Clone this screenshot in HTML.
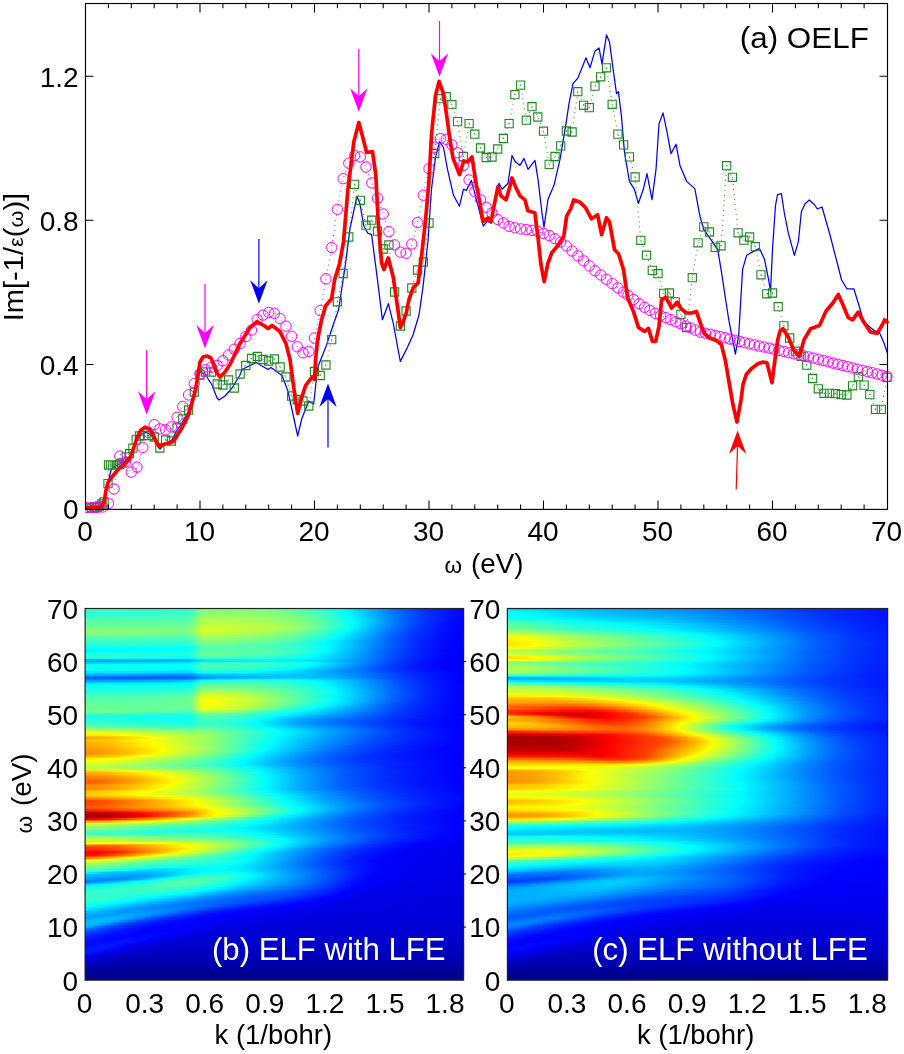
<!DOCTYPE html>
<html lang="en"><head><meta charset="utf-8"><title>OELF and ELF maps</title>
<style>html,body{margin:0;padding:0;background:#fff}svg{display:block}</style></head>
<body>
<svg width="904" height="1054" viewBox="0 0 904 1054">
<rect width="904" height="1054" fill="#fff"/>
<g id="panel-a">
<clipPath id="ca"><rect x="85.5" y="3.5" width="808.0" height="509.9"/></clipPath>
<g clip-path="url(#ca)">
<polyline fill="none" stroke="#0000ff" stroke-width="1.25" stroke-linejoin="round" points="85.5,507.5 100,507 104,503 106,492 108,483 111,470 115,466 120,464 125,461 130,456 134,446 138,438 142,434 146,432.5 150,434 154,439 158,447 160,449 163,446 168,442 172,440 176,432 182,423 188,412 193,396 197,380 200,372 205,374 212,385 217,398 219,400 225,396 232,388 240,375 242,369.5 256,362.5 268,369.5 271,367.5 282,375.5 288,391.4 294,419 297.7,436 301.7,419 308.7,401 313.7,404 317.6,367.5 325.6,347.6 333.6,323.7 338.6,309.7 345.5,264 349.9,229.2 356.9,196.3 359.8,203.3 363.8,226 367.8,233.2 371.6,234.7 376.6,272.9 382.4,319.7 388.4,303.7 393.3,323.7 400.3,361.5 407.3,347.6 413,335 419,315 423.1,286.2 428.1,239.7 431.4,189.8 435.5,157.5 439.5,141.6 443.5,147.5 447.5,169.4 453.5,195.3 459.4,206.3 463.4,189.4 466.4,190.4 471.4,180.4 477.4,203.3 483.3,226.2 487.3,221.2 491.3,223.2 496.2,194.8 499,183.3 502,189.3 508,183.3 512,155.5 515,161.4 520,165.4 524,158.4 528,169.4 535,160.4 538,179.4 542,213.2 544,227.2 548,199.3 554,185.3 560,159.4 566,123.6 569,103.7 573,83.7 578,77.8 586,57.8 590,67.8 595,50.9 599,47.9 602,63.8 606.5,34.9 609.5,41.9 613.5,71.8 616.5,93.7 618.4,91.7 621.4,115.6 624.4,151.5 629.4,181.4 634.4,189.3 638.4,203.3 643.3,189.3 647,173.7 652,199.6 656,169.7 659,123.9 663,112.9 667,131.8 671,153.7 676,144.2 680,165.7 686.8,181.6 694.8,188.6 699.8,215.5 703.7,229.4 717.7,249.4 721.7,273.3 725.7,300 728.8,319.8 735.4,354.1 738.7,335.3 742.6,269.3 746.6,255.3 753.5,251.4 759.5,248.4 764.5,259.3 768.5,279.2 770.5,291.2 772.5,249.4 775.5,205.5 777.5,194.6 781.4,193.6 784.4,213.5 788.4,233.4 794.4,255.3 798.4,241.4 801.4,211.5 805.3,203.5 809.3,200 814.3,204.5 817.3,209 822,207 830,235 841.6,280 847,288.8 853.8,288.8 859.3,306.5 863.7,322 874.8,330.9 879.2,332 883.6,341.9 887.4,353"/>
<polyline fill="none" stroke="#1e8a1e" stroke-width="1" stroke-dasharray="1 4" points="87,508 89.5,508 92,508 94.5,507.5 97,507 99.5,506 102,504 104,502 108,483.6 108.5,465 110.7,465 112.9,465 115.1,464.8 117.3,464.8 119.5,464.5 121.8,463 126.2,457 129.6,453.7 132.9,448.2 136.2,439.9 139.5,436 143.9,435.5 148.4,435.5 154.2,437 159.9,448 165.6,440 171.4,441 177.1,428 182.8,419 188.6,410 194.3,392 200,375 205.7,372 211.4,372 217.2,384 222.9,385 228.6,380 234.3,388 240.1,374 245.8,365.5 251.5,358.5 257.2,356.5 263,359.5 268.7,361 274.4,359 280.1,367 285.9,377 291.6,396 297.3,399.5 303,401 308.8,406 314.5,371.5 320.2,375.5 325.9,365 331.7,339.6 337.4,301.8 343.1,273.5 348.8,237 354.6,184.4 360.3,200.3 366,225.2 371.8,220.2 377.5,231.2 383.2,249 388.9,245 394.6,292 400.4,326 406.1,311 411.8,288 417.5,270 423.3,262 429,223 434.7,153.5 440.4,98.7 446.2,96.7 451.9,104.7 457.6,121.6 463.3,156.5 469.1,123.6 474.8,134.2 480.5,148 486.2,157.5 492,157 497.7,149 503.4,138.5 509.1,123.6 514.9,94.7 520.6,85.1 526.3,120.2 532,106.7 537.8,117 543.5,131.2 549.2,164.4 555,156.5 560.7,145.9 566.4,131 572.1,132 577.8,91.7 583.6,105.3 589.3,107.6 595,86.1 600.8,76.8 606.5,67.8 612.2,104.3 617.9,134.1 623.6,144.9 629.4,156.9 635.1,177 640.8,240.3 646.5,255.2 652.3,270.4 658,273.7 663.7,293.4 669.4,293 675.2,301.8 680.9,314.4 686.6,327.5 692.3,277.7 698.1,242.8 703.8,226.9 709.5,232 715.2,247.4 721,245.8 726.7,165.7 732.4,177.3 738.1,232.8 743.9,240.2 749.6,237 755.3,246.7 761,274.8 766.8,293.8 772.5,293 778.2,306.7 783.9,325.8 789.7,338 795.4,351.2 801.1,356.3 806.8,365.2 812.6,378.5 818.3,388.8 824,393.3 829.8,393.3 835.5,393.7 841.2,394.6 846.9,395 852.6,385.8 858.4,376.7 864.1,385.1 869.8,394.6 875.5,409.4 881.3,409.4 887,377.3"/>
<path fill="none" stroke="#1e8a1e" stroke-width="1.1" d="M82.9 503.9h8.2v8.2h-8.2zM85.4 503.9h8.2v8.2h-8.2zM87.9 503.9h8.2v8.2h-8.2zM90.4 503.4h8.2v8.2h-8.2zM92.9 502.9h8.2v8.2h-8.2zM95.4 501.9h8.2v8.2h-8.2zM97.9 499.9h8.2v8.2h-8.2zM99.9 497.9h8.2v8.2h-8.2zM103.9 479.5h8.2v8.2h-8.2zM104.4 460.9h8.2v8.2h-8.2zM106.6 460.9h8.2v8.2h-8.2zM108.8 460.9h8.2v8.2h-8.2zM111 460.7h8.2v8.2h-8.2zM113.2 460.7h8.2v8.2h-8.2zM115.4 460.4h8.2v8.2h-8.2zM117.7 458.9h8.2v8.2h-8.2zM122.1 452.9h8.2v8.2h-8.2zM125.5 449.6h8.2v8.2h-8.2zM128.8 444.1h8.2v8.2h-8.2zM132.1 435.8h8.2v8.2h-8.2zM135.4 431.9h8.2v8.2h-8.2zM139.8 431.4h8.2v8.2h-8.2zM144.3 431.4h8.2v8.2h-8.2zM150.1 432.9h8.2v8.2h-8.2zM155.8 443.9h8.2v8.2h-8.2zM161.5 435.9h8.2v8.2h-8.2zM167.3 436.9h8.2v8.2h-8.2zM173 423.9h8.2v8.2h-8.2zM178.7 414.9h8.2v8.2h-8.2zM184.5 405.9h8.2v8.2h-8.2zM190.2 387.9h8.2v8.2h-8.2zM195.9 370.9h8.2v8.2h-8.2zM201.6 367.9h8.2v8.2h-8.2zM207.3 367.9h8.2v8.2h-8.2zM213.1 379.9h8.2v8.2h-8.2zM218.8 380.9h8.2v8.2h-8.2zM224.5 375.9h8.2v8.2h-8.2zM230.2 383.9h8.2v8.2h-8.2zM236 369.9h8.2v8.2h-8.2zM241.7 361.4h8.2v8.2h-8.2zM247.4 354.4h8.2v8.2h-8.2zM253.2 352.4h8.2v8.2h-8.2zM258.9 355.4h8.2v8.2h-8.2zM264.6 356.9h8.2v8.2h-8.2zM270.3 354.9h8.2v8.2h-8.2zM276 362.9h8.2v8.2h-8.2zM281.8 372.9h8.2v8.2h-8.2zM287.5 391.9h8.2v8.2h-8.2zM293.2 395.4h8.2v8.2h-8.2zM298.9 396.9h8.2v8.2h-8.2zM304.7 401.9h8.2v8.2h-8.2zM310.4 367.4h8.2v8.2h-8.2zM316.1 371.4h8.2v8.2h-8.2zM321.8 360.9h8.2v8.2h-8.2zM327.6 335.5h8.2v8.2h-8.2zM333.3 297.7h8.2v8.2h-8.2zM339 269.4h8.2v8.2h-8.2zM344.7 232.9h8.2v8.2h-8.2zM350.5 180.3h8.2v8.2h-8.2zM356.2 196.2h8.2v8.2h-8.2zM361.9 221.1h8.2v8.2h-8.2zM367.6 216.1h8.2v8.2h-8.2zM373.4 227.1h8.2v8.2h-8.2zM379.1 244.9h8.2v8.2h-8.2zM384.8 240.9h8.2v8.2h-8.2zM390.5 287.9h8.2v8.2h-8.2zM396.3 321.9h8.2v8.2h-8.2zM402 306.9h8.2v8.2h-8.2zM407.7 283.9h8.2v8.2h-8.2zM413.4 265.9h8.2v8.2h-8.2zM419.2 257.9h8.2v8.2h-8.2zM424.9 218.9h8.2v8.2h-8.2zM430.6 149.4h8.2v8.2h-8.2zM436.3 94.6h8.2v8.2h-8.2zM442.1 92.6h8.2v8.2h-8.2zM447.8 100.6h8.2v8.2h-8.2zM453.5 117.5h8.2v8.2h-8.2zM459.2 152.4h8.2v8.2h-8.2zM465 119.5h8.2v8.2h-8.2zM470.7 130.1h8.2v8.2h-8.2zM476.4 143.9h8.2v8.2h-8.2zM482.1 153.4h8.2v8.2h-8.2zM487.9 152.9h8.2v8.2h-8.2zM493.6 144.9h8.2v8.2h-8.2zM499.3 134.4h8.2v8.2h-8.2zM505 119.5h8.2v8.2h-8.2zM510.8 90.6h8.2v8.2h-8.2zM516.5 81h8.2v8.2h-8.2zM522.2 116.1h8.2v8.2h-8.2zM527.9 102.6h8.2v8.2h-8.2zM533.7 112.9h8.2v8.2h-8.2zM539.4 127.1h8.2v8.2h-8.2zM545.1 160.3h8.2v8.2h-8.2zM550.9 152.4h8.2v8.2h-8.2zM556.6 141.8h8.2v8.2h-8.2zM562.3 126.9h8.2v8.2h-8.2zM568 127.9h8.2v8.2h-8.2zM573.7 87.6h8.2v8.2h-8.2zM579.5 101.2h8.2v8.2h-8.2zM585.2 103.5h8.2v8.2h-8.2zM590.9 82h8.2v8.2h-8.2zM596.6 72.7h8.2v8.2h-8.2zM602.4 63.7h8.2v8.2h-8.2zM608.1 100.2h8.2v8.2h-8.2zM613.8 130h8.2v8.2h-8.2zM619.5 140.8h8.2v8.2h-8.2zM625.3 152.8h8.2v8.2h-8.2zM631 172.9h8.2v8.2h-8.2zM636.7 236.2h8.2v8.2h-8.2zM642.4 251.1h8.2v8.2h-8.2zM648.2 266.3h8.2v8.2h-8.2zM653.9 269.6h8.2v8.2h-8.2zM659.6 289.3h8.2v8.2h-8.2zM665.3 288.9h8.2v8.2h-8.2zM671.1 297.7h8.2v8.2h-8.2zM676.8 310.3h8.2v8.2h-8.2zM682.5 323.4h8.2v8.2h-8.2zM688.2 273.6h8.2v8.2h-8.2zM694 238.7h8.2v8.2h-8.2zM699.7 222.8h8.2v8.2h-8.2zM705.4 227.9h8.2v8.2h-8.2zM711.1 243.3h8.2v8.2h-8.2zM716.9 241.7h8.2v8.2h-8.2zM722.6 161.6h8.2v8.2h-8.2zM728.3 173.2h8.2v8.2h-8.2zM734 228.7h8.2v8.2h-8.2zM739.8 236.1h8.2v8.2h-8.2zM745.5 232.9h8.2v8.2h-8.2zM751.2 242.6h8.2v8.2h-8.2zM756.9 270.7h8.2v8.2h-8.2zM762.7 289.7h8.2v8.2h-8.2zM768.4 288.9h8.2v8.2h-8.2zM774.1 302.6h8.2v8.2h-8.2zM779.8 321.7h8.2v8.2h-8.2zM785.6 333.9h8.2v8.2h-8.2zM791.3 347.1h8.2v8.2h-8.2zM797 352.2h8.2v8.2h-8.2zM802.7 361.1h8.2v8.2h-8.2zM808.5 374.4h8.2v8.2h-8.2zM814.2 384.7h8.2v8.2h-8.2zM819.9 389.2h8.2v8.2h-8.2zM825.6 389.2h8.2v8.2h-8.2zM831.4 389.6h8.2v8.2h-8.2zM837.1 390.5h8.2v8.2h-8.2zM842.8 390.9h8.2v8.2h-8.2zM848.5 381.7h8.2v8.2h-8.2zM854.3 372.6h8.2v8.2h-8.2zM860 381h8.2v8.2h-8.2zM865.7 390.5h8.2v8.2h-8.2zM871.4 405.3h8.2v8.2h-8.2zM877.2 405.3h8.2v8.2h-8.2zM882.9 373.2h8.2v8.2h-8.2z"/>
<path fill="none" stroke="#1e8a1e" stroke-width="1" d="M86.5 508h1M89 508h1M91.5 508h1M94 507.5h1M96.5 507h1M99 506h1M101.5 504h1M103.5 502h1M107.5 483.6h1M108 465h1M110.2 465h1M112.4 465h1M114.6 464.8h1M116.8 464.8h1M119 464.5h1M121.3 463h1M125.7 457h1M129.1 453.7h1M132.4 448.2h1M135.7 439.9h1M139 436h1M143.4 435.5h1M147.9 435.5h1M153.7 437h1M159.4 448h1M165.1 440h1M170.9 441h1M176.6 428h1M182.3 419h1M188.1 410h1M193.8 392h1M199.5 375h1M205.2 372h1M210.9 372h1M216.7 384h1M222.4 385h1M228.1 380h1M233.8 388h1M239.6 374h1M245.3 365.5h1M251 358.5h1M256.8 356.5h1M262.5 359.5h1M268.2 361h1M273.9 359h1M279.6 367h1M285.4 377h1M291.1 396h1M296.8 399.5h1M302.5 401h1M308.3 406h1M314 371.5h1M319.7 375.5h1M325.4 365h1M331.2 339.6h1M336.9 301.8h1M342.6 273.5h1M348.3 237h1M354.1 184.4h1M359.8 200.3h1M365.5 225.2h1M371.2 220.2h1M377 231.2h1M382.7 249h1M388.4 245h1M394.1 292h1M399.9 326h1M405.6 311h1M411.3 288h1M417 270h1M422.8 262h1M428.5 223h1M434.2 153.5h1M439.9 98.7h1M445.7 96.7h1M451.4 104.7h1M457.1 121.6h1M462.8 156.5h1M468.6 123.6h1M474.3 134.2h1M480 148h1M485.8 157.5h1M491.5 157h1M497.2 149h1M502.9 138.5h1M508.6 123.6h1M514.4 94.7h1M520.1 85.1h1M525.8 120.2h1M531.5 106.7h1M537.3 117h1M543 131.2h1M548.7 164.4h1M554.5 156.5h1M560.2 145.9h1M565.9 131h1M571.6 132h1M577.3 91.7h1M583.1 105.3h1M588.8 107.6h1M594.5 86.1h1M600.2 76.8h1M606 67.8h1M611.7 104.3h1M617.4 134.1h1M623.1 144.9h1M628.9 156.9h1M634.6 177h1M640.3 240.3h1M646 255.2h1M651.8 270.4h1M657.5 273.7h1M663.2 293.4h1M668.9 293h1M674.7 301.8h1M680.4 314.4h1M686.1 327.5h1M691.8 277.7h1M697.6 242.8h1M703.3 226.9h1M709 232h1M714.8 247.4h1M720.5 245.8h1M726.2 165.7h1M731.9 177.3h1M737.6 232.8h1M743.4 240.2h1M749.1 237h1M754.8 246.7h1M760.5 274.8h1M766.3 293.8h1M772 293h1M777.7 306.7h1M783.4 325.8h1M789.2 338h1M794.9 351.2h1M800.6 356.3h1M806.3 365.2h1M812.1 378.5h1M817.8 388.8h1M823.5 393.3h1M829.2 393.3h1M835 393.7h1M840.7 394.6h1M846.4 395h1M852.1 385.8h1M857.9 376.7h1M863.6 385.1h1M869.3 394.6h1M875 409.4h1M880.8 409.4h1M886.5 377.3h1"/>
<polyline fill="none" stroke="#ff00ff" stroke-width="1" stroke-dasharray="1 4" points="85.5,507.5 97,507.5 103,507 108,504 111.9,501.3 113.5,493 116.3,475.3 118.5,460 120.7,453.7 124,458 128,468 132,473 135,471.4 137.9,465.3 140,458 142.3,448.7 146,438 150,429 153.9,424.4 159.4,428.8 165,430 170.5,428.3 176,419.4 182,408 188,396 194,384 200,374 206,369.5 212,367 219,364.8 226,357.7 233,350.6 240,343.5 245,337.5 252,329.6 257,319.7 262,315.7 267,312.7 272,312 277,314.7 285,324.7 290.8,334.6 295.7,344.6 301.7,352.6 307.7,353.5 313.7,341.6 318.6,319.7 324.6,286.2 331.6,248 336.9,212.3 341.9,182.4 347.9,164.5 354.3,155.5 359.8,156 365.8,166.5 370.8,180.4 376.8,196.3 383.3,214.3 388.7,231.2 394,244 400,252 405.5,254 411,247 417,225.2 422.6,198.3 428.6,170.4 433.5,149.5 439.5,138.6 445.5,138.6 451.5,144.5 457.5,152.5 463.4,165.5 468.4,178.4 473.4,189.4 479.4,198.3 485.3,206.3 490.3,211 498,219.8 510,226.8 520,228.8 535.8,230.8 549.8,235.7 563.7,243.7 577.6,255.7 593.6,269.6 609.5,281.6 625.5,293.5 641.4,305.5 655.3,313.4 670,319.4 700,332 722,337 744,342.6 766.4,347.5 788.5,352.6 810.6,357.4 832.7,363 854.9,368.5 877,374 887.4,376.7"/>
<g fill="none" stroke="#ff00ff" stroke-width="1">
<circle cx="85.5" cy="507.5" r="5.2"/><circle cx="91.2" cy="507.5" r="5.2"/><circle cx="97" cy="507.5" r="5.2"/><circle cx="102.7" cy="507" r="5.2"/><circle cx="108.4" cy="503.7" r="5.2"/><circle cx="114.1" cy="489" r="5.2"/><circle cx="119.8" cy="456.1" r="5.2"/><circle cx="125.6" cy="461.9" r="5.2"/><circle cx="131.3" cy="472.1" r="5.2"/><circle cx="137" cy="467.1" r="5.2"/><circle cx="142.8" cy="447.4" r="5.2"/><circle cx="148.5" cy="432.4" r="5.2"/><circle cx="154.2" cy="424.6" r="5.2"/><circle cx="159.9" cy="428.9" r="5.2"/><circle cx="165.6" cy="429.8" r="5.2"/><circle cx="171.4" cy="426.9" r="5.2"/><circle cx="177.1" cy="417.3" r="5.2"/><circle cx="182.8" cy="406.4" r="5.2"/><circle cx="188.6" cy="394.9" r="5.2"/><circle cx="194.3" cy="383.5" r="5.2"/><circle cx="200" cy="374" r="5.2"/><circle cx="205.7" cy="369.7" r="5.2"/><circle cx="211.4" cy="367.2" r="5.2"/><circle cx="217.2" cy="365.4" r="5.2"/><circle cx="222.9" cy="360.8" r="5.2"/><circle cx="228.6" cy="355" r="5.2"/><circle cx="234.3" cy="349.2" r="5.2"/><circle cx="240.1" cy="343.4" r="5.2"/><circle cx="245.8" cy="336.6" r="5.2"/><circle cx="251.5" cy="330.1" r="5.2"/><circle cx="257.2" cy="319.5" r="5.2"/><circle cx="263" cy="315.1" r="5.2"/><circle cx="268.7" cy="312.5" r="5.2"/><circle cx="274.4" cy="313.3" r="5.2"/><circle cx="280.1" cy="318.6" r="5.2"/><circle cx="285.9" cy="326.2" r="5.2"/><circle cx="291.6" cy="336.2" r="5.2"/><circle cx="297.3" cy="346.8" r="5.2"/><circle cx="303" cy="352.8" r="5.2"/><circle cx="308.8" cy="351.4" r="5.2"/><circle cx="314.5" cy="338" r="5.2"/><circle cx="320.2" cy="310.6" r="5.2"/><circle cx="325.9" cy="278.8" r="5.2"/><circle cx="331.7" cy="247.5" r="5.2"/><circle cx="337.4" cy="209.3" r="5.2"/><circle cx="343.1" cy="178.7" r="5.2"/><circle cx="348.8" cy="163.2" r="5.2"/><circle cx="354.6" cy="155.5" r="5.2"/><circle cx="360.3" cy="156.9" r="5.2"/><circle cx="366" cy="167.1" r="5.2"/><circle cx="371.8" cy="182.9" r="5.2"/><circle cx="377.5" cy="198.2" r="5.2"/><circle cx="383.2" cy="214" r="5.2"/><circle cx="388.9" cy="231.7" r="5.2"/><circle cx="394.6" cy="244.9" r="5.2"/><circle cx="400.4" cy="252.1" r="5.2"/><circle cx="406.1" cy="253.2" r="5.2"/><circle cx="411.8" cy="244" r="5.2"/><circle cx="417.5" cy="222.6" r="5.2"/><circle cx="423.3" cy="195.2" r="5.2"/><circle cx="429" cy="168.7" r="5.2"/><circle cx="434.7" cy="147.3" r="5.2"/><circle cx="440.4" cy="138.6" r="5.2"/><circle cx="446.2" cy="139.3" r="5.2"/><circle cx="451.9" cy="145" r="5.2"/><circle cx="457.6" cy="152.8" r="5.2"/><circle cx="463.3" cy="165.4" r="5.2"/><circle cx="469.1" cy="179.9" r="5.2"/><circle cx="474.8" cy="191.5" r="5.2"/><circle cx="480.5" cy="199.8" r="5.2"/><circle cx="486.2" cy="207.2" r="5.2"/><circle cx="492" cy="212.9" r="5.2"/><circle cx="497.7" cy="219.5" r="5.2"/><circle cx="503.4" cy="223" r="5.2"/><circle cx="509.1" cy="226.3" r="5.2"/><circle cx="514.9" cy="227.8" r="5.2"/><circle cx="520.6" cy="228.9" r="5.2"/><circle cx="526.3" cy="229.6" r="5.2"/><circle cx="532" cy="230.3" r="5.2"/><circle cx="537.8" cy="231.5" r="5.2"/><circle cx="543.5" cy="233.5" r="5.2"/><circle cx="549.2" cy="235.5" r="5.2"/><circle cx="555" cy="238.7" r="5.2"/><circle cx="560.7" cy="242" r="5.2"/><circle cx="566.4" cy="246" r="5.2"/><circle cx="572.1" cy="251" r="5.2"/><circle cx="577.8" cy="255.9" r="5.2"/><circle cx="583.6" cy="260.9" r="5.2"/><circle cx="589.3" cy="265.9" r="5.2"/><circle cx="595" cy="270.7" r="5.2"/><circle cx="600.8" cy="275" r="5.2"/><circle cx="606.5" cy="279.3" r="5.2"/><circle cx="612.2" cy="283.6" r="5.2"/><circle cx="617.9" cy="287.9" r="5.2"/><circle cx="623.6" cy="292.1" r="5.2"/><circle cx="627.9" cy="295.3" r="5.2"/><circle cx="633.5" cy="299.6" r="5.2"/><circle cx="639.1" cy="303.7" r="5.2"/><circle cx="644.6" cy="307.3" r="5.2"/><circle cx="649.9" cy="310.4" r="5.2"/><circle cx="655.3" cy="313.4" r="5.2"/><circle cx="660.5" cy="315.5" r="5.2"/><circle cx="665.7" cy="317.6" r="5.2"/><circle cx="670.8" cy="319.7" r="5.2"/><circle cx="675.8" cy="321.8" r="5.2"/><circle cx="680.8" cy="323.9" r="5.2"/><circle cx="685.7" cy="326" r="5.2"/><circle cx="690.6" cy="328" r="5.2"/><circle cx="695.5" cy="330.1" r="5.2"/><circle cx="700.4" cy="332.1" r="5.2"/><circle cx="705.3" cy="333.2" r="5.2"/><circle cx="710.2" cy="334.3" r="5.2"/><circle cx="715.1" cy="335.4" r="5.2"/><circle cx="720.1" cy="336.6" r="5.2"/><circle cx="725" cy="337.8" r="5.2"/><circle cx="729.9" cy="339" r="5.2"/><circle cx="734.8" cy="340.3" r="5.2"/><circle cx="739.7" cy="341.5" r="5.2"/><circle cx="744.6" cy="342.7" r="5.2"/><circle cx="749.5" cy="343.8" r="5.2"/><circle cx="754.4" cy="344.9" r="5.2"/><circle cx="759.3" cy="346" r="5.2"/><circle cx="764.2" cy="347" r="5.2"/><circle cx="769.2" cy="348.1" r="5.2"/><circle cx="774.1" cy="349.3" r="5.2"/><circle cx="779" cy="350.4" r="5.2"/><circle cx="783.9" cy="351.5" r="5.2"/><circle cx="788.8" cy="352.7" r="5.2"/><circle cx="793.7" cy="353.7" r="5.2"/><circle cx="798.6" cy="354.8" r="5.2"/><circle cx="803.5" cy="355.9" r="5.2"/><circle cx="808.4" cy="356.9" r="5.2"/><circle cx="813.3" cy="358.1" r="5.2"/><circle cx="818.3" cy="359.3" r="5.2"/><circle cx="823.2" cy="360.6" r="5.2"/><circle cx="828.1" cy="361.8" r="5.2"/><circle cx="833" cy="363.1" r="5.2"/><circle cx="837.9" cy="364.3" r="5.2"/><circle cx="842.8" cy="365.5" r="5.2"/><circle cx="847.7" cy="366.7" r="5.2"/><circle cx="852.6" cy="367.9" r="5.2"/><circle cx="857.5" cy="369.2" r="5.2"/><circle cx="862.4" cy="370.4" r="5.2"/><circle cx="867.4" cy="371.6" r="5.2"/><circle cx="872.3" cy="372.8" r="5.2"/><circle cx="877.2" cy="374" r="5.2"/><circle cx="882.1" cy="375.3" r="5.2"/><circle cx="887" cy="376.6" r="5.2"/>
</g>
<polyline fill="none" stroke="#ff0000" stroke-width="3.7" stroke-linejoin="round" stroke-linecap="round" points="85.5,507.5 100,507 102,506 104.1,502.4 105.8,491.3 108,482.5 111.9,477 118.5,469.2 126.2,462.6 130.7,457 134,447 137.3,437 140.6,430.5 145,427.2 149.5,429.4 152.8,433.8 156.1,441.5 159.4,446.5 163.9,444.3 170.5,442.7 173.8,441 178.2,433.8 182,428 188,416 192,403 195.5,390 198,375 200,362 203,357 207,356 211,358 214,365 217,373 220,377 225,372 230,364.5 240,343.6 250,327.6 257,321.7 264,325.6 268,328.6 272,325.6 280,331.6 286,343.6 290,359.5 294,389.4 297.7,413.3 301.7,397.4 305.7,385.4 311.7,377.5 314.6,379.4 315.6,359.5 317.6,339.6 321.6,319.7 325.6,305.7 331.6,298.8 334.6,279.8 339.5,263.9 343.5,242 347.9,189.4 353.9,141.6 358.8,122.6 362.8,137.6 366.6,152.5 372.5,151.6 375.8,175 378.3,223 381.6,263 384,269.6 388.2,258 393.2,277 397.4,306 400.3,327.6 403.5,321 406.5,312 409,299.5 413.2,287.8 418.1,282.9 421.5,256.3 425.6,219.7 428.9,181.5 431.6,133.6 435.5,95.7 439.1,81.4 443.5,93.7 447.5,121.6 450,140 453,158 459.5,174.6 463.8,161 468,162 472,157 476.3,185 480,203 482.9,221.4 487.9,218 491.2,221.4 494,206 498,186.5 501,195.9 506,199.9 509,189.9 512,178 516,187.9 520,195.9 525,199.9 527.8,210.8 534.8,212.8 537.8,235.7 540.8,263.6 544.2,281.6 547.8,263.6 551.8,252.7 557.7,245.7 563.7,236.7 566.7,215.8 570.7,208.8 573.7,199.9 579.6,201.9 585.6,207.8 591.6,218.8 597.6,214.8 601.6,234.7 606.5,217.8 609.5,221.8 614.5,249.7 618.5,253.7 623.5,269.6 627.5,297.5 633.4,311.4 638.4,327.4 644.4,331.4 648.4,328.4 652.4,341.3 655.7,341.3 659,326.3 661.6,299.8 665.7,297.3 669,303 671.5,308 677.3,302.3 681.5,309 686.5,313 691.5,313 696.4,311.4 699.8,321.4 703.9,333 709.7,338 716.4,340.5 721.4,344.6 725.5,361.2 729.7,386.1 733,405 737,422 741,400 743,384.5 746.3,374.5 751.3,368.7 757.9,363.7 762.9,362 767,362.9 769.5,372.9 772,382.8 774.5,362.9 777.8,339.6 780,331.3 783,328.7 788.5,337.5 794,350.8 799.6,356.3 804,339.7 810.6,328.7 819.5,325.4 826.1,311 832.7,303.2 838.3,294.4 842.7,304.3 848.2,317.6 852.7,319.8 858.2,312.1 863.7,322 870.4,332 877,333.5 881.4,326.5 884.7,319.8 887,322"/>
</g>
<line x1="146.7" y1="350" x2="146.7" y2="400.2" stroke="#ff00ff" stroke-width="1.2"/><path fill="#ff00ff" d="M146.7 414.7L138 391.2L146.7 399.2L155.4 391.2Z"/>
<line x1="205" y1="284" x2="205" y2="334" stroke="#ff00ff" stroke-width="1.2"/><path fill="#ff00ff" d="M205 348.5L196.3 325L205 333L213.7 325Z"/>
<line x1="258.9" y1="239" x2="258.9" y2="289.2" stroke="#0000ff" stroke-width="1.2"/><path fill="#0000ff" d="M258.9 303.7L250.2 280.2L258.9 288.2L267.6 280.2Z"/>
<line x1="328" y1="447.5" x2="328" y2="397.9" stroke="#0000ff" stroke-width="1.2"/><path fill="#0000ff" d="M328 383.4L319.3 406.9L328 398.9L336.7 406.9Z"/>
<line x1="358.8" y1="48.9" x2="358.8" y2="97.2" stroke="#ff00ff" stroke-width="1.2"/><path fill="#ff00ff" d="M358.8 111.7L350.1 88.2L358.8 96.2L367.5 88.2Z"/>
<line x1="439.5" y1="21" x2="439.5" y2="62.3" stroke="#ff00ff" stroke-width="1.2"/><path fill="#ff00ff" d="M439.5 76.8L430.8 53.3L439.5 61.3L448.2 53.3Z"/>
<line x1="736.2" y1="489.4" x2="737.6" y2="444.9" stroke="#ff0000" stroke-width="1.2"/><path fill="#ff0000" d="M737.6 430.4L728.9 453.9L737.6 445.9L746.3 453.9Z"/>
<rect x="85.5" y="3.5" width="802.0" height="505.9" fill="none" stroke="#000" stroke-width="1.15"/>
<path fill="none" stroke="#000" stroke-width="1.05" d="M108.4 509.4v-4.8M108.4 3.5v4.8M131.3 509.4v-4.8M131.3 3.5v4.8M154.2 509.4v-4.8M154.2 3.5v4.8M177.1 509.4v-4.8M177.1 3.5v4.8M200 509.4v-9M200 3.5v9M222.9 509.4v-4.8M222.9 3.5v4.8M245.8 509.4v-4.8M245.8 3.5v4.8M268.7 509.4v-4.8M268.7 3.5v4.8M291.6 509.4v-4.8M291.6 3.5v4.8M314.5 509.4v-9M314.5 3.5v9M337.4 509.4v-4.8M337.4 3.5v4.8M360.3 509.4v-4.8M360.3 3.5v4.8M383.2 509.4v-4.8M383.2 3.5v4.8M406.1 509.4v-4.8M406.1 3.5v4.8M429 509.4v-9M429 3.5v9M451.9 509.4v-4.8M451.9 3.5v4.8M474.8 509.4v-4.8M474.8 3.5v4.8M497.7 509.4v-4.8M497.7 3.5v4.8M520.6 509.4v-4.8M520.6 3.5v4.8M543.5 509.4v-9M543.5 3.5v9M566.4 509.4v-4.8M566.4 3.5v4.8M589.3 509.4v-4.8M589.3 3.5v4.8M612.2 509.4v-4.8M612.2 3.5v4.8M635.1 509.4v-4.8M635.1 3.5v4.8M658 509.4v-9M658 3.5v9M680.9 509.4v-4.8M680.9 3.5v4.8M703.8 509.4v-4.8M703.8 3.5v4.8M726.7 509.4v-4.8M726.7 3.5v4.8M749.6 509.4v-4.8M749.6 3.5v4.8M772.5 509.4v-9M772.5 3.5v9M795.4 509.4v-4.8M795.4 3.5v4.8M818.3 509.4v-4.8M818.3 3.5v4.8M841.2 509.4v-4.8M841.2 3.5v4.8M864.1 509.4v-4.8M864.1 3.5v4.8M85.5 364.4h8M887.5 364.4h-8M85.5 220.3h8M887.5 220.3h-8M85.5 76.3h8M887.5 76.3h-8"/>
<g font-family='"Liberation Sans", Arial, Helvetica, sans-serif' font-size="28" fill="#000">
<text x="85" y="541.1" text-anchor="middle">0</text>
<text x="199.5" y="541.1" text-anchor="middle">10</text>
<text x="314" y="541.1" text-anchor="middle">20</text>
<text x="428.5" y="541.1" text-anchor="middle">30</text>
<text x="543" y="541.1" text-anchor="middle">40</text>
<text x="657.5" y="541.1" text-anchor="middle">50</text>
<text x="772" y="541.1" text-anchor="middle">60</text>
<text x="886.5" y="541.1" text-anchor="middle">70</text>
<text x="78.6" y="518.8" text-anchor="end">0</text>
<text x="78.6" y="374.7" text-anchor="end">0.4</text>
<text x="78.6" y="230.6" text-anchor="end">0.8</text>
<text x="78.6" y="86.6" text-anchor="end">1.2</text>
<text x="444.6" y="572.5" font-size="22.5">ω</text><text x="471" y="572.5" textLength="52.5" lengthAdjust="spacingAndGlyphs">(eV)</text>
<text transform="translate(22.5,321.3) rotate(-90)" textLength="128.5" lengthAdjust="spacingAndGlyphs">Im[-1/<tspan font-size="21">ε</tspan>(<tspan font-size="21">ω</tspan>)]</text>
<text x="739.8" y="47.8" font-size="30.4" textLength="129" lengthAdjust="spacingAndGlyphs">(a) OELF</text>
</g>
</g>
<g id="panel-b">
<defs><linearGradient id="b0"><stop offset="0" stop-color="#42ffbd"/><stop offset="0.27" stop-color="#3dffc2"/><stop offset="0.28" stop-color="#45ffba"/><stop offset="0.291" stop-color="#5dffa2"/><stop offset="0.302" stop-color="#7eff81"/><stop offset="0.312" stop-color="#8dff72"/><stop offset="0.386" stop-color="#8eff71"/><stop offset="0.503" stop-color="#78ff87"/><stop offset="0.577" stop-color="#56ffa9"/><stop offset="0.646" stop-color="#21ffde"/><stop offset="0.683" stop-color="#00fcff"/><stop offset="0.825" stop-color="#0067ff"/><stop offset="0.905" stop-color="#002bff"/><stop offset="0.984" stop-color="#0007ff"/><stop offset="1" stop-color="#0003ff"/></linearGradient><linearGradient id="b1"><stop offset="0" stop-color="#3affc5"/><stop offset="0.27" stop-color="#38ffc7"/><stop offset="0.28" stop-color="#3fffc0"/><stop offset="0.291" stop-color="#58ffa7"/><stop offset="0.302" stop-color="#79ff86"/><stop offset="0.312" stop-color="#88ff77"/><stop offset="0.36" stop-color="#8bff74"/><stop offset="0.476" stop-color="#7fff80"/><stop offset="0.556" stop-color="#64ff9b"/><stop offset="0.619" stop-color="#3bffc4"/><stop offset="0.683" stop-color="#01fffe"/><stop offset="0.831" stop-color="#0064ff"/><stop offset="0.91" stop-color="#0029ff"/><stop offset="0.989" stop-color="#0006ff"/><stop offset="1" stop-color="#0003ff"/></linearGradient><linearGradient id="b2"><stop offset="0" stop-color="#2effd1"/><stop offset="0.265" stop-color="#33ffcc"/><stop offset="0.28" stop-color="#3cffc3"/><stop offset="0.291" stop-color="#55ffaa"/><stop offset="0.302" stop-color="#76ff89"/><stop offset="0.312" stop-color="#85ff7a"/><stop offset="0.36" stop-color="#8aff75"/><stop offset="0.476" stop-color="#81ff7e"/><stop offset="0.556" stop-color="#68ff97"/><stop offset="0.619" stop-color="#40ffbf"/><stop offset="0.688" stop-color="#00ffff"/><stop offset="0.825" stop-color="#006bff"/><stop offset="0.894" stop-color="#0034ff"/><stop offset="0.968" stop-color="#000eff"/><stop offset="1" stop-color="#0004ff"/></linearGradient><linearGradient id="b3"><stop offset="0" stop-color="#29ffd6"/><stop offset="0.249" stop-color="#31ffce"/><stop offset="0.275" stop-color="#37ffc8"/><stop offset="0.286" stop-color="#47ffb8"/><stop offset="0.302" stop-color="#77ff88"/><stop offset="0.312" stop-color="#87ff78"/><stop offset="0.37" stop-color="#8dff72"/><stop offset="0.481" stop-color="#86ff79"/><stop offset="0.556" stop-color="#6eff91"/><stop offset="0.614" stop-color="#49ffb6"/><stop offset="0.693" stop-color="#00fdff"/><stop offset="0.82" stop-color="#0072ff"/><stop offset="0.889" stop-color="#0039ff"/><stop offset="0.958" stop-color="#0013ff"/><stop offset="1" stop-color="#0004ff"/></linearGradient><linearGradient id="b4"><stop offset="0" stop-color="#2bffd4"/><stop offset="0.217" stop-color="#33ffcc"/><stop offset="0.275" stop-color="#3cffc3"/><stop offset="0.286" stop-color="#4cffb3"/><stop offset="0.302" stop-color="#7dff82"/><stop offset="0.312" stop-color="#8dff72"/><stop offset="0.36" stop-color="#94ff6b"/><stop offset="0.476" stop-color="#8eff71"/><stop offset="0.545" stop-color="#79ff86"/><stop offset="0.608" stop-color="#53ffac"/><stop offset="0.677" stop-color="#13ffec"/><stop offset="0.693" stop-color="#01fffe"/><stop offset="0.82" stop-color="#0074ff"/><stop offset="0.894" stop-color="#0036ff"/><stop offset="0.968" stop-color="#000fff"/><stop offset="1" stop-color="#0004ff"/></linearGradient><linearGradient id="b5"><stop offset="0" stop-color="#32ffcd"/><stop offset="0.228" stop-color="#3cffc3"/><stop offset="0.275" stop-color="#45ffba"/><stop offset="0.286" stop-color="#55ffaa"/><stop offset="0.302" stop-color="#87ff78"/><stop offset="0.312" stop-color="#97ff68"/><stop offset="0.365" stop-color="#9eff61"/><stop offset="0.476" stop-color="#96ff69"/><stop offset="0.55" stop-color="#7dff82"/><stop offset="0.614" stop-color="#53ffac"/><stop offset="0.688" stop-color="#0afff5"/><stop offset="0.698" stop-color="#00feff"/><stop offset="0.82" stop-color="#0076ff"/><stop offset="0.894" stop-color="#0037ff"/><stop offset="0.963" stop-color="#0011ff"/><stop offset="1" stop-color="#0004ff"/></linearGradient><linearGradient id="b6"><stop offset="0" stop-color="#3fffc0"/><stop offset="0.228" stop-color="#47ffb8"/><stop offset="0.275" stop-color="#4fffb0"/><stop offset="0.286" stop-color="#5fffa0"/><stop offset="0.302" stop-color="#92ff6d"/><stop offset="0.312" stop-color="#a2ff5d"/><stop offset="0.349" stop-color="#a7ff58"/><stop offset="0.46" stop-color="#9fff60"/><stop offset="0.54" stop-color="#86ff79"/><stop offset="0.603" stop-color="#5fffa0"/><stop offset="0.677" stop-color="#19ffe6"/><stop offset="0.698" stop-color="#02fffd"/><stop offset="0.831" stop-color="#006dff"/><stop offset="0.899" stop-color="#0034ff"/><stop offset="0.963" stop-color="#0011ff"/><stop offset="1" stop-color="#0004ff"/></linearGradient><linearGradient id="b7"><stop offset="0" stop-color="#4dffb2"/><stop offset="0.27" stop-color="#56ffa9"/><stop offset="0.28" stop-color="#5effa1"/><stop offset="0.291" stop-color="#78ff87"/><stop offset="0.302" stop-color="#9bff64"/><stop offset="0.312" stop-color="#abff54"/><stop offset="0.354" stop-color="#afff50"/><stop offset="0.481" stop-color="#9eff61"/><stop offset="0.556" stop-color="#82ff7d"/><stop offset="0.619" stop-color="#56ffa9"/><stop offset="0.688" stop-color="#11ffee"/><stop offset="0.704" stop-color="#00feff"/><stop offset="0.831" stop-color="#006eff"/><stop offset="0.894" stop-color="#0037ff"/><stop offset="0.968" stop-color="#000eff"/><stop offset="1" stop-color="#0003ff"/></linearGradient><linearGradient id="b8"><stop offset="0" stop-color="#5cffa3"/><stop offset="0.27" stop-color="#5bffa4"/><stop offset="0.28" stop-color="#63ff9c"/><stop offset="0.291" stop-color="#7dff82"/><stop offset="0.302" stop-color="#a1ff5e"/><stop offset="0.312" stop-color="#b0ff4f"/><stop offset="0.354" stop-color="#b3ff4c"/><stop offset="0.487" stop-color="#a0ff5f"/><stop offset="0.556" stop-color="#86ff79"/><stop offset="0.614" stop-color="#5fffa0"/><stop offset="0.683" stop-color="#1bffe4"/><stop offset="0.704" stop-color="#03fffc"/><stop offset="0.841" stop-color="#0063ff"/><stop offset="0.91" stop-color="#002cff"/><stop offset="0.979" stop-color="#0009ff"/><stop offset="1" stop-color="#0002ff"/></linearGradient><linearGradient id="b9"><stop offset="0" stop-color="#5fffa0"/><stop offset="0.27" stop-color="#5dffa2"/><stop offset="0.28" stop-color="#65ff9a"/><stop offset="0.286" stop-color="#6fff90"/><stop offset="0.302" stop-color="#a3ff5c"/><stop offset="0.312" stop-color="#b3ff4c"/><stop offset="0.381" stop-color="#b4ff4b"/><stop offset="0.497" stop-color="#a3ff5c"/><stop offset="0.566" stop-color="#86ff79"/><stop offset="0.63" stop-color="#56ffa9"/><stop offset="0.709" stop-color="#00feff"/><stop offset="0.815" stop-color="#007eff"/><stop offset="0.878" stop-color="#0041ff"/><stop offset="0.942" stop-color="#0018ff"/><stop offset="1" stop-color="#0002ff"/></linearGradient><linearGradient id="b10"><stop offset="0" stop-color="#5affa5"/><stop offset="0.27" stop-color="#60ff9f"/><stop offset="0.28" stop-color="#68ff97"/><stop offset="0.291" stop-color="#83ff7c"/><stop offset="0.302" stop-color="#a7ff58"/><stop offset="0.312" stop-color="#b7ff48"/><stop offset="0.354" stop-color="#bbff44"/><stop offset="0.487" stop-color="#adff52"/><stop offset="0.556" stop-color="#92ff6d"/><stop offset="0.608" stop-color="#6dff92"/><stop offset="0.672" stop-color="#2cffd3"/><stop offset="0.709" stop-color="#00feff"/><stop offset="0.815" stop-color="#007cff"/><stop offset="0.884" stop-color="#003bff"/><stop offset="0.947" stop-color="#0014ff"/><stop offset="1" stop-color="#0001ff"/></linearGradient><linearGradient id="b11"><stop offset="0" stop-color="#5dffa2"/><stop offset="0.27" stop-color="#68ff97"/><stop offset="0.28" stop-color="#70ff8f"/><stop offset="0.291" stop-color="#8cff73"/><stop offset="0.302" stop-color="#b0ff4f"/><stop offset="0.312" stop-color="#c1ff3e"/><stop offset="0.36" stop-color="#c4ff3b"/><stop offset="0.476" stop-color="#b7ff48"/><stop offset="0.545" stop-color="#9cff63"/><stop offset="0.603" stop-color="#73ff8c"/><stop offset="0.667" stop-color="#31ffce"/><stop offset="0.704" stop-color="#03fffc"/><stop offset="0.825" stop-color="#006dff"/><stop offset="0.894" stop-color="#0031ff"/><stop offset="0.968" stop-color="#000aff"/><stop offset="1" stop-color="#0000ff"/></linearGradient><linearGradient id="b12"><stop offset="0" stop-color="#6aff95"/><stop offset="0.27" stop-color="#73ff8c"/><stop offset="0.28" stop-color="#7bff84"/><stop offset="0.291" stop-color="#97ff68"/><stop offset="0.302" stop-color="#bcff43"/><stop offset="0.312" stop-color="#ccff33"/><stop offset="0.344" stop-color="#d0ff2f"/><stop offset="0.471" stop-color="#bdff42"/><stop offset="0.54" stop-color="#a0ff5f"/><stop offset="0.598" stop-color="#76ff89"/><stop offset="0.672" stop-color="#27ffd8"/><stop offset="0.704" stop-color="#00feff"/><stop offset="0.799" stop-color="#0087ff"/><stop offset="0.862" stop-color="#0047ff"/><stop offset="0.937" stop-color="#0016ff"/><stop offset="1" stop-color="#0000fe"/></linearGradient><linearGradient id="b13"><stop offset="0" stop-color="#7dff82"/><stop offset="0.27" stop-color="#7dff82"/><stop offset="0.28" stop-color="#85ff7a"/><stop offset="0.291" stop-color="#a1ff5e"/><stop offset="0.302" stop-color="#c6ff39"/><stop offset="0.312" stop-color="#d6ff29"/><stop offset="0.354" stop-color="#d6ff29"/><stop offset="0.481" stop-color="#b9ff46"/><stop offset="0.556" stop-color="#93ff6c"/><stop offset="0.614" stop-color="#61ff9e"/><stop offset="0.683" stop-color="#14ffeb"/><stop offset="0.698" stop-color="#00ffff"/><stop offset="0.804" stop-color="#007dff"/><stop offset="0.868" stop-color="#0040ff"/><stop offset="0.931" stop-color="#0018ff"/><stop offset="0.995" stop-color="#0000ff"/><stop offset="1" stop-color="#0000fd"/></linearGradient><linearGradient id="b14"><stop offset="0" stop-color="#8eff71"/><stop offset="0.212" stop-color="#86ff79"/><stop offset="0.27" stop-color="#81ff7e"/><stop offset="0.28" stop-color="#89ff76"/><stop offset="0.286" stop-color="#93ff6c"/><stop offset="0.302" stop-color="#c9ff36"/><stop offset="0.312" stop-color="#d8ff27"/><stop offset="0.349" stop-color="#d6ff29"/><stop offset="0.471" stop-color="#b7ff48"/><stop offset="0.545" stop-color="#93ff6c"/><stop offset="0.608" stop-color="#5fffa0"/><stop offset="0.693" stop-color="#00feff"/><stop offset="0.804" stop-color="#0079ff"/><stop offset="0.868" stop-color="#003eff"/><stop offset="0.931" stop-color="#0016ff"/><stop offset="0.995" stop-color="#0000fe"/><stop offset="1" stop-color="#0000fd"/></linearGradient><linearGradient id="b15"><stop offset="0" stop-color="#92ff6d"/><stop offset="0.196" stop-color="#86ff79"/><stop offset="0.27" stop-color="#7eff81"/><stop offset="0.28" stop-color="#85ff7a"/><stop offset="0.291" stop-color="#9fff60"/><stop offset="0.302" stop-color="#c3ff3c"/><stop offset="0.312" stop-color="#d2ff2d"/><stop offset="0.349" stop-color="#d0ff2f"/><stop offset="0.481" stop-color="#aaff55"/><stop offset="0.55" stop-color="#86ff79"/><stop offset="0.619" stop-color="#4cffb3"/><stop offset="0.688" stop-color="#00feff"/><stop offset="0.799" stop-color="#007aff"/><stop offset="0.868" stop-color="#003bff"/><stop offset="0.931" stop-color="#0014ff"/><stop offset="0.995" stop-color="#0000fd"/><stop offset="1" stop-color="#0000fc"/></linearGradient><linearGradient id="b16"><stop offset="0" stop-color="#86ff79"/><stop offset="0.185" stop-color="#7eff81"/><stop offset="0.27" stop-color="#75ff8a"/><stop offset="0.28" stop-color="#7cff83"/><stop offset="0.291" stop-color="#96ff69"/><stop offset="0.302" stop-color="#b9ff46"/><stop offset="0.312" stop-color="#c8ff37"/><stop offset="0.354" stop-color="#c4ff3b"/><stop offset="0.476" stop-color="#a2ff5d"/><stop offset="0.55" stop-color="#7cff83"/><stop offset="0.624" stop-color="#3effc1"/><stop offset="0.683" stop-color="#00fdff"/><stop offset="0.81" stop-color="#006bff"/><stop offset="0.884" stop-color="#002dff"/><stop offset="0.958" stop-color="#0009ff"/><stop offset="0.995" stop-color="#0000fd"/><stop offset="1" stop-color="#0000fb"/></linearGradient><linearGradient id="b17"><stop offset="0" stop-color="#79ff86"/><stop offset="0.185" stop-color="#72ff8d"/><stop offset="0.27" stop-color="#6aff95"/><stop offset="0.28" stop-color="#71ff8e"/><stop offset="0.286" stop-color="#7aff85"/><stop offset="0.302" stop-color="#adff52"/><stop offset="0.312" stop-color="#bbff44"/><stop offset="0.354" stop-color="#b7ff48"/><stop offset="0.481" stop-color="#94ff6b"/><stop offset="0.556" stop-color="#6eff91"/><stop offset="0.624" stop-color="#36ffc9"/><stop offset="0.677" stop-color="#00fdff"/><stop offset="0.804" stop-color="#006dff"/><stop offset="0.873" stop-color="#0032ff"/><stop offset="0.942" stop-color="#000eff"/><stop offset="0.989" stop-color="#0000fe"/><stop offset="1" stop-color="#0000fb"/></linearGradient><linearGradient id="b18"><stop offset="0" stop-color="#6cff93"/><stop offset="0.201" stop-color="#63ff9c"/><stop offset="0.27" stop-color="#5dffa2"/><stop offset="0.28" stop-color="#64ff9b"/><stop offset="0.291" stop-color="#7dff82"/><stop offset="0.302" stop-color="#9fff60"/><stop offset="0.312" stop-color="#adff52"/><stop offset="0.36" stop-color="#a9ff56"/><stop offset="0.481" stop-color="#89ff76"/><stop offset="0.556" stop-color="#65ff9a"/><stop offset="0.624" stop-color="#2effd1"/><stop offset="0.672" stop-color="#00fcff"/><stop offset="0.799" stop-color="#006eff"/><stop offset="0.873" stop-color="#0030ff"/><stop offset="0.947" stop-color="#000bff"/><stop offset="0.995" stop-color="#0000fc"/><stop offset="1" stop-color="#0000fb"/></linearGradient><linearGradient id="b19"><stop offset="0" stop-color="#5cffa3"/><stop offset="0.254" stop-color="#50ffaf"/><stop offset="0.275" stop-color="#52ffad"/><stop offset="0.286" stop-color="#61ff9e"/><stop offset="0.302" stop-color="#91ff6e"/><stop offset="0.312" stop-color="#9fff60"/><stop offset="0.365" stop-color="#9cff63"/><stop offset="0.487" stop-color="#7eff81"/><stop offset="0.556" stop-color="#5dffa2"/><stop offset="0.624" stop-color="#26ffd9"/><stop offset="0.661" stop-color="#01fffe"/><stop offset="0.799" stop-color="#006bff"/><stop offset="0.868" stop-color="#0032ff"/><stop offset="0.947" stop-color="#000aff"/><stop offset="1" stop-color="#0000fb"/></linearGradient><linearGradient id="b20"><stop offset="0" stop-color="#49ffb6"/><stop offset="0.27" stop-color="#45ffba"/><stop offset="0.28" stop-color="#4cffb3"/><stop offset="0.291" stop-color="#65ff9a"/><stop offset="0.302" stop-color="#85ff7a"/><stop offset="0.312" stop-color="#93ff6c"/><stop offset="0.354" stop-color="#93ff6c"/><stop offset="0.476" stop-color="#79ff86"/><stop offset="0.545" stop-color="#5bffa4"/><stop offset="0.619" stop-color="#23ffdc"/><stop offset="0.656" stop-color="#00feff"/><stop offset="0.804" stop-color="#0063ff"/><stop offset="0.878" stop-color="#002bff"/><stop offset="0.952" stop-color="#0008ff"/><stop offset="1" stop-color="#0000fb"/></linearGradient><linearGradient id="b21"><stop offset="0" stop-color="#3effc1"/><stop offset="0.275" stop-color="#3fffc0"/><stop offset="0.286" stop-color="#4dffb2"/><stop offset="0.302" stop-color="#7cff83"/><stop offset="0.312" stop-color="#8aff75"/><stop offset="0.354" stop-color="#8aff75"/><stop offset="0.471" stop-color="#72ff8d"/><stop offset="0.545" stop-color="#51ffae"/><stop offset="0.608" stop-color="#24ffdb"/><stop offset="0.651" stop-color="#00fcff"/><stop offset="0.799" stop-color="#0066ff"/><stop offset="0.878" stop-color="#002aff"/><stop offset="0.958" stop-color="#0006ff"/><stop offset="1" stop-color="#0000fa"/></linearGradient><linearGradient id="b22"><stop offset="0" stop-color="#39ffc6"/><stop offset="0.27" stop-color="#35ffca"/><stop offset="0.28" stop-color="#3cffc3"/><stop offset="0.291" stop-color="#54ffab"/><stop offset="0.302" stop-color="#74ff8b"/><stop offset="0.312" stop-color="#81ff7e"/><stop offset="0.354" stop-color="#81ff7e"/><stop offset="0.476" stop-color="#66ff99"/><stop offset="0.561" stop-color="#3effc1"/><stop offset="0.64" stop-color="#01fffe"/><stop offset="0.815" stop-color="#0058ff"/><stop offset="0.894" stop-color="#0021ff"/><stop offset="0.979" stop-color="#0000ff"/><stop offset="1" stop-color="#0000fa"/></linearGradient><linearGradient id="b23"><stop offset="0" stop-color="#33ffcc"/><stop offset="0.27" stop-color="#2cffd3"/><stop offset="0.28" stop-color="#32ffcd"/><stop offset="0.291" stop-color="#4affb5"/><stop offset="0.302" stop-color="#68ff97"/><stop offset="0.312" stop-color="#76ff89"/><stop offset="0.365" stop-color="#73ff8c"/><stop offset="0.481" stop-color="#59ffa6"/><stop offset="0.566" stop-color="#33ffcc"/><stop offset="0.64" stop-color="#00fcff"/><stop offset="0.825" stop-color="#004fff"/><stop offset="0.899" stop-color="#001eff"/><stop offset="0.974" stop-color="#0001ff"/><stop offset="1" stop-color="#0000fa"/></linearGradient><linearGradient id="b24"><stop offset="0" stop-color="#28ffd7"/><stop offset="0.27" stop-color="#20ffdf"/><stop offset="0.28" stop-color="#26ffd9"/><stop offset="0.291" stop-color="#3cffc3"/><stop offset="0.302" stop-color="#5affa5"/><stop offset="0.312" stop-color="#67ff98"/><stop offset="0.354" stop-color="#67ff98"/><stop offset="0.492" stop-color="#4dffb2"/><stop offset="0.571" stop-color="#2bffd4"/><stop offset="0.635" stop-color="#00ffff"/><stop offset="0.73" stop-color="#00a8ff"/><stop offset="0.831" stop-color="#004aff"/><stop offset="0.905" stop-color="#001aff"/><stop offset="0.974" stop-color="#0000ff"/><stop offset="1" stop-color="#0000f9"/></linearGradient><linearGradient id="b25"><stop offset="0" stop-color="#18ffe7"/><stop offset="0.27" stop-color="#12ffed"/><stop offset="0.286" stop-color="#21ffde"/><stop offset="0.302" stop-color="#4cffb3"/><stop offset="0.312" stop-color="#59ffa6"/><stop offset="0.381" stop-color="#59ffa6"/><stop offset="0.497" stop-color="#47ffb8"/><stop offset="0.571" stop-color="#2bffd4"/><stop offset="0.64" stop-color="#00fcff"/><stop offset="0.746" stop-color="#0098ff"/><stop offset="0.831" stop-color="#0049ff"/><stop offset="0.905" stop-color="#0019ff"/><stop offset="0.974" stop-color="#0000ff"/><stop offset="1" stop-color="#0000f9"/></linearGradient><linearGradient id="b26"><stop offset="0" stop-color="#01fffe"/><stop offset="0.265" stop-color="#07fff8"/><stop offset="0.28" stop-color="#0ffff0"/><stop offset="0.291" stop-color="#25ffda"/><stop offset="0.302" stop-color="#43ffbc"/><stop offset="0.312" stop-color="#50ffaf"/><stop offset="0.365" stop-color="#55ffaa"/><stop offset="0.487" stop-color="#4bffb4"/><stop offset="0.561" stop-color="#33ffcc"/><stop offset="0.63" stop-color="#07fff8"/><stop offset="0.646" stop-color="#00f9ff"/><stop offset="0.762" stop-color="#0086ff"/><stop offset="0.836" stop-color="#0043ff"/><stop offset="0.899" stop-color="#001bff"/><stop offset="0.974" stop-color="#0000fe"/><stop offset="1" stop-color="#0000f9"/></linearGradient><linearGradient id="b27"><stop offset="0" stop-color="#00f5ff"/><stop offset="0.243" stop-color="#03fffc"/><stop offset="0.275" stop-color="#09fff6"/><stop offset="0.286" stop-color="#17ffe8"/><stop offset="0.302" stop-color="#42ffbd"/><stop offset="0.312" stop-color="#50ffaf"/><stop offset="0.365" stop-color="#57ffa8"/><stop offset="0.476" stop-color="#51ffae"/><stop offset="0.55" stop-color="#3bffc4"/><stop offset="0.614" stop-color="#14ffeb"/><stop offset="0.64" stop-color="#00fdff"/><stop offset="0.81" stop-color="#0056ff"/><stop offset="0.878" stop-color="#0025ff"/><stop offset="0.952" stop-color="#0005ff"/><stop offset="1" stop-color="#0000f9"/></linearGradient><linearGradient id="b28"><stop offset="0" stop-color="#00fbff"/><stop offset="0.175" stop-color="#03fffc"/><stop offset="0.27" stop-color="#0cfff3"/><stop offset="0.28" stop-color="#14ffeb"/><stop offset="0.291" stop-color="#2bffd4"/><stop offset="0.302" stop-color="#49ffb6"/><stop offset="0.312" stop-color="#57ffa8"/><stop offset="0.376" stop-color="#5dffa2"/><stop offset="0.466" stop-color="#57ffa8"/><stop offset="0.534" stop-color="#43ffbc"/><stop offset="0.598" stop-color="#1dffe2"/><stop offset="0.635" stop-color="#00feff"/><stop offset="0.799" stop-color="#005cff"/><stop offset="0.873" stop-color="#0027ff"/><stop offset="0.947" stop-color="#0006ff"/><stop offset="0.989" stop-color="#0000fa"/><stop offset="1" stop-color="#0000f8"/></linearGradient><linearGradient id="b29"><stop offset="0" stop-color="#0afff5"/><stop offset="0.27" stop-color="#15ffea"/><stop offset="0.28" stop-color="#1cffe3"/><stop offset="0.291" stop-color="#33ffcc"/><stop offset="0.302" stop-color="#52ffad"/><stop offset="0.312" stop-color="#60ff9f"/><stop offset="0.376" stop-color="#64ff9b"/><stop offset="0.466" stop-color="#59ffa6"/><stop offset="0.545" stop-color="#3affc5"/><stop offset="0.614" stop-color="#0afff5"/><stop offset="0.63" stop-color="#00fbff"/><stop offset="0.804" stop-color="#0056ff"/><stop offset="0.878" stop-color="#0024ff"/><stop offset="0.952" stop-color="#0005ff"/><stop offset="0.989" stop-color="#0000fa"/><stop offset="1" stop-color="#0000f8"/></linearGradient><linearGradient id="b30"><stop offset="0" stop-color="#1bffe4"/><stop offset="0.27" stop-color="#1cffe3"/><stop offset="0.28" stop-color="#23ffdc"/><stop offset="0.291" stop-color="#3affc5"/><stop offset="0.302" stop-color="#58ffa7"/><stop offset="0.312" stop-color="#66ff99"/><stop offset="0.37" stop-color="#66ff99"/><stop offset="0.471" stop-color="#52ffad"/><stop offset="0.556" stop-color="#2bffd4"/><stop offset="0.619" stop-color="#00fcff"/><stop offset="0.81" stop-color="#0051ff"/><stop offset="0.894" stop-color="#001bff"/><stop offset="0.968" stop-color="#0000ff"/><stop offset="1" stop-color="#0000f8"/></linearGradient><linearGradient id="b31"><stop offset="0" stop-color="#27ffd8"/><stop offset="0.201" stop-color="#21ffde"/><stop offset="0.275" stop-color="#1fffe0"/><stop offset="0.286" stop-color="#2cffd3"/><stop offset="0.302" stop-color="#56ffa9"/><stop offset="0.312" stop-color="#63ff9c"/><stop offset="0.36" stop-color="#60ff9f"/><stop offset="0.466" stop-color="#47ffb8"/><stop offset="0.561" stop-color="#1dffe2"/><stop offset="0.608" stop-color="#00fdff"/><stop offset="0.72" stop-color="#00a0ff"/><stop offset="0.825" stop-color="#0045ff"/><stop offset="0.899" stop-color="#0018ff"/><stop offset="0.968" stop-color="#0000fe"/><stop offset="1" stop-color="#0000f7"/></linearGradient><linearGradient id="b32"><stop offset="0" stop-color="#2cffd3"/><stop offset="0.164" stop-color="#20ffdf"/><stop offset="0.27" stop-color="#13ffec"/><stop offset="0.286" stop-color="#20ffdf"/><stop offset="0.302" stop-color="#49ffb6"/><stop offset="0.317" stop-color="#55ffaa"/><stop offset="0.466" stop-color="#39ffc6"/><stop offset="0.566" stop-color="#13ffec"/><stop offset="0.603" stop-color="#00fdff"/><stop offset="0.698" stop-color="#00b4ff"/><stop offset="0.825" stop-color="#0045ff"/><stop offset="0.899" stop-color="#0017ff"/><stop offset="0.963" stop-color="#0000ff"/><stop offset="1" stop-color="#0000f6"/></linearGradient><linearGradient id="b33"><stop offset="0" stop-color="#14ffeb"/><stop offset="0.18" stop-color="#03fffc"/><stop offset="0.275" stop-color="#00f9ff"/><stop offset="0.286" stop-color="#05fffa"/><stop offset="0.302" stop-color="#2bffd4"/><stop offset="0.312" stop-color="#36ffc9"/><stop offset="0.386" stop-color="#33ffcc"/><stop offset="0.503" stop-color="#23ffdc"/><stop offset="0.587" stop-color="#05fffa"/><stop offset="0.608" stop-color="#00f8ff"/><stop offset="0.693" stop-color="#00b8ff"/><stop offset="0.831" stop-color="#003fff"/><stop offset="0.905" stop-color="#0013ff"/><stop offset="0.963" stop-color="#0000fe"/><stop offset="1" stop-color="#0000f6"/></linearGradient><linearGradient id="b34"><stop offset="0" stop-color="#00baff"/><stop offset="0.27" stop-color="#00b5ff"/><stop offset="0.286" stop-color="#00c1ff"/><stop offset="0.302" stop-color="#00e2ff"/><stop offset="0.317" stop-color="#00eeff"/><stop offset="0.503" stop-color="#00f8ff"/><stop offset="0.577" stop-color="#00edff"/><stop offset="0.651" stop-color="#00caff"/><stop offset="0.741" stop-color="#0084ff"/><stop offset="0.836" stop-color="#0036ff"/><stop offset="0.91" stop-color="#000eff"/><stop offset="0.958" stop-color="#0000fd"/><stop offset="1" stop-color="#0000f5"/></linearGradient><linearGradient id="b35"><stop offset="0" stop-color="#0094ff"/><stop offset="0.275" stop-color="#00acff"/><stop offset="0.286" stop-color="#00b6ff"/><stop offset="0.307" stop-color="#00deff"/><stop offset="0.339" stop-color="#00e7ff"/><stop offset="0.487" stop-color="#00f5ff"/><stop offset="0.566" stop-color="#00edff"/><stop offset="0.635" stop-color="#00d0ff"/><stop offset="0.73" stop-color="#0088ff"/><stop offset="0.831" stop-color="#0036ff"/><stop offset="0.899" stop-color="#0010ff"/><stop offset="0.952" stop-color="#0000fd"/><stop offset="1" stop-color="#0000f4"/></linearGradient><linearGradient id="b36"><stop offset="0" stop-color="#00d4ff"/><stop offset="0.159" stop-color="#00dfff"/><stop offset="0.275" stop-color="#00ecff"/><stop offset="0.286" stop-color="#00f8ff"/><stop offset="0.291" stop-color="#06fff9"/><stop offset="0.302" stop-color="#21ffde"/><stop offset="0.312" stop-color="#2effd1"/><stop offset="0.407" stop-color="#37ffc8"/><stop offset="0.487" stop-color="#2fffd0"/><stop offset="0.561" stop-color="#17ffe8"/><stop offset="0.603" stop-color="#00fdff"/><stop offset="0.688" stop-color="#00b5ff"/><stop offset="0.804" stop-color="#0048ff"/><stop offset="0.873" stop-color="#001bff"/><stop offset="0.947" stop-color="#0000fe"/><stop offset="1" stop-color="#0000f4"/></linearGradient><linearGradient id="b37"><stop offset="0" stop-color="#00fcff"/><stop offset="0.275" stop-color="#02fffd"/><stop offset="0.286" stop-color="#0ffff0"/><stop offset="0.302" stop-color="#38ffc7"/><stop offset="0.317" stop-color="#47ffb8"/><stop offset="0.434" stop-color="#45ffba"/><stop offset="0.513" stop-color="#30ffcf"/><stop offset="0.582" stop-color="#0cfff3"/><stop offset="0.603" stop-color="#00fcff"/><stop offset="0.704" stop-color="#00a0ff"/><stop offset="0.799" stop-color="#0047ff"/><stop offset="0.868" stop-color="#001bff"/><stop offset="0.942" stop-color="#0001ff"/><stop offset="1" stop-color="#0000f5"/></linearGradient><linearGradient id="b38"><stop offset="0" stop-color="#0efff1"/><stop offset="0.233" stop-color="#07fff8"/><stop offset="0.275" stop-color="#08fff7"/><stop offset="0.286" stop-color="#14ffeb"/><stop offset="0.302" stop-color="#3dffc2"/><stop offset="0.312" stop-color="#49ffb6"/><stop offset="0.37" stop-color="#49ffb6"/><stop offset="0.455" stop-color="#3dffc2"/><stop offset="0.534" stop-color="#1fffe0"/><stop offset="0.587" stop-color="#00fdff"/><stop offset="0.683" stop-color="#00aaff"/><stop offset="0.788" stop-color="#004aff"/><stop offset="0.862" stop-color="#001cff"/><stop offset="0.947" stop-color="#0000ff"/><stop offset="1" stop-color="#0000f5"/></linearGradient><linearGradient id="b39"><stop offset="0" stop-color="#16ffe9"/><stop offset="0.18" stop-color="#0cfff3"/><stop offset="0.275" stop-color="#05fffa"/><stop offset="0.286" stop-color="#11ffee"/><stop offset="0.302" stop-color="#39ffc6"/><stop offset="0.312" stop-color="#45ffba"/><stop offset="0.397" stop-color="#40ffbf"/><stop offset="0.481" stop-color="#2affd5"/><stop offset="0.566" stop-color="#00feff"/><stop offset="0.656" stop-color="#00b6ff"/><stop offset="0.783" stop-color="#004aff"/><stop offset="0.868" stop-color="#001aff"/><stop offset="0.952" stop-color="#0000ff"/><stop offset="1" stop-color="#0000f6"/></linearGradient><linearGradient id="b40"><stop offset="0" stop-color="#11ffee"/><stop offset="0.164" stop-color="#07fff8"/><stop offset="0.243" stop-color="#00fbff"/><stop offset="0.275" stop-color="#00fbff"/><stop offset="0.28" stop-color="#00ffff"/><stop offset="0.291" stop-color="#13ffec"/><stop offset="0.302" stop-color="#2effd1"/><stop offset="0.317" stop-color="#3affc5"/><stop offset="0.434" stop-color="#2affd5"/><stop offset="0.519" stop-color="#09fff6"/><stop offset="0.545" stop-color="#00faff"/><stop offset="0.651" stop-color="#00afff"/><stop offset="0.783" stop-color="#0049ff"/><stop offset="0.868" stop-color="#001cff"/><stop offset="0.958" stop-color="#0000ff"/><stop offset="1" stop-color="#0000f7"/></linearGradient><linearGradient id="b41"><stop offset="0" stop-color="#02fffd"/><stop offset="0.132" stop-color="#00faff"/><stop offset="0.27" stop-color="#00eaff"/><stop offset="0.286" stop-color="#00f6ff"/><stop offset="0.291" stop-color="#03fffc"/><stop offset="0.302" stop-color="#1cffe3"/><stop offset="0.317" stop-color="#28ffd7"/><stop offset="0.429" stop-color="#18ffe7"/><stop offset="0.503" stop-color="#00fcff"/><stop offset="0.608" stop-color="#00c3ff"/><stop offset="0.804" stop-color="#003fff"/><stop offset="0.894" stop-color="#0014ff"/><stop offset="0.974" stop-color="#0000fd"/><stop offset="1" stop-color="#0000f8"/></linearGradient><linearGradient id="b42"><stop offset="0" stop-color="#00ebff"/><stop offset="0.159" stop-color="#00e1ff"/><stop offset="0.275" stop-color="#00d7ff"/><stop offset="0.291" stop-color="#00ecff"/><stop offset="0.296" stop-color="#00f9ff"/><stop offset="0.307" stop-color="#0cfff3"/><stop offset="0.333" stop-color="#10ffef"/><stop offset="0.444" stop-color="#00fcff"/><stop offset="0.571" stop-color="#00ceff"/><stop offset="0.72" stop-color="#007aff"/><stop offset="0.852" stop-color="#002aff"/><stop offset="0.942" stop-color="#0007ff"/><stop offset="0.995" stop-color="#0000fa"/><stop offset="1" stop-color="#0000f9"/></linearGradient><linearGradient id="b43"><stop offset="0" stop-color="#00d2ff"/><stop offset="0.159" stop-color="#00c4ff"/><stop offset="0.27" stop-color="#00baff"/><stop offset="0.28" stop-color="#00beff"/><stop offset="0.307" stop-color="#00ebff"/><stop offset="0.333" stop-color="#00f0ff"/><stop offset="0.471" stop-color="#00e1ff"/><stop offset="0.593" stop-color="#00c2ff"/><stop offset="0.698" stop-color="#008eff"/><stop offset="0.857" stop-color="#002cff"/><stop offset="0.947" stop-color="#0007ff"/><stop offset="0.989" stop-color="#0000fc"/><stop offset="1" stop-color="#0000fa"/></linearGradient><linearGradient id="b44"><stop offset="0" stop-color="#00afff"/><stop offset="0.238" stop-color="#0092ff"/><stop offset="0.275" stop-color="#0093ff"/><stop offset="0.291" stop-color="#00a5ff"/><stop offset="0.307" stop-color="#00c0ff"/><stop offset="0.349" stop-color="#00c8ff"/><stop offset="0.497" stop-color="#00cdff"/><stop offset="0.593" stop-color="#00c1ff"/><stop offset="0.677" stop-color="#00a0ff"/><stop offset="0.873" stop-color="#0026ff"/><stop offset="0.974" stop-color="#0001ff"/><stop offset="1" stop-color="#0000fb"/></linearGradient><linearGradient id="b45"><stop offset="0" stop-color="#0082ff"/><stop offset="0.169" stop-color="#006dff"/><stop offset="0.275" stop-color="#006eff"/><stop offset="0.291" stop-color="#0080ff"/><stop offset="0.307" stop-color="#0098ff"/><stop offset="0.339" stop-color="#00a4ff"/><stop offset="0.503" stop-color="#00c0ff"/><stop offset="0.593" stop-color="#00bfff"/><stop offset="0.661" stop-color="#00abff"/><stop offset="0.751" stop-color="#0076ff"/><stop offset="0.862" stop-color="#002eff"/><stop offset="0.947" stop-color="#0009ff"/><stop offset="1" stop-color="#0000fb"/></linearGradient><linearGradient id="b46"><stop offset="0" stop-color="#0069ff"/><stop offset="0.153" stop-color="#0063ff"/><stop offset="0.27" stop-color="#006dff"/><stop offset="0.286" stop-color="#007aff"/><stop offset="0.307" stop-color="#009eff"/><stop offset="0.36" stop-color="#00b2ff"/><stop offset="0.481" stop-color="#00cdff"/><stop offset="0.566" stop-color="#00d1ff"/><stop offset="0.635" stop-color="#00c1ff"/><stop offset="0.709" stop-color="#009aff"/><stop offset="0.857" stop-color="#0033ff"/><stop offset="0.942" stop-color="#000cff"/><stop offset="0.995" stop-color="#0000fd"/><stop offset="1" stop-color="#0000fc"/></linearGradient><linearGradient id="b47"><stop offset="0" stop-color="#007cff"/><stop offset="0.127" stop-color="#007dff"/><stop offset="0.27" stop-color="#0097ff"/><stop offset="0.286" stop-color="#00a6ff"/><stop offset="0.307" stop-color="#00d2ff"/><stop offset="0.339" stop-color="#00e2ff"/><stop offset="0.444" stop-color="#00faff"/><stop offset="0.54" stop-color="#00faff"/><stop offset="0.614" stop-color="#00e4ff"/><stop offset="0.688" stop-color="#00b8ff"/><stop offset="0.836" stop-color="#0044ff"/><stop offset="0.915" stop-color="#0018ff"/><stop offset="0.995" stop-color="#0000fe"/><stop offset="1" stop-color="#0000fd"/></linearGradient><linearGradient id="b48"><stop offset="0" stop-color="#00a3ff"/><stop offset="0.127" stop-color="#00a8ff"/><stop offset="0.265" stop-color="#00c3ff"/><stop offset="0.28" stop-color="#00cdff"/><stop offset="0.291" stop-color="#00e3ff"/><stop offset="0.302" stop-color="#00ffff"/><stop offset="0.312" stop-color="#0ffff0"/><stop offset="0.365" stop-color="#20ffdf"/><stop offset="0.45" stop-color="#28ffd7"/><stop offset="0.534" stop-color="#1cffe3"/><stop offset="0.608" stop-color="#00fcff"/><stop offset="0.688" stop-color="#00c4ff"/><stop offset="0.831" stop-color="#004cff"/><stop offset="0.91" stop-color="#001cff"/><stop offset="0.995" stop-color="#0000fe"/><stop offset="1" stop-color="#0000fd"/></linearGradient><linearGradient id="b49"><stop offset="0" stop-color="#00cdff"/><stop offset="0.169" stop-color="#00d5ff"/><stop offset="0.275" stop-color="#00e9ff"/><stop offset="0.286" stop-color="#00f7ff"/><stop offset="0.291" stop-color="#07fff8"/><stop offset="0.302" stop-color="#26ffd9"/><stop offset="0.312" stop-color="#35ffca"/><stop offset="0.349" stop-color="#40ffbf"/><stop offset="0.444" stop-color="#42ffbd"/><stop offset="0.529" stop-color="#2effd1"/><stop offset="0.603" stop-color="#0bfff4"/><stop offset="0.624" stop-color="#00fcff"/><stop offset="0.72" stop-color="#00aeff"/><stop offset="0.836" stop-color="#004bff"/><stop offset="0.915" stop-color="#001bff"/><stop offset="0.995" stop-color="#0000ff"/><stop offset="1" stop-color="#0000fe"/></linearGradient><linearGradient id="b50"><stop offset="0" stop-color="#00f2ff"/><stop offset="0.212" stop-color="#00f6ff"/><stop offset="0.275" stop-color="#00ffff"/><stop offset="0.286" stop-color="#0ffff0"/><stop offset="0.302" stop-color="#3fffc0"/><stop offset="0.312" stop-color="#4fffb0"/><stop offset="0.354" stop-color="#57ffa8"/><stop offset="0.444" stop-color="#51ffae"/><stop offset="0.54" stop-color="#33ffcc"/><stop offset="0.63" stop-color="#00fdff"/><stop offset="0.72" stop-color="#00b2ff"/><stop offset="0.836" stop-color="#004dff"/><stop offset="0.91" stop-color="#001fff"/><stop offset="0.989" stop-color="#0002ff"/><stop offset="1" stop-color="#0000fe"/></linearGradient><linearGradient id="b51"><stop offset="0" stop-color="#09fff6"/><stop offset="0.259" stop-color="#0afff5"/><stop offset="0.275" stop-color="#0efff1"/><stop offset="0.286" stop-color="#1effe1"/><stop offset="0.302" stop-color="#51ffae"/><stop offset="0.312" stop-color="#61ff9e"/><stop offset="0.344" stop-color="#67ff98"/><stop offset="0.434" stop-color="#5effa1"/><stop offset="0.529" stop-color="#3effc1"/><stop offset="0.614" stop-color="#0ffff0"/><stop offset="0.635" stop-color="#00ffff"/><stop offset="0.762" stop-color="#008fff"/><stop offset="0.847" stop-color="#0047ff"/><stop offset="0.937" stop-color="#0014ff"/><stop offset="1" stop-color="#0000ff"/></linearGradient><linearGradient id="b52"><stop offset="0" stop-color="#12ffed"/><stop offset="0.27" stop-color="#15ffea"/><stop offset="0.28" stop-color="#1dffe2"/><stop offset="0.291" stop-color="#38ffc7"/><stop offset="0.302" stop-color="#5effa1"/><stop offset="0.312" stop-color="#6fff90"/><stop offset="0.344" stop-color="#75ff8a"/><stop offset="0.439" stop-color="#67ff98"/><stop offset="0.54" stop-color="#40ffbf"/><stop offset="0.624" stop-color="#0dfff2"/><stop offset="0.646" stop-color="#00fcff"/><stop offset="0.836" stop-color="#0051ff"/><stop offset="0.915" stop-color="#001eff"/><stop offset="1" stop-color="#0000ff"/></linearGradient><linearGradient id="b53"><stop offset="0" stop-color="#16ffe9"/><stop offset="0.259" stop-color="#1bffe4"/><stop offset="0.275" stop-color="#1fffe0"/><stop offset="0.286" stop-color="#30ffcf"/><stop offset="0.302" stop-color="#6aff95"/><stop offset="0.312" stop-color="#7cff83"/><stop offset="0.344" stop-color="#82ff7d"/><stop offset="0.429" stop-color="#75ff8a"/><stop offset="0.524" stop-color="#50ffaf"/><stop offset="0.608" stop-color="#1effe1"/><stop offset="0.651" stop-color="#00fdff"/><stop offset="0.825" stop-color="#005bff"/><stop offset="0.899" stop-color="#0027ff"/><stop offset="0.979" stop-color="#0006ff"/><stop offset="1" stop-color="#0000ff"/></linearGradient><linearGradient id="b54"><stop offset="0" stop-color="#1affe5"/><stop offset="0.169" stop-color="#1dffe2"/><stop offset="0.27" stop-color="#25ffda"/><stop offset="0.28" stop-color="#2effd1"/><stop offset="0.286" stop-color="#3affc5"/><stop offset="0.302" stop-color="#77ff88"/><stop offset="0.312" stop-color="#8bff74"/><stop offset="0.333" stop-color="#92ff6d"/><stop offset="0.418" stop-color="#86ff79"/><stop offset="0.508" stop-color="#62ff9d"/><stop offset="0.598" stop-color="#2cffd3"/><stop offset="0.656" stop-color="#00fdff"/><stop offset="0.831" stop-color="#0058ff"/><stop offset="0.899" stop-color="#0028ff"/><stop offset="0.979" stop-color="#0006ff"/><stop offset="1" stop-color="#0000ff"/></linearGradient><linearGradient id="b55"><stop offset="0" stop-color="#1fffe0"/><stop offset="0.153" stop-color="#23ffdc"/><stop offset="0.275" stop-color="#33ffcc"/><stop offset="0.28" stop-color="#39ffc6"/><stop offset="0.286" stop-color="#46ffb9"/><stop offset="0.302" stop-color="#88ff77"/><stop offset="0.312" stop-color="#9eff61"/><stop offset="0.333" stop-color="#a5ff5a"/><stop offset="0.402" stop-color="#9cff63"/><stop offset="0.487" stop-color="#79ff86"/><stop offset="0.593" stop-color="#35ffca"/><stop offset="0.656" stop-color="#01fffe"/><stop offset="0.831" stop-color="#0058ff"/><stop offset="0.905" stop-color="#0025ff"/><stop offset="0.989" stop-color="#0003ff"/><stop offset="1" stop-color="#0001ff"/></linearGradient><linearGradient id="b56"><stop offset="0" stop-color="#27ffd8"/><stop offset="0.148" stop-color="#2effd1"/><stop offset="0.275" stop-color="#41ffbe"/><stop offset="0.28" stop-color="#48ffb7"/><stop offset="0.286" stop-color="#56ffa9"/><stop offset="0.302" stop-color="#9dff62"/><stop offset="0.312" stop-color="#b5ff4a"/><stop offset="0.333" stop-color="#bcff43"/><stop offset="0.402" stop-color="#afff50"/><stop offset="0.481" stop-color="#87ff78"/><stop offset="0.593" stop-color="#39ffc6"/><stop offset="0.661" stop-color="#00fcff"/><stop offset="0.82" stop-color="#0061ff"/><stop offset="0.899" stop-color="#0028ff"/><stop offset="0.979" stop-color="#0006ff"/><stop offset="1" stop-color="#0000ff"/></linearGradient><linearGradient id="b57"><stop offset="0" stop-color="#38ffc7"/><stop offset="0.153" stop-color="#3fffc0"/><stop offset="0.259" stop-color="#4cffb3"/><stop offset="0.275" stop-color="#51ffae"/><stop offset="0.28" stop-color="#58ffa7"/><stop offset="0.286" stop-color="#66ff99"/><stop offset="0.302" stop-color="#b3ff4c"/><stop offset="0.307" stop-color="#c3ff3c"/><stop offset="0.317" stop-color="#cfff30"/><stop offset="0.354" stop-color="#cfff30"/><stop offset="0.423" stop-color="#b5ff4a"/><stop offset="0.508" stop-color="#7dff82"/><stop offset="0.64" stop-color="#11ffee"/><stop offset="0.661" stop-color="#00fdff"/><stop offset="0.82" stop-color="#0061ff"/><stop offset="0.899" stop-color="#0028ff"/><stop offset="0.979" stop-color="#0006ff"/><stop offset="1" stop-color="#0000ff"/></linearGradient><linearGradient id="b58"><stop offset="0" stop-color="#4dffb2"/><stop offset="0.148" stop-color="#4effb1"/><stop offset="0.254" stop-color="#58ffa7"/><stop offset="0.275" stop-color="#5dffa2"/><stop offset="0.28" stop-color="#64ff9b"/><stop offset="0.286" stop-color="#73ff8c"/><stop offset="0.302" stop-color="#c3ff3c"/><stop offset="0.307" stop-color="#d4ff2b"/><stop offset="0.317" stop-color="#e1ff1e"/><stop offset="0.354" stop-color="#dfff20"/><stop offset="0.423" stop-color="#c0ff3f"/><stop offset="0.524" stop-color="#75ff8a"/><stop offset="0.661" stop-color="#00fcff"/><stop offset="0.825" stop-color="#005cff"/><stop offset="0.905" stop-color="#0025ff"/><stop offset="0.984" stop-color="#0004ff"/><stop offset="1" stop-color="#0000ff"/></linearGradient><linearGradient id="b59"><stop offset="0" stop-color="#56ffa9"/><stop offset="0.164" stop-color="#57ffa8"/><stop offset="0.254" stop-color="#5fffa0"/><stop offset="0.275" stop-color="#63ff9c"/><stop offset="0.28" stop-color="#6aff95"/><stop offset="0.286" stop-color="#7aff85"/><stop offset="0.302" stop-color="#cdff32"/><stop offset="0.307" stop-color="#deff21"/><stop offset="0.317" stop-color="#ecff13"/><stop offset="0.349" stop-color="#eaff15"/><stop offset="0.434" stop-color="#c0ff3f"/><stop offset="0.566" stop-color="#52ffad"/><stop offset="0.661" stop-color="#00fcff"/><stop offset="0.82" stop-color="#0060ff"/><stop offset="0.894" stop-color="#002aff"/><stop offset="0.968" stop-color="#0008ff"/><stop offset="1" stop-color="#0000fe"/></linearGradient><linearGradient id="b60"><stop offset="0" stop-color="#56ffa9"/><stop offset="0.148" stop-color="#57ffa8"/><stop offset="0.254" stop-color="#62ff9d"/><stop offset="0.275" stop-color="#66ff99"/><stop offset="0.28" stop-color="#6eff91"/><stop offset="0.286" stop-color="#7eff81"/><stop offset="0.302" stop-color="#d3ff2c"/><stop offset="0.307" stop-color="#e5ff1a"/><stop offset="0.317" stop-color="#f3ff0c"/><stop offset="0.349" stop-color="#f2ff0d"/><stop offset="0.397" stop-color="#d5ff2a"/><stop offset="0.439" stop-color="#c1ff3e"/><stop offset="0.63" stop-color="#19ffe6"/><stop offset="0.656" stop-color="#00ffff"/><stop offset="0.82" stop-color="#005eff"/><stop offset="0.899" stop-color="#0025ff"/><stop offset="0.979" stop-color="#0004ff"/><stop offset="1" stop-color="#0000fe"/></linearGradient><linearGradient id="b61"><stop offset="0" stop-color="#55ffaa"/><stop offset="0.143" stop-color="#57ffa8"/><stop offset="0.249" stop-color="#65ff9a"/><stop offset="0.27" stop-color="#65ff9a"/><stop offset="0.28" stop-color="#70ff8f"/><stop offset="0.286" stop-color="#81ff7e"/><stop offset="0.291" stop-color="#9bff64"/><stop offset="0.302" stop-color="#d8ff27"/><stop offset="0.307" stop-color="#ebff14"/><stop offset="0.317" stop-color="#f9ff06"/><stop offset="0.344" stop-color="#f9ff06"/><stop offset="0.386" stop-color="#dbff24"/><stop offset="0.439" stop-color="#c5ff3a"/><stop offset="0.656" stop-color="#00fdff"/><stop offset="0.815" stop-color="#0060ff"/><stop offset="0.889" stop-color="#0029ff"/><stop offset="0.963" stop-color="#0008ff"/><stop offset="1" stop-color="#0000fd"/></linearGradient><linearGradient id="b62"><stop offset="0" stop-color="#58ffa7"/><stop offset="0.143" stop-color="#5affa5"/><stop offset="0.243" stop-color="#68ff97"/><stop offset="0.275" stop-color="#6cff93"/><stop offset="0.28" stop-color="#74ff8b"/><stop offset="0.286" stop-color="#84ff7b"/><stop offset="0.302" stop-color="#ddff22"/><stop offset="0.307" stop-color="#efff10"/><stop offset="0.317" stop-color="#feff01"/><stop offset="0.339" stop-color="#ffff00"/><stop offset="0.381" stop-color="#deff21"/><stop offset="0.444" stop-color="#c3ff3c"/><stop offset="0.651" stop-color="#00feff"/><stop offset="0.81" stop-color="#0061ff"/><stop offset="0.884" stop-color="#002aff"/><stop offset="0.963" stop-color="#0007ff"/><stop offset="1" stop-color="#0000fd"/></linearGradient><linearGradient id="b63"><stop offset="0" stop-color="#5fffa0"/><stop offset="0.153" stop-color="#61ff9e"/><stop offset="0.243" stop-color="#6cff93"/><stop offset="0.275" stop-color="#6eff91"/><stop offset="0.28" stop-color="#76ff89"/><stop offset="0.286" stop-color="#87ff78"/><stop offset="0.291" stop-color="#a1ff5e"/><stop offset="0.302" stop-color="#deff21"/><stop offset="0.307" stop-color="#f1ff0e"/><stop offset="0.317" stop-color="#ffff00"/><stop offset="0.339" stop-color="#ffff00"/><stop offset="0.381" stop-color="#deff21"/><stop offset="0.439" stop-color="#c5ff3a"/><stop offset="0.646" stop-color="#00fdff"/><stop offset="0.799" stop-color="#0065ff"/><stop offset="0.873" stop-color="#002eff"/><stop offset="0.947" stop-color="#000cff"/><stop offset="1" stop-color="#0000fd"/></linearGradient><linearGradient id="b64"><stop offset="0" stop-color="#68ff97"/><stop offset="0.159" stop-color="#66ff99"/><stop offset="0.249" stop-color="#6cff93"/><stop offset="0.27" stop-color="#6bff94"/><stop offset="0.28" stop-color="#76ff89"/><stop offset="0.286" stop-color="#85ff7a"/><stop offset="0.302" stop-color="#dbff24"/><stop offset="0.307" stop-color="#edff12"/><stop offset="0.317" stop-color="#fcff03"/><stop offset="0.344" stop-color="#f9ff06"/><stop offset="0.386" stop-color="#dbff24"/><stop offset="0.434" stop-color="#c5ff3a"/><stop offset="0.635" stop-color="#00ffff"/><stop offset="0.794" stop-color="#0064ff"/><stop offset="0.868" stop-color="#002fff"/><stop offset="0.942" stop-color="#000dff"/><stop offset="1" stop-color="#0000fc"/></linearGradient><linearGradient id="b65"><stop offset="0" stop-color="#69ff96"/><stop offset="0.164" stop-color="#65ff9a"/><stop offset="0.249" stop-color="#69ff96"/><stop offset="0.275" stop-color="#6bff94"/><stop offset="0.28" stop-color="#72ff8d"/><stop offset="0.286" stop-color="#82ff7d"/><stop offset="0.302" stop-color="#d5ff2a"/><stop offset="0.307" stop-color="#e6ff19"/><stop offset="0.317" stop-color="#f4ff0b"/><stop offset="0.349" stop-color="#f1ff0e"/><stop offset="0.402" stop-color="#d2ff2d"/><stop offset="0.434" stop-color="#bdff42"/><stop offset="0.619" stop-color="#04fffb"/><stop offset="0.64" stop-color="#00eeff"/><stop offset="0.783" stop-color="#0068ff"/><stop offset="0.857" stop-color="#0033ff"/><stop offset="0.937" stop-color="#000eff"/><stop offset="1" stop-color="#0000fd"/></linearGradient><linearGradient id="b66"><stop offset="0" stop-color="#65ff9a"/><stop offset="0.18" stop-color="#65ff9a"/><stop offset="0.275" stop-color="#68ff97"/><stop offset="0.28" stop-color="#6fff90"/><stop offset="0.286" stop-color="#7eff81"/><stop offset="0.302" stop-color="#cdff32"/><stop offset="0.307" stop-color="#ddff22"/><stop offset="0.317" stop-color="#eaff15"/><stop offset="0.344" stop-color="#e8ff17"/><stop offset="0.397" stop-color="#cdff32"/><stop offset="0.46" stop-color="#96ff69"/><stop offset="0.593" stop-color="#0efff1"/><stop offset="0.608" stop-color="#00feff"/><stop offset="0.778" stop-color="#0067ff"/><stop offset="0.857" stop-color="#0031ff"/><stop offset="0.937" stop-color="#000eff"/><stop offset="1" stop-color="#0000fd"/></linearGradient><linearGradient id="b67"><stop offset="0" stop-color="#6dff92"/><stop offset="0.196" stop-color="#67ff98"/><stop offset="0.27" stop-color="#61ff9e"/><stop offset="0.28" stop-color="#6aff95"/><stop offset="0.286" stop-color="#77ff88"/><stop offset="0.302" stop-color="#c0ff3f"/><stop offset="0.307" stop-color="#cfff30"/><stop offset="0.317" stop-color="#daff25"/><stop offset="0.349" stop-color="#d4ff2b"/><stop offset="0.413" stop-color="#acff53"/><stop offset="0.587" stop-color="#02fffd"/><stop offset="0.794" stop-color="#0057ff"/><stop offset="0.873" stop-color="#0027ff"/><stop offset="0.963" stop-color="#0006ff"/><stop offset="1" stop-color="#0000fd"/></linearGradient><linearGradient id="b68"><stop offset="0" stop-color="#76ff89"/><stop offset="0.243" stop-color="#5affa5"/><stop offset="0.275" stop-color="#56ffa9"/><stop offset="0.28" stop-color="#5bffa4"/><stop offset="0.286" stop-color="#67ff98"/><stop offset="0.302" stop-color="#a8ff57"/><stop offset="0.312" stop-color="#bcff43"/><stop offset="0.339" stop-color="#baff45"/><stop offset="0.402" stop-color="#96ff69"/><stop offset="0.487" stop-color="#4affb5"/><stop offset="0.566" stop-color="#03fffc"/><stop offset="0.81" stop-color="#0049ff"/><stop offset="0.894" stop-color="#001dff"/><stop offset="0.984" stop-color="#0002ff"/><stop offset="1" stop-color="#0000fe"/></linearGradient><linearGradient id="b69"><stop offset="0" stop-color="#6dff92"/><stop offset="0.275" stop-color="#3dffc2"/><stop offset="0.286" stop-color="#4cffb3"/><stop offset="0.302" stop-color="#85ff7a"/><stop offset="0.312" stop-color="#96ff69"/><stop offset="0.333" stop-color="#96ff69"/><stop offset="0.392" stop-color="#7cff83"/><stop offset="0.476" stop-color="#3cffc3"/><stop offset="0.55" stop-color="#00fdff"/><stop offset="0.804" stop-color="#0049ff"/><stop offset="0.894" stop-color="#001cff"/><stop offset="0.995" stop-color="#0000ff"/><stop offset="1" stop-color="#0000fe"/></linearGradient><linearGradient id="b70"><stop offset="0" stop-color="#40ffbf"/><stop offset="0.106" stop-color="#35ffca"/><stop offset="0.27" stop-color="#22ffdd"/><stop offset="0.28" stop-color="#28ffd7"/><stop offset="0.291" stop-color="#40ffbf"/><stop offset="0.302" stop-color="#63ff9c"/><stop offset="0.312" stop-color="#73ff8c"/><stop offset="0.344" stop-color="#73ff8c"/><stop offset="0.413" stop-color="#56ffa9"/><stop offset="0.508" stop-color="#0efff1"/><stop offset="0.529" stop-color="#00fdff"/><stop offset="0.72" stop-color="#007bff"/><stop offset="0.836" stop-color="#0034ff"/><stop offset="0.942" stop-color="#000cff"/><stop offset="1" stop-color="#0000fe"/></linearGradient><linearGradient id="b71"><stop offset="0" stop-color="#1cffe3"/><stop offset="0.222" stop-color="#15ffea"/><stop offset="0.275" stop-color="#15ffea"/><stop offset="0.286" stop-color="#21ffde"/><stop offset="0.302" stop-color="#4effb1"/><stop offset="0.312" stop-color="#5dffa2"/><stop offset="0.344" stop-color="#5dffa2"/><stop offset="0.418" stop-color="#41ffbe"/><stop offset="0.508" stop-color="#00fdff"/><stop offset="0.603" stop-color="#00baff"/><stop offset="0.82" stop-color="#0038ff"/><stop offset="0.931" stop-color="#000dff"/><stop offset="1" stop-color="#0000fd"/></linearGradient><linearGradient id="b72"><stop offset="0" stop-color="#17ffe8"/><stop offset="0.206" stop-color="#10ffef"/><stop offset="0.275" stop-color="#11ffee"/><stop offset="0.286" stop-color="#1cffe3"/><stop offset="0.302" stop-color="#44ffbb"/><stop offset="0.312" stop-color="#50ffaf"/><stop offset="0.344" stop-color="#50ffaf"/><stop offset="0.418" stop-color="#34ffcb"/><stop offset="0.487" stop-color="#01fffe"/><stop offset="0.582" stop-color="#00b7ff"/><stop offset="0.815" stop-color="#0036ff"/><stop offset="0.931" stop-color="#000bff"/><stop offset="1" stop-color="#0000fc"/></linearGradient><linearGradient id="b73"><stop offset="0" stop-color="#26ffd9"/><stop offset="0.206" stop-color="#13ffec"/><stop offset="0.275" stop-color="#11ffee"/><stop offset="0.286" stop-color="#1affe5"/><stop offset="0.302" stop-color="#3dffc2"/><stop offset="0.317" stop-color="#49ffb6"/><stop offset="0.376" stop-color="#3cffc3"/><stop offset="0.439" stop-color="#1bffe4"/><stop offset="0.476" stop-color="#00fcff"/><stop offset="0.556" stop-color="#00b9ff"/><stop offset="0.693" stop-color="#006dff"/><stop offset="0.852" stop-color="#0022ff"/><stop offset="0.963" stop-color="#0002ff"/><stop offset="1" stop-color="#0000fb"/></linearGradient><linearGradient id="b74"><stop offset="0" stop-color="#2dffd2"/><stop offset="0.122" stop-color="#1dffe2"/><stop offset="0.275" stop-color="#11ffee"/><stop offset="0.286" stop-color="#18ffe7"/><stop offset="0.302" stop-color="#37ffc8"/><stop offset="0.317" stop-color="#41ffbe"/><stop offset="0.381" stop-color="#31ffce"/><stop offset="0.444" stop-color="#0dfff2"/><stop offset="0.466" stop-color="#00fbff"/><stop offset="0.556" stop-color="#00adff"/><stop offset="0.651" stop-color="#0079ff"/><stop offset="0.847" stop-color="#0020ff"/><stop offset="0.963" stop-color="#0001ff"/><stop offset="1" stop-color="#0000fa"/></linearGradient><linearGradient id="b75"><stop offset="0" stop-color="#2dffd2"/><stop offset="0.106" stop-color="#21ffde"/><stop offset="0.275" stop-color="#12ffed"/><stop offset="0.291" stop-color="#21ffde"/><stop offset="0.307" stop-color="#39ffc6"/><stop offset="0.333" stop-color="#3affc5"/><stop offset="0.402" stop-color="#23ffdc"/><stop offset="0.455" stop-color="#00ffff"/><stop offset="0.55" stop-color="#00aaff"/><stop offset="0.635" stop-color="#007bff"/><stop offset="0.847" stop-color="#001eff"/><stop offset="0.963" stop-color="#0000ff"/><stop offset="1" stop-color="#0000f9"/></linearGradient><linearGradient id="b76"><stop offset="0" stop-color="#33ffcc"/><stop offset="0.116" stop-color="#26ffd9"/><stop offset="0.275" stop-color="#18ffe7"/><stop offset="0.291" stop-color="#25ffda"/><stop offset="0.307" stop-color="#3affc5"/><stop offset="0.339" stop-color="#39ffc6"/><stop offset="0.413" stop-color="#1cffe3"/><stop offset="0.455" stop-color="#00feff"/><stop offset="0.556" stop-color="#00a6ff"/><stop offset="0.651" stop-color="#0074ff"/><stop offset="0.847" stop-color="#001eff"/><stop offset="0.963" stop-color="#0000ff"/><stop offset="1" stop-color="#0000f9"/></linearGradient><linearGradient id="b77"><stop offset="0" stop-color="#43ffbc"/><stop offset="0.111" stop-color="#36ffc9"/><stop offset="0.28" stop-color="#24ffdb"/><stop offset="0.307" stop-color="#40ffbf"/><stop offset="0.339" stop-color="#3dffc2"/><stop offset="0.418" stop-color="#1cffe3"/><stop offset="0.46" stop-color="#00fdff"/><stop offset="0.561" stop-color="#00a9ff"/><stop offset="0.741" stop-color="#004eff"/><stop offset="0.873" stop-color="#0017ff"/><stop offset="0.974" stop-color="#0000fe"/><stop offset="1" stop-color="#0000fa"/></linearGradient><linearGradient id="b78"><stop offset="0" stop-color="#5affa5"/><stop offset="0.106" stop-color="#4bffb4"/><stop offset="0.275" stop-color="#31ffce"/><stop offset="0.291" stop-color="#3affc5"/><stop offset="0.307" stop-color="#4affb5"/><stop offset="0.349" stop-color="#42ffbd"/><stop offset="0.423" stop-color="#20ffdf"/><stop offset="0.471" stop-color="#00fdff"/><stop offset="0.561" stop-color="#00b4ff"/><stop offset="0.804" stop-color="#0035ff"/><stop offset="0.915" stop-color="#000dff"/><stop offset="0.989" stop-color="#0000fd"/><stop offset="1" stop-color="#0000fb"/></linearGradient><linearGradient id="b79"><stop offset="0" stop-color="#6fff90"/><stop offset="0.095" stop-color="#63ff9c"/><stop offset="0.28" stop-color="#44ffbb"/><stop offset="0.307" stop-color="#58ffa7"/><stop offset="0.349" stop-color="#4effb1"/><stop offset="0.434" stop-color="#22ffdd"/><stop offset="0.481" stop-color="#00feff"/><stop offset="0.577" stop-color="#00b7ff"/><stop offset="0.815" stop-color="#0035ff"/><stop offset="0.921" stop-color="#000eff"/><stop offset="1" stop-color="#0000fc"/></linearGradient><linearGradient id="b80"><stop offset="0" stop-color="#8eff71"/><stop offset="0.074" stop-color="#87ff78"/><stop offset="0.28" stop-color="#5affa5"/><stop offset="0.307" stop-color="#6aff95"/><stop offset="0.36" stop-color="#56ffa9"/><stop offset="0.455" stop-color="#1dffe2"/><stop offset="0.497" stop-color="#00fcff"/><stop offset="0.593" stop-color="#00baff"/><stop offset="0.81" stop-color="#003bff"/><stop offset="0.921" stop-color="#0010ff"/><stop offset="1" stop-color="#0000fe"/></linearGradient><linearGradient id="b81"><stop offset="0" stop-color="#beff41"/><stop offset="0.085" stop-color="#afff50"/><stop offset="0.28" stop-color="#6fff90"/><stop offset="0.307" stop-color="#7bff84"/><stop offset="0.37" stop-color="#5cffa3"/><stop offset="0.508" stop-color="#00fdff"/><stop offset="0.698" stop-color="#007fff"/><stop offset="0.836" stop-color="#0031ff"/><stop offset="0.942" stop-color="#000cff"/><stop offset="1" stop-color="#0000ff"/></linearGradient><linearGradient id="b82"><stop offset="0" stop-color="#e2ff1d"/><stop offset="0.079" stop-color="#d3ff2c"/><stop offset="0.28" stop-color="#82ff7d"/><stop offset="0.312" stop-color="#88ff77"/><stop offset="0.413" stop-color="#49ffb6"/><stop offset="0.513" stop-color="#00ffff"/><stop offset="0.73" stop-color="#006cff"/><stop offset="0.847" stop-color="#002dff"/><stop offset="0.958" stop-color="#0009ff"/><stop offset="1" stop-color="#0001ff"/></linearGradient><linearGradient id="b83"><stop offset="0" stop-color="#fbff04"/><stop offset="0.079" stop-color="#ecff13"/><stop offset="0.249" stop-color="#a3ff5c"/><stop offset="0.286" stop-color="#93ff6c"/><stop offset="0.307" stop-color="#98ff67"/><stop offset="0.392" stop-color="#5fffa0"/><stop offset="0.519" stop-color="#00fcff"/><stop offset="0.725" stop-color="#006eff"/><stop offset="0.841" stop-color="#002fff"/><stop offset="0.947" stop-color="#000cff"/><stop offset="1" stop-color="#0001ff"/></linearGradient><linearGradient id="b84"><stop offset="0" stop-color="#ffe800"/><stop offset="0.063" stop-color="#fff100"/><stop offset="0.111" stop-color="#fcff03"/><stop offset="0.238" stop-color="#bdff42"/><stop offset="0.286" stop-color="#a4ff5b"/><stop offset="0.307" stop-color="#a5ff5a"/><stop offset="0.392" stop-color="#63ff9c"/><stop offset="0.513" stop-color="#00feff"/><stop offset="0.693" stop-color="#007fff"/><stop offset="0.815" stop-color="#003aff"/><stop offset="0.926" stop-color="#0011ff"/><stop offset="1" stop-color="#0001ff"/></linearGradient><linearGradient id="b85"><stop offset="0" stop-color="#ffbe00"/><stop offset="0.063" stop-color="#ffcc00"/><stop offset="0.164" stop-color="#feff01"/><stop offset="0.286" stop-color="#aeff51"/><stop offset="0.312" stop-color="#a8ff57"/><stop offset="0.503" stop-color="#03fffc"/><stop offset="0.704" stop-color="#0075ff"/><stop offset="0.82" stop-color="#0036ff"/><stop offset="0.931" stop-color="#000fff"/><stop offset="1" stop-color="#0001ff"/></linearGradient><linearGradient id="b86"><stop offset="0" stop-color="#ffa800"/><stop offset="0.053" stop-color="#ffb500"/><stop offset="0.148" stop-color="#ffec00"/><stop offset="0.18" stop-color="#fcff03"/><stop offset="0.286" stop-color="#b0ff4f"/><stop offset="0.312" stop-color="#a7ff58"/><stop offset="0.476" stop-color="#14ffeb"/><stop offset="0.503" stop-color="#00feff"/><stop offset="0.646" stop-color="#0096ff"/><stop offset="0.783" stop-color="#0045ff"/><stop offset="0.889" stop-color="#001aff"/><stop offset="1" stop-color="#0000ff"/></linearGradient><linearGradient id="b87"><stop offset="0" stop-color="#ffb600"/><stop offset="0.058" stop-color="#ffc200"/><stop offset="0.169" stop-color="#feff01"/><stop offset="0.286" stop-color="#aeff51"/><stop offset="0.312" stop-color="#a4ff5b"/><stop offset="0.476" stop-color="#10ffef"/><stop offset="0.497" stop-color="#00feff"/><stop offset="0.635" stop-color="#0099ff"/><stop offset="0.778" stop-color="#0045ff"/><stop offset="0.894" stop-color="#0017ff"/><stop offset="1" stop-color="#0000fe"/></linearGradient><linearGradient id="b88"><stop offset="0" stop-color="#ffc000"/><stop offset="0.058" stop-color="#ffc900"/><stop offset="0.169" stop-color="#feff01"/><stop offset="0.265" stop-color="#beff41"/><stop offset="0.296" stop-color="#acff53"/><stop offset="0.333" stop-color="#90ff6f"/><stop offset="0.46" stop-color="#1affe5"/><stop offset="0.492" stop-color="#00feff"/><stop offset="0.635" stop-color="#0095ff"/><stop offset="0.772" stop-color="#0045ff"/><stop offset="0.889" stop-color="#0017ff"/><stop offset="1" stop-color="#0000fe"/></linearGradient><linearGradient id="b89"><stop offset="0" stop-color="#ffaf00"/><stop offset="0.053" stop-color="#ffba00"/><stop offset="0.153" stop-color="#fff000"/><stop offset="0.18" stop-color="#fdff02"/><stop offset="0.275" stop-color="#b8ff47"/><stop offset="0.317" stop-color="#9fff60"/><stop offset="0.455" stop-color="#1cffe3"/><stop offset="0.487" stop-color="#01fffe"/><stop offset="0.63" stop-color="#0095ff"/><stop offset="0.757" stop-color="#004aff"/><stop offset="0.873" stop-color="#001aff"/><stop offset="0.989" stop-color="#0000fe"/><stop offset="1" stop-color="#0000fd"/></linearGradient><linearGradient id="b90"><stop offset="0" stop-color="#ffad00"/><stop offset="0.053" stop-color="#ffb800"/><stop offset="0.148" stop-color="#ffeb00"/><stop offset="0.185" stop-color="#fcff03"/><stop offset="0.291" stop-color="#b0ff4f"/><stop offset="0.328" stop-color="#94ff6b"/><stop offset="0.466" stop-color="#11ffee"/><stop offset="0.487" stop-color="#00feff"/><stop offset="0.635" stop-color="#008eff"/><stop offset="0.772" stop-color="#003fff"/><stop offset="0.894" stop-color="#0012ff"/><stop offset="0.995" stop-color="#0000fd"/><stop offset="1" stop-color="#0000fc"/></linearGradient><linearGradient id="b91"><stop offset="0" stop-color="#ffaf00"/><stop offset="0.058" stop-color="#ffba00"/><stop offset="0.159" stop-color="#ffef00"/><stop offset="0.19" stop-color="#fbff04"/><stop offset="0.296" stop-color="#afff50"/><stop offset="0.339" stop-color="#8bff74"/><stop offset="0.476" stop-color="#06fff9"/><stop offset="0.497" stop-color="#00f3ff"/><stop offset="0.614" stop-color="#0099ff"/><stop offset="0.73" stop-color="#0051ff"/><stop offset="0.841" stop-color="#0020ff"/><stop offset="0.958" stop-color="#0003ff"/><stop offset="1" stop-color="#0000fb"/></linearGradient><linearGradient id="b92"><stop offset="0" stop-color="#ffa500"/><stop offset="0.058" stop-color="#ffb100"/><stop offset="0.18" stop-color="#fff600"/><stop offset="0.201" stop-color="#faff05"/><stop offset="0.323" stop-color="#9cff63"/><stop offset="0.476" stop-color="#04fffb"/><stop offset="0.487" stop-color="#00faff"/><stop offset="0.603" stop-color="#009cff"/><stop offset="0.72" stop-color="#0052ff"/><stop offset="0.836" stop-color="#001fff"/><stop offset="0.963" stop-color="#0001ff"/><stop offset="1" stop-color="#0000fb"/></linearGradient><linearGradient id="b93"><stop offset="0" stop-color="#ff9a00"/><stop offset="0.053" stop-color="#ffa500"/><stop offset="0.153" stop-color="#ffde00"/><stop offset="0.201" stop-color="#ffff00"/><stop offset="0.323" stop-color="#9dff62"/><stop offset="0.476" stop-color="#01fffe"/><stop offset="0.593" stop-color="#009eff"/><stop offset="0.709" stop-color="#0053ff"/><stop offset="0.82" stop-color="#0022ff"/><stop offset="0.942" stop-color="#0003ff"/><stop offset="1" stop-color="#0000fa"/></linearGradient><linearGradient id="b94"><stop offset="0" stop-color="#ff9300"/><stop offset="0.053" stop-color="#ff9e00"/><stop offset="0.132" stop-color="#ffcb00"/><stop offset="0.206" stop-color="#feff01"/><stop offset="0.328" stop-color="#96ff69"/><stop offset="0.471" stop-color="#02fffd"/><stop offset="0.593" stop-color="#0098ff"/><stop offset="0.704" stop-color="#0051ff"/><stop offset="0.815" stop-color="#0021ff"/><stop offset="0.931" stop-color="#0004ff"/><stop offset="1" stop-color="#0000fa"/></linearGradient><linearGradient id="b95"><stop offset="0" stop-color="#ff8f00"/><stop offset="0.053" stop-color="#ff9a00"/><stop offset="0.132" stop-color="#ffc900"/><stop offset="0.206" stop-color="#fdff02"/><stop offset="0.328" stop-color="#92ff6d"/><stop offset="0.466" stop-color="#00ffff"/><stop offset="0.566" stop-color="#00a6ff"/><stop offset="0.667" stop-color="#0061ff"/><stop offset="0.772" stop-color="#002eff"/><stop offset="0.884" stop-color="#000dff"/><stop offset="0.974" stop-color="#0000fd"/><stop offset="1" stop-color="#0000fa"/></linearGradient><linearGradient id="b96"><stop offset="0" stop-color="#ff8f00"/><stop offset="0.048" stop-color="#ff9900"/><stop offset="0.111" stop-color="#ffbe00"/><stop offset="0.196" stop-color="#fffe00"/><stop offset="0.323" stop-color="#8fff70"/><stop offset="0.455" stop-color="#02fffd"/><stop offset="0.571" stop-color="#009bff"/><stop offset="0.672" stop-color="#0059ff"/><stop offset="0.783" stop-color="#0027ff"/><stop offset="0.91" stop-color="#0007ff"/><stop offset="0.989" stop-color="#0000fb"/><stop offset="1" stop-color="#0000fa"/></linearGradient><linearGradient id="b97"><stop offset="0" stop-color="#ff9b00"/><stop offset="0.053" stop-color="#ffa800"/><stop offset="0.122" stop-color="#ffd200"/><stop offset="0.185" stop-color="#fcff03"/><stop offset="0.333" stop-color="#78ff87"/><stop offset="0.45" stop-color="#00fdff"/><stop offset="0.55" stop-color="#00a4ff"/><stop offset="0.656" stop-color="#005eff"/><stop offset="0.757" stop-color="#002fff"/><stop offset="0.868" stop-color="#000fff"/><stop offset="0.974" stop-color="#0000fd"/><stop offset="1" stop-color="#0000fa"/></linearGradient><linearGradient id="b98"><stop offset="0" stop-color="#ffaf00"/><stop offset="0.053" stop-color="#ffbc00"/><stop offset="0.132" stop-color="#ffee00"/><stop offset="0.159" stop-color="#fcff03"/><stop offset="0.312" stop-color="#7eff81"/><stop offset="0.439" stop-color="#00feff"/><stop offset="0.545" stop-color="#00a2ff"/><stop offset="0.646" stop-color="#0060ff"/><stop offset="0.746" stop-color="#0031ff"/><stop offset="0.868" stop-color="#000fff"/><stop offset="0.979" stop-color="#0000fd"/><stop offset="1" stop-color="#0000fb"/></linearGradient><linearGradient id="b99"><stop offset="0" stop-color="#ffcf00"/><stop offset="0.048" stop-color="#ffd900"/><stop offset="0.122" stop-color="#fcff03"/><stop offset="0.27" stop-color="#91ff6e"/><stop offset="0.354" stop-color="#49ffb6"/><stop offset="0.429" stop-color="#01fffe"/><stop offset="0.55" stop-color="#0099ff"/><stop offset="0.646" stop-color="#005dff"/><stop offset="0.751" stop-color="#002eff"/><stop offset="0.878" stop-color="#000eff"/><stop offset="0.984" stop-color="#0000fd"/><stop offset="1" stop-color="#0000fb"/></linearGradient><linearGradient id="b100"><stop offset="0" stop-color="#ffef00"/><stop offset="0.053" stop-color="#fff900"/><stop offset="0.074" stop-color="#fcff03"/><stop offset="0.206" stop-color="#afff50"/><stop offset="0.328" stop-color="#57ffa8"/><stop offset="0.423" stop-color="#00feff"/><stop offset="0.54" stop-color="#009cff"/><stop offset="0.64" stop-color="#005dff"/><stop offset="0.746" stop-color="#0030ff"/><stop offset="0.884" stop-color="#000eff"/><stop offset="0.989" stop-color="#0000fd"/><stop offset="1" stop-color="#0000fc"/></linearGradient><linearGradient id="b101"><stop offset="0" stop-color="#ffff00"/><stop offset="0.048" stop-color="#f7ff08"/><stop offset="0.143" stop-color="#c7ff38"/><stop offset="0.275" stop-color="#76ff89"/><stop offset="0.349" stop-color="#3dffc2"/><stop offset="0.418" stop-color="#00fdff"/><stop offset="0.524" stop-color="#00a5ff"/><stop offset="0.614" stop-color="#006bff"/><stop offset="0.72" stop-color="#003bff"/><stop offset="0.857" stop-color="#0014ff"/><stop offset="0.989" stop-color="#0000fe"/><stop offset="1" stop-color="#0000fc"/></linearGradient><linearGradient id="b102"><stop offset="0" stop-color="#f4ff0b"/><stop offset="0.058" stop-color="#e8ff17"/><stop offset="0.259" stop-color="#78ff87"/><stop offset="0.344" stop-color="#3affc5"/><stop offset="0.413" stop-color="#00fcff"/><stop offset="0.524" stop-color="#00a3ff"/><stop offset="0.624" stop-color="#0066ff"/><stop offset="0.741" stop-color="#0035ff"/><stop offset="0.889" stop-color="#000fff"/><stop offset="1" stop-color="#0000fd"/></linearGradient><linearGradient id="b103"><stop offset="0" stop-color="#e8ff17"/><stop offset="0.058" stop-color="#dcff23"/><stop offset="0.275" stop-color="#64ff9b"/><stop offset="0.376" stop-color="#19ffe6"/><stop offset="0.407" stop-color="#00fdff"/><stop offset="0.54" stop-color="#009aff"/><stop offset="0.646" stop-color="#005fff"/><stop offset="0.783" stop-color="#002aff"/><stop offset="0.942" stop-color="#0006ff"/><stop offset="1" stop-color="#0000fd"/></linearGradient><linearGradient id="b104"><stop offset="0" stop-color="#d6ff29"/><stop offset="0.053" stop-color="#cbff34"/><stop offset="0.291" stop-color="#53ffac"/><stop offset="0.397" stop-color="#09fff6"/><stop offset="0.407" stop-color="#00ffff"/><stop offset="0.55" stop-color="#0099ff"/><stop offset="0.667" stop-color="#0059ff"/><stop offset="0.788" stop-color="#002aff"/><stop offset="0.937" stop-color="#0008ff"/><stop offset="1" stop-color="#0000fd"/></linearGradient><linearGradient id="b105"><stop offset="0" stop-color="#bcff43"/><stop offset="0.069" stop-color="#afff50"/><stop offset="0.275" stop-color="#5fffa0"/><stop offset="0.349" stop-color="#34ffcb"/><stop offset="0.423" stop-color="#00fdff"/><stop offset="0.566" stop-color="#0095ff"/><stop offset="0.693" stop-color="#0050ff"/><stop offset="0.81" stop-color="#0025ff"/><stop offset="0.963" stop-color="#0003ff"/><stop offset="1" stop-color="#0000fd"/></linearGradient><linearGradient id="b106"><stop offset="0" stop-color="#bdff42"/><stop offset="0.058" stop-color="#b8ff47"/><stop offset="0.254" stop-color="#7bff84"/><stop offset="0.333" stop-color="#50ffaf"/><stop offset="0.439" stop-color="#00fdff"/><stop offset="0.566" stop-color="#009bff"/><stop offset="0.693" stop-color="#0053ff"/><stop offset="0.815" stop-color="#0024ff"/><stop offset="0.963" stop-color="#0003ff"/><stop offset="1" stop-color="#0000fd"/></linearGradient><linearGradient id="b107"><stop offset="0" stop-color="#efff10"/><stop offset="0.063" stop-color="#e6ff19"/><stop offset="0.243" stop-color="#9eff61"/><stop offset="0.328" stop-color="#68ff97"/><stop offset="0.45" stop-color="#00feff"/><stop offset="0.571" stop-color="#009cff"/><stop offset="0.677" stop-color="#005cff"/><stop offset="0.804" stop-color="#0028ff"/><stop offset="0.947" stop-color="#0006ff"/><stop offset="1" stop-color="#0000fd"/></linearGradient><linearGradient id="b108"><stop offset="0" stop-color="#ffd000"/><stop offset="0.053" stop-color="#ffdb00"/><stop offset="0.127" stop-color="#feff01"/><stop offset="0.265" stop-color="#abff54"/><stop offset="0.349" stop-color="#66ff99"/><stop offset="0.46" stop-color="#00fcff"/><stop offset="0.577" stop-color="#009cff"/><stop offset="0.683" stop-color="#005bff"/><stop offset="0.799" stop-color="#002aff"/><stop offset="0.937" stop-color="#0008ff"/><stop offset="1" stop-color="#0000fd"/></linearGradient><linearGradient id="b109"><stop offset="0" stop-color="#ffad00"/><stop offset="0.053" stop-color="#ffb900"/><stop offset="0.138" stop-color="#ffeb00"/><stop offset="0.175" stop-color="#fbff04"/><stop offset="0.291" stop-color="#a5ff5a"/><stop offset="0.466" stop-color="#00fdff"/><stop offset="0.577" stop-color="#009fff"/><stop offset="0.683" stop-color="#005dff"/><stop offset="0.794" stop-color="#002cff"/><stop offset="0.937" stop-color="#0007ff"/><stop offset="1" stop-color="#0000fc"/></linearGradient><linearGradient id="b110"><stop offset="0" stop-color="#ffa200"/><stop offset="0.053" stop-color="#ffad00"/><stop offset="0.148" stop-color="#ffe300"/><stop offset="0.19" stop-color="#feff01"/><stop offset="0.291" stop-color="#b0ff4f"/><stop offset="0.471" stop-color="#00fdff"/><stop offset="0.571" stop-color="#00a6ff"/><stop offset="0.677" stop-color="#0060ff"/><stop offset="0.794" stop-color="#002cff"/><stop offset="0.931" stop-color="#0008ff"/><stop offset="1" stop-color="#0000fc"/></linearGradient><linearGradient id="b111"><stop offset="0" stop-color="#ff9200"/><stop offset="0.048" stop-color="#ff9b00"/><stop offset="0.116" stop-color="#ffbf00"/><stop offset="0.212" stop-color="#fcff03"/><stop offset="0.312" stop-color="#a6ff59"/><stop offset="0.471" stop-color="#02fffd"/><stop offset="0.598" stop-color="#0093ff"/><stop offset="0.704" stop-color="#0052ff"/><stop offset="0.82" stop-color="#0023ff"/><stop offset="0.963" stop-color="#0002ff"/><stop offset="1" stop-color="#0000fc"/></linearGradient><linearGradient id="b112"><stop offset="0" stop-color="#ff7f00"/><stop offset="0.053" stop-color="#ff8b00"/><stop offset="0.143" stop-color="#ffc200"/><stop offset="0.222" stop-color="#fffe00"/><stop offset="0.323" stop-color="#a3ff5c"/><stop offset="0.476" stop-color="#00ffff"/><stop offset="0.571" stop-color="#00a8ff"/><stop offset="0.672" stop-color="#0063ff"/><stop offset="0.772" stop-color="#0034ff"/><stop offset="0.894" stop-color="#000fff"/><stop offset="0.995" stop-color="#0000fd"/><stop offset="1" stop-color="#0000fc"/></linearGradient><linearGradient id="b113"><stop offset="0" stop-color="#ff7500"/><stop offset="0.053" stop-color="#ff8000"/><stop offset="0.138" stop-color="#ffb400"/><stop offset="0.233" stop-color="#fffe00"/><stop offset="0.323" stop-color="#a9ff56"/><stop offset="0.476" stop-color="#01fffe"/><stop offset="0.577" stop-color="#00a4ff"/><stop offset="0.667" stop-color="#0066ff"/><stop offset="0.783" stop-color="#002fff"/><stop offset="0.905" stop-color="#000dff"/><stop offset="0.995" stop-color="#0000fd"/><stop offset="1" stop-color="#0000fc"/></linearGradient><linearGradient id="b114"><stop offset="0" stop-color="#ff6800"/><stop offset="0.048" stop-color="#ff7200"/><stop offset="0.116" stop-color="#ff9a00"/><stop offset="0.228" stop-color="#fff200"/><stop offset="0.243" stop-color="#fdff02"/><stop offset="0.344" stop-color="#94ff6b"/><stop offset="0.476" stop-color="#00ffff"/><stop offset="0.577" stop-color="#00a3ff"/><stop offset="0.672" stop-color="#0063ff"/><stop offset="0.778" stop-color="#0031ff"/><stop offset="0.899" stop-color="#000eff"/><stop offset="1" stop-color="#0000fd"/></linearGradient><linearGradient id="b115"><stop offset="0" stop-color="#ff5b00"/><stop offset="0.048" stop-color="#ff6700"/><stop offset="0.122" stop-color="#ff9800"/><stop offset="0.243" stop-color="#fcff03"/><stop offset="0.37" stop-color="#74ff8b"/><stop offset="0.476" stop-color="#00feff"/><stop offset="0.571" stop-color="#00a7ff"/><stop offset="0.667" stop-color="#0066ff"/><stop offset="0.767" stop-color="#0035ff"/><stop offset="0.889" stop-color="#0011ff"/><stop offset="1" stop-color="#0000fd"/></linearGradient><linearGradient id="b116"><stop offset="0" stop-color="#ff6500"/><stop offset="0.042" stop-color="#ff6e00"/><stop offset="0.106" stop-color="#ff9600"/><stop offset="0.233" stop-color="#feff01"/><stop offset="0.349" stop-color="#88ff77"/><stop offset="0.476" stop-color="#00feff"/><stop offset="0.571" stop-color="#00a7ff"/><stop offset="0.672" stop-color="#0062ff"/><stop offset="0.778" stop-color="#0032ff"/><stop offset="0.894" stop-color="#0011ff"/><stop offset="1" stop-color="#0000fe"/></linearGradient><linearGradient id="b117"><stop offset="0" stop-color="#ff8000"/><stop offset="0.048" stop-color="#ff8a00"/><stop offset="0.122" stop-color="#ffb500"/><stop offset="0.222" stop-color="#feff01"/><stop offset="0.323" stop-color="#a2ff5d"/><stop offset="0.476" stop-color="#00fdff"/><stop offset="0.571" stop-color="#00a7ff"/><stop offset="0.661" stop-color="#0069ff"/><stop offset="0.757" stop-color="#003bff"/><stop offset="0.878" stop-color="#0015ff"/><stop offset="1" stop-color="#0000fe"/></linearGradient><linearGradient id="b118"><stop offset="0" stop-color="#ff8c00"/><stop offset="0.053" stop-color="#ff9700"/><stop offset="0.138" stop-color="#ffc800"/><stop offset="0.217" stop-color="#feff01"/><stop offset="0.307" stop-color="#b0ff4f"/><stop offset="0.471" stop-color="#02fffd"/><stop offset="0.577" stop-color="#00a3ff"/><stop offset="0.672" stop-color="#0064ff"/><stop offset="0.772" stop-color="#0036ff"/><stop offset="0.91" stop-color="#0010ff"/><stop offset="1" stop-color="#0000ff"/></linearGradient><linearGradient id="b119"><stop offset="0" stop-color="#ff8800"/><stop offset="0.053" stop-color="#ff9300"/><stop offset="0.132" stop-color="#ffc400"/><stop offset="0.217" stop-color="#fcff03"/><stop offset="0.312" stop-color="#a8ff57"/><stop offset="0.471" stop-color="#01fffe"/><stop offset="0.566" stop-color="#00acff"/><stop offset="0.661" stop-color="#006cff"/><stop offset="0.772" stop-color="#0039ff"/><stop offset="0.915" stop-color="#0010ff"/><stop offset="1" stop-color="#0001ff"/></linearGradient><linearGradient id="b120"><stop offset="0" stop-color="#ff8700"/><stop offset="0.048" stop-color="#ff9400"/><stop offset="0.122" stop-color="#ffc500"/><stop offset="0.201" stop-color="#fdff02"/><stop offset="0.302" stop-color="#aaff55"/><stop offset="0.471" stop-color="#00ffff"/><stop offset="0.571" stop-color="#00aaff"/><stop offset="0.677" stop-color="#0067ff"/><stop offset="0.799" stop-color="#0032ff"/><stop offset="0.942" stop-color="#000cff"/><stop offset="1" stop-color="#0001ff"/></linearGradient><linearGradient id="b121"><stop offset="0" stop-color="#ffa600"/><stop offset="0.042" stop-color="#ffae00"/><stop offset="0.116" stop-color="#ffd900"/><stop offset="0.175" stop-color="#fdff02"/><stop offset="0.28" stop-color="#b3ff4c"/><stop offset="0.381" stop-color="#59ffa6"/><stop offset="0.476" stop-color="#00fdff"/><stop offset="0.593" stop-color="#00a0ff"/><stop offset="0.704" stop-color="#005eff"/><stop offset="0.836" stop-color="#0028ff"/><stop offset="0.979" stop-color="#0005ff"/><stop offset="1" stop-color="#0002ff"/></linearGradient><linearGradient id="b122"><stop offset="0" stop-color="#ffc400"/><stop offset="0.053" stop-color="#ffce00"/><stop offset="0.148" stop-color="#feff01"/><stop offset="0.275" stop-color="#b3ff4c"/><stop offset="0.365" stop-color="#6aff95"/><stop offset="0.481" stop-color="#00ffff"/><stop offset="0.598" stop-color="#00a3ff"/><stop offset="0.714" stop-color="#005dff"/><stop offset="0.836" stop-color="#002aff"/><stop offset="0.984" stop-color="#0005ff"/><stop offset="1" stop-color="#0003ff"/></linearGradient><linearGradient id="b123"><stop offset="0" stop-color="#ffca00"/><stop offset="0.053" stop-color="#ffd500"/><stop offset="0.143" stop-color="#fcff03"/><stop offset="0.28" stop-color="#b4ff4b"/><stop offset="0.37" stop-color="#6eff91"/><stop offset="0.492" stop-color="#01fffe"/><stop offset="0.614" stop-color="#009fff"/><stop offset="0.72" stop-color="#005fff"/><stop offset="0.831" stop-color="#002eff"/><stop offset="0.968" stop-color="#0009ff"/><stop offset="1" stop-color="#0004ff"/></linearGradient><linearGradient id="b124"><stop offset="0" stop-color="#ffcb00"/><stop offset="0.063" stop-color="#ffd700"/><stop offset="0.153" stop-color="#feff01"/><stop offset="0.275" stop-color="#c4ff3b"/><stop offset="0.349" stop-color="#8fff70"/><stop offset="0.508" stop-color="#00fcff"/><stop offset="0.619" stop-color="#00a1ff"/><stop offset="0.735" stop-color="#0059ff"/><stop offset="0.857" stop-color="#0027ff"/><stop offset="1" stop-color="#0004ff"/></linearGradient><linearGradient id="b125"><stop offset="0" stop-color="#ffb700"/><stop offset="0.053" stop-color="#ffbf00"/><stop offset="0.206" stop-color="#fdff02"/><stop offset="0.291" stop-color="#cfff30"/><stop offset="0.365" stop-color="#93ff6c"/><stop offset="0.513" stop-color="#01fffe"/><stop offset="0.63" stop-color="#009eff"/><stop offset="0.735" stop-color="#005cff"/><stop offset="0.857" stop-color="#0029ff"/><stop offset="1" stop-color="#0005ff"/></linearGradient><linearGradient id="b126"><stop offset="0" stop-color="#ff8f00"/><stop offset="0.058" stop-color="#ff9a00"/><stop offset="0.249" stop-color="#fffb00"/><stop offset="0.27" stop-color="#f5ff0a"/><stop offset="0.339" stop-color="#bdff42"/><stop offset="0.519" stop-color="#03fffc"/><stop offset="0.64" stop-color="#009aff"/><stop offset="0.746" stop-color="#005aff"/><stop offset="0.873" stop-color="#0026ff"/><stop offset="1" stop-color="#0006ff"/></linearGradient><linearGradient id="b127"><stop offset="0" stop-color="#ff6500"/><stop offset="0.053" stop-color="#ff6f00"/><stop offset="0.153" stop-color="#ffa800"/><stop offset="0.27" stop-color="#fff600"/><stop offset="0.286" stop-color="#fcff03"/><stop offset="0.37" stop-color="#a8ff57"/><stop offset="0.508" stop-color="#12ffed"/><stop offset="0.529" stop-color="#00fcff"/><stop offset="0.624" stop-color="#00aaff"/><stop offset="0.725" stop-color="#0069ff"/><stop offset="0.841" stop-color="#0034ff"/><stop offset="0.974" stop-color="#000cff"/><stop offset="1" stop-color="#0006ff"/></linearGradient><linearGradient id="b128"><stop offset="0" stop-color="#ff4300"/><stop offset="0.053" stop-color="#ff5100"/><stop offset="0.138" stop-color="#ff8a00"/><stop offset="0.275" stop-color="#fff000"/><stop offset="0.296" stop-color="#fbff04"/><stop offset="0.392" stop-color="#95ff6a"/><stop offset="0.503" stop-color="#1bffe4"/><stop offset="0.529" stop-color="#01fffe"/><stop offset="0.63" stop-color="#00aaff"/><stop offset="0.741" stop-color="#0064ff"/><stop offset="0.878" stop-color="#0028ff"/><stop offset="1" stop-color="#0005ff"/></linearGradient><linearGradient id="b129"><stop offset="0" stop-color="#ff4000"/><stop offset="0.048" stop-color="#ff4b00"/><stop offset="0.116" stop-color="#ff7600"/><stop offset="0.28" stop-color="#fff200"/><stop offset="0.296" stop-color="#fdff02"/><stop offset="0.392" stop-color="#97ff68"/><stop offset="0.508" stop-color="#1affe5"/><stop offset="0.534" stop-color="#01fffe"/><stop offset="0.646" stop-color="#00a4ff"/><stop offset="0.762" stop-color="#005dff"/><stop offset="0.899" stop-color="#0021ff"/><stop offset="1" stop-color="#0005ff"/></linearGradient><linearGradient id="b130"><stop offset="0" stop-color="#ff4300"/><stop offset="0.053" stop-color="#ff5100"/><stop offset="0.148" stop-color="#ff9100"/><stop offset="0.265" stop-color="#ffe400"/><stop offset="0.296" stop-color="#feff01"/><stop offset="0.413" stop-color="#83ff7c"/><stop offset="0.54" stop-color="#03fffc"/><stop offset="0.667" stop-color="#009bff"/><stop offset="0.794" stop-color="#004fff"/><stop offset="0.921" stop-color="#0019ff"/><stop offset="1" stop-color="#0003ff"/></linearGradient><linearGradient id="b131"><stop offset="0" stop-color="#ff4f00"/><stop offset="0.042" stop-color="#ff5800"/><stop offset="0.127" stop-color="#ff8900"/><stop offset="0.259" stop-color="#ffde00"/><stop offset="0.302" stop-color="#fdff02"/><stop offset="0.418" stop-color="#86ff79"/><stop offset="0.55" stop-color="#01fffe"/><stop offset="0.677" stop-color="#0098ff"/><stop offset="0.794" stop-color="#004fff"/><stop offset="0.915" stop-color="#0019ff"/><stop offset="1" stop-color="#0002ff"/></linearGradient><linearGradient id="b132"><stop offset="0" stop-color="#ff5700"/><stop offset="0.053" stop-color="#ff6100"/><stop offset="0.238" stop-color="#ffc500"/><stop offset="0.312" stop-color="#ffff00"/><stop offset="0.423" stop-color="#8dff72"/><stop offset="0.561" stop-color="#00feff"/><stop offset="0.677" stop-color="#009bff"/><stop offset="0.778" stop-color="#0057ff"/><stop offset="0.884" stop-color="#0023ff"/><stop offset="0.989" stop-color="#0003ff"/><stop offset="1" stop-color="#0000ff"/></linearGradient><linearGradient id="b133"><stop offset="0" stop-color="#ff4900"/><stop offset="0.053" stop-color="#ff5300"/><stop offset="0.233" stop-color="#ffae00"/><stop offset="0.307" stop-color="#ffe700"/><stop offset="0.333" stop-color="#feff01"/><stop offset="0.476" stop-color="#61ff9e"/><stop offset="0.566" stop-color="#00ffff"/><stop offset="0.661" stop-color="#00a7ff"/><stop offset="0.767" stop-color="#005aff"/><stop offset="0.868" stop-color="#0026ff"/><stop offset="0.968" stop-color="#0006ff"/><stop offset="1" stop-color="#0000fe"/></linearGradient><linearGradient id="b134"><stop offset="0" stop-color="#ff2c00"/><stop offset="0.053" stop-color="#ff3400"/><stop offset="0.217" stop-color="#ff8700"/><stop offset="0.291" stop-color="#ffc000"/><stop offset="0.323" stop-color="#ffe200"/><stop offset="0.344" stop-color="#fffe00"/><stop offset="0.392" stop-color="#d2ff2d"/><stop offset="0.556" stop-color="#0cfff3"/><stop offset="0.566" stop-color="#01fffe"/><stop offset="0.672" stop-color="#009bff"/><stop offset="0.757" stop-color="#005cff"/><stop offset="0.852" stop-color="#0029ff"/><stop offset="0.963" stop-color="#0005ff"/><stop offset="1" stop-color="#0000fd"/></linearGradient><linearGradient id="b135"><stop offset="0" stop-color="#fd0000"/><stop offset="0.048" stop-color="#ff0400"/><stop offset="0.138" stop-color="#ff3200"/><stop offset="0.233" stop-color="#ff7200"/><stop offset="0.296" stop-color="#ffae00"/><stop offset="0.328" stop-color="#ffe600"/><stop offset="0.349" stop-color="#fdff02"/><stop offset="0.402" stop-color="#d0ff2f"/><stop offset="0.54" stop-color="#1bffe4"/><stop offset="0.561" stop-color="#02fffd"/><stop offset="0.667" stop-color="#0098ff"/><stop offset="0.762" stop-color="#0053ff"/><stop offset="0.852" stop-color="#0026ff"/><stop offset="0.958" stop-color="#0005ff"/><stop offset="1" stop-color="#0000fc"/></linearGradient><linearGradient id="b136"><stop offset="0" stop-color="#c80000"/><stop offset="0.053" stop-color="#d20000"/><stop offset="0.127" stop-color="#ff0100"/><stop offset="0.212" stop-color="#ff4600"/><stop offset="0.286" stop-color="#ff9300"/><stop offset="0.317" stop-color="#ffd300"/><stop offset="0.349" stop-color="#feff01"/><stop offset="0.397" stop-color="#d7ff28"/><stop offset="0.513" stop-color="#33ffcc"/><stop offset="0.556" stop-color="#00fdff"/><stop offset="0.64" stop-color="#00a7ff"/><stop offset="0.72" stop-color="#0068ff"/><stop offset="0.815" stop-color="#0032ff"/><stop offset="0.926" stop-color="#000bff"/><stop offset="0.995" stop-color="#0000fc"/><stop offset="1" stop-color="#0000fb"/></linearGradient><linearGradient id="b137"><stop offset="0" stop-color="#a60000"/><stop offset="0.048" stop-color="#a90000"/><stop offset="0.111" stop-color="#d50000"/><stop offset="0.159" stop-color="#ff0300"/><stop offset="0.254" stop-color="#ff6c00"/><stop offset="0.291" stop-color="#ff9e00"/><stop offset="0.323" stop-color="#ffde00"/><stop offset="0.344" stop-color="#fffb00"/><stop offset="0.365" stop-color="#edff12"/><stop offset="0.386" stop-color="#d9ff26"/><stop offset="0.492" stop-color="#3fffc0"/><stop offset="0.54" stop-color="#03fffc"/><stop offset="0.635" stop-color="#00a1ff"/><stop offset="0.725" stop-color="#005eff"/><stop offset="0.825" stop-color="#002aff"/><stop offset="0.942" stop-color="#0006ff"/><stop offset="1" stop-color="#0000fb"/></linearGradient><linearGradient id="b138"><stop offset="0" stop-color="#a30000"/><stop offset="0.063" stop-color="#a90000"/><stop offset="0.132" stop-color="#ea0000"/><stop offset="0.153" stop-color="#ff0300"/><stop offset="0.265" stop-color="#ff8f00"/><stop offset="0.344" stop-color="#fdff02"/><stop offset="0.46" stop-color="#53ffac"/><stop offset="0.524" stop-color="#04fffb"/><stop offset="0.545" stop-color="#00ecff"/><stop offset="0.63" stop-color="#009cff"/><stop offset="0.72" stop-color="#005cff"/><stop offset="0.815" stop-color="#002cff"/><stop offset="0.931" stop-color="#0008ff"/><stop offset="0.995" stop-color="#0000fb"/><stop offset="1" stop-color="#0000fa"/></linearGradient><linearGradient id="b139"><stop offset="0" stop-color="#a70000"/><stop offset="0.037" stop-color="#b20000"/><stop offset="0.09" stop-color="#df0000"/><stop offset="0.116" stop-color="#fc0000"/><stop offset="0.169" stop-color="#ff3f00"/><stop offset="0.312" stop-color="#ffff00"/><stop offset="0.444" stop-color="#4cffb3"/><stop offset="0.508" stop-color="#03fffc"/><stop offset="0.614" stop-color="#00a0ff"/><stop offset="0.709" stop-color="#005dff"/><stop offset="0.815" stop-color="#002aff"/><stop offset="0.937" stop-color="#0006ff"/><stop offset="1" stop-color="#0000fa"/></linearGradient><linearGradient id="b140"><stop offset="0" stop-color="#e60000"/><stop offset="0.042" stop-color="#fa0000"/><stop offset="0.063" stop-color="#ff0c00"/><stop offset="0.153" stop-color="#ff7200"/><stop offset="0.27" stop-color="#feff01"/><stop offset="0.429" stop-color="#42ffbd"/><stop offset="0.492" stop-color="#01fffe"/><stop offset="0.614" stop-color="#0098ff"/><stop offset="0.72" stop-color="#0054ff"/><stop offset="0.82" stop-color="#0026ff"/><stop offset="0.952" stop-color="#0003ff"/><stop offset="1" stop-color="#0000fa"/></linearGradient><linearGradient id="b141"><stop offset="0" stop-color="#ff4d00"/><stop offset="0.048" stop-color="#ff6400"/><stop offset="0.153" stop-color="#ffc800"/><stop offset="0.212" stop-color="#fcff03"/><stop offset="0.444" stop-color="#1bffe4"/><stop offset="0.476" stop-color="#00feff"/><stop offset="0.614" stop-color="#0092ff"/><stop offset="0.725" stop-color="#004eff"/><stop offset="0.836" stop-color="#0020ff"/><stop offset="0.968" stop-color="#0000ff"/><stop offset="1" stop-color="#0000fa"/></linearGradient><linearGradient id="b142"><stop offset="0" stop-color="#ffb100"/><stop offset="0.053" stop-color="#ffc700"/><stop offset="0.127" stop-color="#feff01"/><stop offset="0.46" stop-color="#00feff"/><stop offset="0.635" stop-color="#0080ff"/><stop offset="0.741" stop-color="#0045ff"/><stop offset="0.862" stop-color="#0018ff"/><stop offset="0.984" stop-color="#0000fd"/><stop offset="1" stop-color="#0000fb"/></linearGradient><linearGradient id="b143"><stop offset="0" stop-color="#fffe00"/><stop offset="0.048" stop-color="#f0ff0f"/><stop offset="0.206" stop-color="#8eff71"/><stop offset="0.365" stop-color="#35ffca"/><stop offset="0.444" stop-color="#00ffff"/><stop offset="0.646" stop-color="#0077ff"/><stop offset="0.762" stop-color="#003cff"/><stop offset="0.889" stop-color="#0012ff"/><stop offset="0.989" stop-color="#0000fd"/><stop offset="1" stop-color="#0000fb"/></linearGradient><linearGradient id="b144"><stop offset="0" stop-color="#c2ff3d"/><stop offset="0.063" stop-color="#aeff51"/><stop offset="0.19" stop-color="#72ff8d"/><stop offset="0.333" stop-color="#37ffc8"/><stop offset="0.434" stop-color="#00fcff"/><stop offset="0.656" stop-color="#0070ff"/><stop offset="0.778" stop-color="#0037ff"/><stop offset="0.91" stop-color="#000dff"/><stop offset="0.995" stop-color="#0000fc"/><stop offset="1" stop-color="#0000fb"/></linearGradient><linearGradient id="b145"><stop offset="0" stop-color="#9dff62"/><stop offset="0.063" stop-color="#8fff70"/><stop offset="0.196" stop-color="#59ffa6"/><stop offset="0.323" stop-color="#2effd1"/><stop offset="0.418" stop-color="#00fdff"/><stop offset="0.709" stop-color="#0056ff"/><stop offset="0.841" stop-color="#0021ff"/><stop offset="0.979" stop-color="#0000ff"/><stop offset="1" stop-color="#0000fc"/></linearGradient><linearGradient id="b146"><stop offset="0" stop-color="#8fff70"/><stop offset="0.058" stop-color="#82ff7d"/><stop offset="0.19" stop-color="#48ffb7"/><stop offset="0.354" stop-color="#14ffeb"/><stop offset="0.407" stop-color="#00fcff"/><stop offset="0.566" stop-color="#00a8ff"/><stop offset="0.73" stop-color="#004eff"/><stop offset="0.852" stop-color="#001fff"/><stop offset="0.984" stop-color="#0000fe"/><stop offset="1" stop-color="#0000fc"/></linearGradient><linearGradient id="b147"><stop offset="0" stop-color="#7cff83"/><stop offset="0.063" stop-color="#6aff95"/><stop offset="0.18" stop-color="#36ffc9"/><stop offset="0.376" stop-color="#08fff7"/><stop offset="0.413" stop-color="#00faff"/><stop offset="0.529" stop-color="#00c2ff"/><stop offset="0.725" stop-color="#0053ff"/><stop offset="0.847" stop-color="#0022ff"/><stop offset="0.984" stop-color="#0000fe"/><stop offset="1" stop-color="#0000fc"/></linearGradient><linearGradient id="b148"><stop offset="0" stop-color="#60ff9f"/><stop offset="0.069" stop-color="#4dffb2"/><stop offset="0.164" stop-color="#28ffd7"/><stop offset="0.254" stop-color="#1effe1"/><stop offset="0.365" stop-color="#12ffed"/><stop offset="0.429" stop-color="#00fcff"/><stop offset="0.534" stop-color="#00c4ff"/><stop offset="0.704" stop-color="#0060ff"/><stop offset="0.836" stop-color="#0027ff"/><stop offset="0.979" stop-color="#0000ff"/><stop offset="1" stop-color="#0000fb"/></linearGradient><linearGradient id="b149"><stop offset="0" stop-color="#46ffb9"/><stop offset="0.079" stop-color="#36ffc9"/><stop offset="0.169" stop-color="#24ffdb"/><stop offset="0.323" stop-color="#28ffd7"/><stop offset="0.402" stop-color="#14ffeb"/><stop offset="0.45" stop-color="#00fcff"/><stop offset="0.693" stop-color="#0069ff"/><stop offset="0.841" stop-color="#0026ff"/><stop offset="0.974" stop-color="#0000ff"/><stop offset="1" stop-color="#0000fa"/></linearGradient><linearGradient id="b150"><stop offset="0" stop-color="#40ffbf"/><stop offset="0.085" stop-color="#3fffc0"/><stop offset="0.196" stop-color="#3cffc3"/><stop offset="0.296" stop-color="#40ffbf"/><stop offset="0.37" stop-color="#2effd1"/><stop offset="0.46" stop-color="#00fdff"/><stop offset="0.693" stop-color="#006eff"/><stop offset="0.825" stop-color="#002dff"/><stop offset="0.942" stop-color="#0006ff"/><stop offset="0.995" stop-color="#0000fa"/><stop offset="1" stop-color="#0000f9"/></linearGradient><linearGradient id="b151"><stop offset="0" stop-color="#66ff99"/><stop offset="0.074" stop-color="#6aff95"/><stop offset="0.217" stop-color="#5dffa2"/><stop offset="0.302" stop-color="#52ffad"/><stop offset="0.381" stop-color="#33ffcc"/><stop offset="0.476" stop-color="#00fcff"/><stop offset="0.72" stop-color="#0062ff"/><stop offset="0.836" stop-color="#0028ff"/><stop offset="0.947" stop-color="#0003ff"/><stop offset="1" stop-color="#0000f7"/></linearGradient><linearGradient id="b152"><stop offset="0" stop-color="#98ff67"/><stop offset="0.063" stop-color="#98ff67"/><stop offset="0.238" stop-color="#6fff90"/><stop offset="0.339" stop-color="#50ffaf"/><stop offset="0.444" stop-color="#1cffe3"/><stop offset="0.492" stop-color="#00feff"/><stop offset="0.709" stop-color="#0069ff"/><stop offset="0.825" stop-color="#002aff"/><stop offset="0.937" stop-color="#0003ff"/><stop offset="1" stop-color="#0000f5"/></linearGradient><linearGradient id="b153"><stop offset="0" stop-color="#bdff42"/><stop offset="0.053" stop-color="#b9ff46"/><stop offset="0.201" stop-color="#82ff7d"/><stop offset="0.339" stop-color="#61ff9e"/><stop offset="0.418" stop-color="#3effc1"/><stop offset="0.503" stop-color="#05fffa"/><stop offset="0.513" stop-color="#00fbff"/><stop offset="0.693" stop-color="#0073ff"/><stop offset="0.804" stop-color="#0031ff"/><stop offset="0.91" stop-color="#0007ff"/><stop offset="0.963" stop-color="#0000fa"/><stop offset="1" stop-color="#0000f4"/></linearGradient><linearGradient id="b154"><stop offset="0" stop-color="#ccff33"/><stop offset="0.063" stop-color="#bcff43"/><stop offset="0.164" stop-color="#96ff69"/><stop offset="0.312" stop-color="#87ff78"/><stop offset="0.381" stop-color="#6cff93"/><stop offset="0.46" stop-color="#33ffcc"/><stop offset="0.519" stop-color="#00feff"/><stop offset="0.656" stop-color="#008bff"/><stop offset="0.772" stop-color="#003dff"/><stop offset="0.873" stop-color="#000fff"/><stop offset="0.937" stop-color="#0000fd"/><stop offset="1" stop-color="#0000f2"/></linearGradient><linearGradient id="b155"><stop offset="0" stop-color="#c5ff3a"/><stop offset="0.085" stop-color="#bdff42"/><stop offset="0.175" stop-color="#b8ff47"/><stop offset="0.27" stop-color="#b8ff47"/><stop offset="0.323" stop-color="#a8ff57"/><stop offset="0.386" stop-color="#7fff80"/><stop offset="0.524" stop-color="#00fcff"/><stop offset="0.64" stop-color="#0094ff"/><stop offset="0.746" stop-color="#0047ff"/><stop offset="0.841" stop-color="#0016ff"/><stop offset="0.921" stop-color="#0000fd"/><stop offset="1" stop-color="#0000f0"/></linearGradient><linearGradient id="b156"><stop offset="0" stop-color="#e3ff1c"/><stop offset="0.069" stop-color="#f6ff09"/><stop offset="0.164" stop-color="#faff05"/><stop offset="0.249" stop-color="#eaff15"/><stop offset="0.312" stop-color="#c9ff36"/><stop offset="0.392" stop-color="#85ff7a"/><stop offset="0.519" stop-color="#01fffe"/><stop offset="0.64" stop-color="#008dff"/><stop offset="0.741" stop-color="#0043ff"/><stop offset="0.825" stop-color="#0017ff"/><stop offset="0.899" stop-color="#0000ff"/><stop offset="1" stop-color="#0000ef"/></linearGradient><linearGradient id="b157"><stop offset="0" stop-color="#ffbf00"/><stop offset="0.048" stop-color="#ffab00"/><stop offset="0.095" stop-color="#ffab00"/><stop offset="0.169" stop-color="#ffc900"/><stop offset="0.259" stop-color="#feff01"/><stop offset="0.344" stop-color="#b8ff47"/><stop offset="0.487" stop-color="#1fffe0"/><stop offset="0.513" stop-color="#02fffd"/><stop offset="0.64" stop-color="#0084ff"/><stop offset="0.73" stop-color="#0041ff"/><stop offset="0.815" stop-color="#0015ff"/><stop offset="0.889" stop-color="#0000fe"/><stop offset="1" stop-color="#0000ed"/></linearGradient><linearGradient id="b158"><stop offset="0" stop-color="#ff5c00"/><stop offset="0.042" stop-color="#ff5800"/><stop offset="0.09" stop-color="#ff6c00"/><stop offset="0.265" stop-color="#fffc00"/><stop offset="0.302" stop-color="#e3ff1c"/><stop offset="0.386" stop-color="#8dff72"/><stop offset="0.508" stop-color="#00feff"/><stop offset="0.608" stop-color="#0096ff"/><stop offset="0.693" stop-color="#0050ff"/><stop offset="0.783" stop-color="#001dff"/><stop offset="0.868" stop-color="#0000ff"/><stop offset="1" stop-color="#0000ec"/></linearGradient><linearGradient id="b159"><stop offset="0" stop-color="#ff3200"/><stop offset="0.042" stop-color="#ff3b00"/><stop offset="0.095" stop-color="#ff5f00"/><stop offset="0.222" stop-color="#ffd300"/><stop offset="0.275" stop-color="#ffff00"/><stop offset="0.36" stop-color="#a9ff56"/><stop offset="0.497" stop-color="#00ffff"/><stop offset="0.577" stop-color="#00a8ff"/><stop offset="0.661" stop-color="#005eff"/><stop offset="0.735" stop-color="#002dff"/><stop offset="0.831" stop-color="#0006ff"/><stop offset="0.884" stop-color="#0000f9"/><stop offset="1" stop-color="#0000eb"/></linearGradient><linearGradient id="b160"><stop offset="0" stop-color="#ff2c00"/><stop offset="0.048" stop-color="#ff3600"/><stop offset="0.101" stop-color="#ff5800"/><stop offset="0.28" stop-color="#fcff03"/><stop offset="0.365" stop-color="#99ff66"/><stop offset="0.481" stop-color="#03fffc"/><stop offset="0.587" stop-color="#0091ff"/><stop offset="0.672" stop-color="#004dff"/><stop offset="0.767" stop-color="#0018ff"/><stop offset="0.847" stop-color="#0000fe"/><stop offset="0.963" stop-color="#0000ed"/><stop offset="1" stop-color="#0000ea"/></linearGradient><linearGradient id="b161"><stop offset="0" stop-color="#ff1e00"/><stop offset="0.042" stop-color="#ff2100"/><stop offset="0.085" stop-color="#ff3600"/><stop offset="0.143" stop-color="#ff6d00"/><stop offset="0.27" stop-color="#fffe00"/><stop offset="0.36" stop-color="#8dff72"/><stop offset="0.455" stop-color="#11ffee"/><stop offset="0.471" stop-color="#00feff"/><stop offset="0.55" stop-color="#00aaff"/><stop offset="0.646" stop-color="#0059ff"/><stop offset="0.73" stop-color="#0025ff"/><stop offset="0.815" stop-color="#0004ff"/><stop offset="0.878" stop-color="#0000f5"/><stop offset="1" stop-color="#0000ea"/></linearGradient><linearGradient id="b162"><stop offset="0" stop-color="#ff0300"/><stop offset="0.037" stop-color="#ff0600"/><stop offset="0.074" stop-color="#ff1b00"/><stop offset="0.116" stop-color="#ff4700"/><stop offset="0.254" stop-color="#fffe00"/><stop offset="0.429" stop-color="#1dffe2"/><stop offset="0.455" stop-color="#00ffff"/><stop offset="0.571" stop-color="#008eff"/><stop offset="0.672" stop-color="#0042ff"/><stop offset="0.751" stop-color="#0017ff"/><stop offset="0.825" stop-color="#0000fd"/><stop offset="0.952" stop-color="#0000ec"/><stop offset="1" stop-color="#0000e9"/></linearGradient><linearGradient id="b163"><stop offset="0" stop-color="#f30000"/><stop offset="0.037" stop-color="#ff0200"/><stop offset="0.079" stop-color="#ff2800"/><stop offset="0.132" stop-color="#ff7000"/><stop offset="0.228" stop-color="#fffc00"/><stop offset="0.376" stop-color="#46ffb9"/><stop offset="0.444" stop-color="#00fdff"/><stop offset="0.593" stop-color="#0078ff"/><stop offset="0.688" stop-color="#0034ff"/><stop offset="0.767" stop-color="#000dff"/><stop offset="0.82" stop-color="#0000fc"/><stop offset="0.952" stop-color="#0000eb"/><stop offset="1" stop-color="#0000e9"/></linearGradient><linearGradient id="b164"><stop offset="0" stop-color="#ff0900"/><stop offset="0.037" stop-color="#ff1f00"/><stop offset="0.079" stop-color="#ff4d00"/><stop offset="0.196" stop-color="#fffb00"/><stop offset="0.217" stop-color="#e6ff19"/><stop offset="0.302" stop-color="#7eff81"/><stop offset="0.407" stop-color="#16ffe9"/><stop offset="0.434" stop-color="#00feff"/><stop offset="0.63" stop-color="#0058ff"/><stop offset="0.714" stop-color="#0021ff"/><stop offset="0.799" stop-color="#0000ff"/><stop offset="0.915" stop-color="#0000ed"/><stop offset="1" stop-color="#0000e9"/></linearGradient><linearGradient id="b165"><stop offset="0" stop-color="#ff3700"/><stop offset="0.042" stop-color="#ff5800"/><stop offset="0.09" stop-color="#ff9400"/><stop offset="0.159" stop-color="#fffd00"/><stop offset="0.228" stop-color="#aaff55"/><stop offset="0.317" stop-color="#55ffaa"/><stop offset="0.429" stop-color="#00feff"/><stop offset="0.646" stop-color="#0048ff"/><stop offset="0.725" stop-color="#0018ff"/><stop offset="0.794" stop-color="#0000ff"/><stop offset="0.899" stop-color="#0000ee"/><stop offset="1" stop-color="#0000e8"/></linearGradient><linearGradient id="b166"><stop offset="0" stop-color="#ff7500"/><stop offset="0.048" stop-color="#ffa300"/><stop offset="0.116" stop-color="#fdff02"/><stop offset="0.175" stop-color="#b5ff4a"/><stop offset="0.243" stop-color="#78ff87"/><stop offset="0.381" stop-color="#1effe1"/><stop offset="0.429" stop-color="#00fdff"/><stop offset="0.529" stop-color="#00a7ff"/><stop offset="0.646" stop-color="#0044ff"/><stop offset="0.735" stop-color="#0011ff"/><stop offset="0.794" stop-color="#0000fd"/><stop offset="0.91" stop-color="#0000ed"/><stop offset="1" stop-color="#0000e8"/></linearGradient><linearGradient id="b167"><stop offset="0" stop-color="#ffc300"/><stop offset="0.063" stop-color="#fcff03"/><stop offset="0.143" stop-color="#a9ff56"/><stop offset="0.222" stop-color="#6dff92"/><stop offset="0.328" stop-color="#35ffca"/><stop offset="0.407" stop-color="#0cfff3"/><stop offset="0.429" stop-color="#00fcff"/><stop offset="0.513" stop-color="#00b2ff"/><stop offset="0.624" stop-color="#0050ff"/><stop offset="0.709" stop-color="#001bff"/><stop offset="0.783" stop-color="#0000ff"/><stop offset="0.894" stop-color="#0000ee"/><stop offset="1" stop-color="#0000e8"/></linearGradient><linearGradient id="b168"><stop offset="0" stop-color="#f4ff0b"/><stop offset="0.074" stop-color="#c0ff3f"/><stop offset="0.18" stop-color="#6eff91"/><stop offset="0.254" stop-color="#48ffb7"/><stop offset="0.381" stop-color="#1affe5"/><stop offset="0.423" stop-color="#00feff"/><stop offset="0.603" stop-color="#005eff"/><stop offset="0.688" stop-color="#0024ff"/><stop offset="0.767" stop-color="#0003ff"/><stop offset="0.921" stop-color="#0000ec"/><stop offset="1" stop-color="#0000e8"/></linearGradient><linearGradient id="b169"><stop offset="0" stop-color="#caff35"/><stop offset="0.063" stop-color="#a8ff57"/><stop offset="0.164" stop-color="#5effa1"/><stop offset="0.228" stop-color="#42ffbd"/><stop offset="0.36" stop-color="#1fffe0"/><stop offset="0.418" stop-color="#00fcff"/><stop offset="0.603" stop-color="#005bff"/><stop offset="0.693" stop-color="#0021ff"/><stop offset="0.778" stop-color="#0001ff"/><stop offset="0.91" stop-color="#0000ec"/><stop offset="1" stop-color="#0000e8"/></linearGradient><linearGradient id="b170"><stop offset="0" stop-color="#acff53"/><stop offset="0.058" stop-color="#8bff74"/><stop offset="0.138" stop-color="#56ffa9"/><stop offset="0.228" stop-color="#34ffcb"/><stop offset="0.349" stop-color="#19ffe6"/><stop offset="0.402" stop-color="#00feff"/><stop offset="0.476" stop-color="#00c4ff"/><stop offset="0.598" stop-color="#005eff"/><stop offset="0.698" stop-color="#001fff"/><stop offset="0.783" stop-color="#0000ff"/><stop offset="0.899" stop-color="#0000ed"/><stop offset="1" stop-color="#0000e8"/></linearGradient><linearGradient id="b171"><stop offset="0" stop-color="#8aff75"/><stop offset="0.19" stop-color="#2fffd0"/><stop offset="0.28" stop-color="#18ffe7"/><stop offset="0.365" stop-color="#07fff8"/><stop offset="0.397" stop-color="#00f9ff"/><stop offset="0.45" stop-color="#00d6ff"/><stop offset="0.593" stop-color="#0063ff"/><stop offset="0.698" stop-color="#0021ff"/><stop offset="0.783" stop-color="#0000ff"/><stop offset="0.889" stop-color="#0000ed"/><stop offset="1" stop-color="#0000e7"/></linearGradient><linearGradient id="b172"><stop offset="0" stop-color="#72ff8d"/><stop offset="0.063" stop-color="#5effa1"/><stop offset="0.196" stop-color="#14ffeb"/><stop offset="0.254" stop-color="#04fffb"/><stop offset="0.365" stop-color="#02fffd"/><stop offset="0.418" stop-color="#00ebff"/><stop offset="0.593" stop-color="#0067ff"/><stop offset="0.72" stop-color="#0018ff"/><stop offset="0.783" stop-color="#0000ff"/><stop offset="0.884" stop-color="#0000ed"/><stop offset="1" stop-color="#0000e7"/></linearGradient><linearGradient id="b173"><stop offset="0" stop-color="#66ff99"/><stop offset="0.058" stop-color="#4dffb2"/><stop offset="0.164" stop-color="#01fffe"/><stop offset="0.217" stop-color="#00eaff"/><stop offset="0.27" stop-color="#00f0ff"/><stop offset="0.328" stop-color="#01fffe"/><stop offset="0.381" stop-color="#00fbff"/><stop offset="0.444" stop-color="#00d7ff"/><stop offset="0.667" stop-color="#0039ff"/><stop offset="0.751" stop-color="#000aff"/><stop offset="0.794" stop-color="#0000fb"/><stop offset="0.915" stop-color="#0000ea"/><stop offset="1" stop-color="#0000e7"/></linearGradient><linearGradient id="b174"><stop offset="0" stop-color="#50ffaf"/><stop offset="0.053" stop-color="#31ffce"/><stop offset="0.111" stop-color="#00fcff"/><stop offset="0.159" stop-color="#00d9ff"/><stop offset="0.201" stop-color="#00d2ff"/><stop offset="0.254" stop-color="#00e3ff"/><stop offset="0.323" stop-color="#00ffff"/><stop offset="0.376" stop-color="#00fcff"/><stop offset="0.434" stop-color="#00e1ff"/><stop offset="0.714" stop-color="#001cff"/><stop offset="0.778" stop-color="#0000ff"/><stop offset="0.873" stop-color="#0000ed"/><stop offset="1" stop-color="#0000e6"/></linearGradient><linearGradient id="b175"><stop offset="0" stop-color="#2fffd0"/><stop offset="0.048" stop-color="#07fff8"/><stop offset="0.058" stop-color="#00fbff"/><stop offset="0.106" stop-color="#00cfff"/><stop offset="0.148" stop-color="#00bfff"/><stop offset="0.196" stop-color="#00c5ff"/><stop offset="0.312" stop-color="#00fcff"/><stop offset="0.392" stop-color="#00fdff"/><stop offset="0.444" stop-color="#00e3ff"/><stop offset="0.709" stop-color="#001fff"/><stop offset="0.772" stop-color="#0001ff"/><stop offset="0.878" stop-color="#0000ec"/><stop offset="1" stop-color="#0000e6"/></linearGradient><linearGradient id="b176"><stop offset="0" stop-color="#00f8ff"/><stop offset="0.053" stop-color="#00cbff"/><stop offset="0.101" stop-color="#00b7ff"/><stop offset="0.159" stop-color="#00b5ff"/><stop offset="0.212" stop-color="#00c6ff"/><stop offset="0.312" stop-color="#02fffd"/><stop offset="0.36" stop-color="#10ffef"/><stop offset="0.402" stop-color="#08fff7"/><stop offset="0.423" stop-color="#00fcff"/><stop offset="0.704" stop-color="#0022ff"/><stop offset="0.767" stop-color="#0002ff"/><stop offset="0.878" stop-color="#0000eb"/><stop offset="1" stop-color="#0000e5"/></linearGradient><linearGradient id="b177"><stop offset="0" stop-color="#00c3ff"/><stop offset="0.132" stop-color="#00aaff"/><stop offset="0.18" stop-color="#00b1ff"/><stop offset="0.228" stop-color="#00ccff"/><stop offset="0.286" stop-color="#01fffe"/><stop offset="0.328" stop-color="#1effe1"/><stop offset="0.37" stop-color="#22ffdd"/><stop offset="0.413" stop-color="#0efff1"/><stop offset="0.434" stop-color="#00fcff"/><stop offset="0.561" stop-color="#0093ff"/><stop offset="0.704" stop-color="#0021ff"/><stop offset="0.767" stop-color="#0000ff"/><stop offset="0.852" stop-color="#0000ed"/><stop offset="1" stop-color="#0000e5"/></linearGradient><linearGradient id="b178"><stop offset="0" stop-color="#00b8ff"/><stop offset="0.132" stop-color="#009cff"/><stop offset="0.169" stop-color="#00a4ff"/><stop offset="0.212" stop-color="#00c6ff"/><stop offset="0.259" stop-color="#01fffe"/><stop offset="0.302" stop-color="#2affd5"/><stop offset="0.339" stop-color="#37ffc8"/><stop offset="0.376" stop-color="#2dffd2"/><stop offset="0.434" stop-color="#00feff"/><stop offset="0.524" stop-color="#00afff"/><stop offset="0.709" stop-color="#001cff"/><stop offset="0.762" stop-color="#0000ff"/><stop offset="0.841" stop-color="#0000ed"/><stop offset="1" stop-color="#0000e5"/></linearGradient><linearGradient id="b179"><stop offset="0" stop-color="#00aeff"/><stop offset="0.106" stop-color="#008eff"/><stop offset="0.138" stop-color="#0094ff"/><stop offset="0.169" stop-color="#00aeff"/><stop offset="0.233" stop-color="#03fffc"/><stop offset="0.275" stop-color="#32ffcd"/><stop offset="0.307" stop-color="#44ffbb"/><stop offset="0.339" stop-color="#44ffbb"/><stop offset="0.381" stop-color="#2cffd3"/><stop offset="0.429" stop-color="#00ffff"/><stop offset="0.508" stop-color="#00b9ff"/><stop offset="0.63" stop-color="#005aff"/><stop offset="0.714" stop-color="#0016ff"/><stop offset="0.762" stop-color="#0000fd"/><stop offset="0.857" stop-color="#0000ea"/><stop offset="1" stop-color="#0000e4"/></linearGradient><linearGradient id="b180"><stop offset="0" stop-color="#009dff"/><stop offset="0.069" stop-color="#0085ff"/><stop offset="0.101" stop-color="#008bff"/><stop offset="0.138" stop-color="#00aaff"/><stop offset="0.201" stop-color="#00ffff"/><stop offset="0.249" stop-color="#36ffc9"/><stop offset="0.28" stop-color="#4bffb4"/><stop offset="0.312" stop-color="#50ffaf"/><stop offset="0.354" stop-color="#3effc1"/><stop offset="0.423" stop-color="#00fdff"/><stop offset="0.497" stop-color="#00bdff"/><stop offset="0.619" stop-color="#0061ff"/><stop offset="0.704" stop-color="#001aff"/><stop offset="0.751" stop-color="#0000ff"/><stop offset="0.825" stop-color="#0000ed"/><stop offset="1" stop-color="#0000e4"/></linearGradient><linearGradient id="b181"><stop offset="0" stop-color="#0086ff"/><stop offset="0.037" stop-color="#0081ff"/><stop offset="0.069" stop-color="#008fff"/><stop offset="0.116" stop-color="#00beff"/><stop offset="0.169" stop-color="#00feff"/><stop offset="0.228" stop-color="#3bffc4"/><stop offset="0.27" stop-color="#53ffac"/><stop offset="0.307" stop-color="#53ffac"/><stop offset="0.349" stop-color="#3bffc4"/><stop offset="0.413" stop-color="#00feff"/><stop offset="0.487" stop-color="#00bfff"/><stop offset="0.593" stop-color="#0074ff"/><stop offset="0.704" stop-color="#0017ff"/><stop offset="0.746" stop-color="#0000ff"/><stop offset="0.82" stop-color="#0000ec"/><stop offset="1" stop-color="#0000e4"/></linearGradient><linearGradient id="b182"><stop offset="0" stop-color="#0080ff"/><stop offset="0.037" stop-color="#009bff"/><stop offset="0.132" stop-color="#00fcff"/><stop offset="0.222" stop-color="#46ffb9"/><stop offset="0.265" stop-color="#56ffa9"/><stop offset="0.307" stop-color="#4effb1"/><stop offset="0.349" stop-color="#31ffce"/><stop offset="0.402" stop-color="#00fdff"/><stop offset="0.466" stop-color="#00c7ff"/><stop offset="0.582" stop-color="#0078ff"/><stop offset="0.693" stop-color="#001aff"/><stop offset="0.741" stop-color="#0000fe"/><stop offset="0.815" stop-color="#0000ec"/><stop offset="1" stop-color="#0000e3"/></linearGradient><linearGradient id="b183"><stop offset="0" stop-color="#00a6ff"/><stop offset="0.069" stop-color="#00ecff"/><stop offset="0.095" stop-color="#01fffe"/><stop offset="0.206" stop-color="#47ffb8"/><stop offset="0.254" stop-color="#54ffab"/><stop offset="0.291" stop-color="#4dffb2"/><stop offset="0.339" stop-color="#2dffd2"/><stop offset="0.386" stop-color="#00ffff"/><stop offset="0.46" stop-color="#00c2ff"/><stop offset="0.577" stop-color="#0076ff"/><stop offset="0.698" stop-color="#0012ff"/><stop offset="0.735" stop-color="#0000fe"/><stop offset="0.799" stop-color="#0000ed"/><stop offset="0.989" stop-color="#0000e3"/><stop offset="1" stop-color="#0000e3"/></linearGradient><linearGradient id="b184"><stop offset="0" stop-color="#00d9ff"/><stop offset="0.042" stop-color="#00fcff"/><stop offset="0.201" stop-color="#49ffb6"/><stop offset="0.249" stop-color="#4fffb0"/><stop offset="0.291" stop-color="#41ffbe"/><stop offset="0.354" stop-color="#11ffee"/><stop offset="0.376" stop-color="#00fcff"/><stop offset="0.444" stop-color="#00c3ff"/><stop offset="0.571" stop-color="#0073ff"/><stop offset="0.693" stop-color="#0011ff"/><stop offset="0.73" stop-color="#0000fd"/><stop offset="0.804" stop-color="#0000eb"/><stop offset="1" stop-color="#0000e3"/></linearGradient><linearGradient id="b185"><stop offset="0" stop-color="#00feff"/><stop offset="0.058" stop-color="#1cffe3"/><stop offset="0.201" stop-color="#47ffb8"/><stop offset="0.254" stop-color="#45ffba"/><stop offset="0.302" stop-color="#2effd1"/><stop offset="0.36" stop-color="#00fcff"/><stop offset="0.434" stop-color="#00bdff"/><stop offset="0.571" stop-color="#006bff"/><stop offset="0.693" stop-color="#000dff"/><stop offset="0.725" stop-color="#0000fc"/><stop offset="0.799" stop-color="#0000eb"/><stop offset="1" stop-color="#0000e2"/></linearGradient><linearGradient id="b186"><stop offset="0" stop-color="#16ffe9"/><stop offset="0.069" stop-color="#2cffd3"/><stop offset="0.201" stop-color="#41ffbe"/><stop offset="0.254" stop-color="#3affc5"/><stop offset="0.307" stop-color="#1cffe3"/><stop offset="0.339" stop-color="#00ffff"/><stop offset="0.423" stop-color="#00b6ff"/><stop offset="0.577" stop-color="#005eff"/><stop offset="0.688" stop-color="#000cff"/><stop offset="0.72" stop-color="#0000fc"/><stop offset="0.794" stop-color="#0000ea"/><stop offset="1" stop-color="#0000e2"/></linearGradient><linearGradient id="b187"><stop offset="0" stop-color="#25ffda"/><stop offset="0.085" stop-color="#34ffcb"/><stop offset="0.217" stop-color="#39ffc6"/><stop offset="0.259" stop-color="#2cffd3"/><stop offset="0.317" stop-color="#01fffe"/><stop offset="0.413" stop-color="#00adff"/><stop offset="0.497" stop-color="#0081ff"/><stop offset="0.582" stop-color="#0051ff"/><stop offset="0.688" stop-color="#0008ff"/><stop offset="0.709" stop-color="#0000fd"/><stop offset="0.788" stop-color="#0000e9"/><stop offset="1" stop-color="#0000e1"/></linearGradient><linearGradient id="b188"><stop offset="0" stop-color="#2dffd2"/><stop offset="0.063" stop-color="#35ffca"/><stop offset="0.206" stop-color="#32ffcd"/><stop offset="0.254" stop-color="#20ffdf"/><stop offset="0.296" stop-color="#00ffff"/><stop offset="0.392" stop-color="#00abff"/><stop offset="0.46" stop-color="#0084ff"/><stop offset="0.556" stop-color="#0059ff"/><stop offset="0.688" stop-color="#0004ff"/><stop offset="0.73" stop-color="#0000f3"/><stop offset="0.81" stop-color="#0000e6"/><stop offset="1" stop-color="#0000e1"/></linearGradient><linearGradient id="b189"><stop offset="0" stop-color="#32ffcd"/><stop offset="0.069" stop-color="#32ffcd"/><stop offset="0.185" stop-color="#2dffd2"/><stop offset="0.233" stop-color="#1bffe4"/><stop offset="0.27" stop-color="#01fffe"/><stop offset="0.386" stop-color="#009dff"/><stop offset="0.45" stop-color="#007bff"/><stop offset="0.55" stop-color="#0053ff"/><stop offset="0.688" stop-color="#0000ff"/><stop offset="0.757" stop-color="#0000ea"/><stop offset="0.937" stop-color="#0000e2"/><stop offset="1" stop-color="#0000e1"/></linearGradient><linearGradient id="b190"><stop offset="0" stop-color="#33ffcc"/><stop offset="0.148" stop-color="#2cffd3"/><stop offset="0.212" stop-color="#14ffeb"/><stop offset="0.243" stop-color="#00ffff"/><stop offset="0.376" stop-color="#0092ff"/><stop offset="0.439" stop-color="#0072ff"/><stop offset="0.545" stop-color="#004eff"/><stop offset="0.677" stop-color="#0000fe"/><stop offset="0.751" stop-color="#0000e9"/><stop offset="0.963" stop-color="#0000e1"/><stop offset="1" stop-color="#0000e0"/></linearGradient><linearGradient id="b191"><stop offset="0" stop-color="#30ffcf"/><stop offset="0.095" stop-color="#30ffcf"/><stop offset="0.159" stop-color="#1effe1"/><stop offset="0.217" stop-color="#00fcff"/><stop offset="0.365" stop-color="#0088ff"/><stop offset="0.429" stop-color="#006aff"/><stop offset="0.534" stop-color="#004bff"/><stop offset="0.661" stop-color="#0001ff"/><stop offset="0.735" stop-color="#0000ea"/><stop offset="0.91" stop-color="#0000e1"/><stop offset="1" stop-color="#0000e0"/></linearGradient><linearGradient id="b192"><stop offset="0" stop-color="#31ffce"/><stop offset="0.074" stop-color="#31ffce"/><stop offset="0.148" stop-color="#14ffeb"/><stop offset="0.185" stop-color="#00fdff"/><stop offset="0.36" stop-color="#007bff"/><stop offset="0.429" stop-color="#0061ff"/><stop offset="0.513" stop-color="#004bff"/><stop offset="0.587" stop-color="#0023ff"/><stop offset="0.651" stop-color="#0000fe"/><stop offset="0.725" stop-color="#0000e9"/><stop offset="0.905" stop-color="#0000e1"/><stop offset="1" stop-color="#0000e0"/></linearGradient><linearGradient id="b193"><stop offset="0" stop-color="#34ffcb"/><stop offset="0.053" stop-color="#31ffce"/><stop offset="0.116" stop-color="#15ffea"/><stop offset="0.153" stop-color="#00feff"/><stop offset="0.333" stop-color="#007cff"/><stop offset="0.397" stop-color="#0062ff"/><stop offset="0.492" stop-color="#004aff"/><stop offset="0.577" stop-color="#001fff"/><stop offset="0.635" stop-color="#0000ff"/><stop offset="0.709" stop-color="#0000e9"/><stop offset="0.889" stop-color="#0000e1"/><stop offset="1" stop-color="#0000df"/></linearGradient><linearGradient id="b194"><stop offset="0" stop-color="#35ffca"/><stop offset="0.053" stop-color="#29ffd6"/><stop offset="0.127" stop-color="#00fdff"/><stop offset="0.302" stop-color="#0081ff"/><stop offset="0.365" stop-color="#0065ff"/><stop offset="0.471" stop-color="#0048ff"/><stop offset="0.619" stop-color="#0000ff"/><stop offset="0.693" stop-color="#0000ea"/><stop offset="0.847" stop-color="#0000e1"/><stop offset="1" stop-color="#0000df"/></linearGradient><linearGradient id="b195"><stop offset="0" stop-color="#30ffcf"/><stop offset="0.058" stop-color="#1affe5"/><stop offset="0.101" stop-color="#00fdff"/><stop offset="0.254" stop-color="#008fff"/><stop offset="0.317" stop-color="#006fff"/><stop offset="0.439" stop-color="#004bff"/><stop offset="0.598" stop-color="#0001ff"/><stop offset="0.688" stop-color="#0000e8"/><stop offset="0.899" stop-color="#0000e0"/><stop offset="1" stop-color="#0000de"/></linearGradient><linearGradient id="b196"><stop offset="0" stop-color="#27ffd8"/><stop offset="0.053" stop-color="#0efff1"/><stop offset="0.074" stop-color="#00ffff"/><stop offset="0.212" stop-color="#0099ff"/><stop offset="0.286" stop-color="#0075ff"/><stop offset="0.386" stop-color="#0058ff"/><stop offset="0.534" stop-color="#0011ff"/><stop offset="0.587" stop-color="#0000fd"/><stop offset="0.672" stop-color="#0000e8"/><stop offset="0.894" stop-color="#0000df"/><stop offset="1" stop-color="#0000de"/></linearGradient><linearGradient id="b197"><stop offset="0" stop-color="#1cffe3"/><stop offset="0.053" stop-color="#00fdff"/><stop offset="0.185" stop-color="#009aff"/><stop offset="0.254" stop-color="#007bff"/><stop offset="0.339" stop-color="#0065ff"/><stop offset="0.476" stop-color="#001cff"/><stop offset="0.566" stop-color="#0000fd"/><stop offset="0.672" stop-color="#0000e6"/><stop offset="0.968" stop-color="#0000de"/><stop offset="1" stop-color="#0000dd"/></linearGradient><linearGradient id="b198"><stop offset="0" stop-color="#0dfff2"/><stop offset="0.026" stop-color="#00feff"/><stop offset="0.159" stop-color="#009bff"/><stop offset="0.217" stop-color="#0082ff"/><stop offset="0.302" stop-color="#0070ff"/><stop offset="0.365" stop-color="#004cff"/><stop offset="0.439" stop-color="#001eff"/><stop offset="0.534" stop-color="#0000ff"/><stop offset="0.651" stop-color="#0000e7"/><stop offset="0.889" stop-color="#0000de"/><stop offset="1" stop-color="#0000dd"/></linearGradient><linearGradient id="b199"><stop offset="0" stop-color="#00fdff"/><stop offset="0.063" stop-color="#00d1ff"/><stop offset="0.138" stop-color="#009aff"/><stop offset="0.19" stop-color="#0086ff"/><stop offset="0.265" stop-color="#007cff"/><stop offset="0.328" stop-color="#0058ff"/><stop offset="0.397" stop-color="#0025ff"/><stop offset="0.471" stop-color="#0008ff"/><stop offset="0.519" stop-color="#0000fc"/><stop offset="0.651" stop-color="#0000e5"/><stop offset="0.958" stop-color="#0000dd"/><stop offset="1" stop-color="#0000dc"/></linearGradient><linearGradient id="b200"><stop offset="0" stop-color="#00edff"/><stop offset="0.116" stop-color="#009bff"/><stop offset="0.159" stop-color="#008bff"/><stop offset="0.233" stop-color="#0086ff"/><stop offset="0.28" stop-color="#006eff"/><stop offset="0.365" stop-color="#0028ff"/><stop offset="0.429" stop-color="#000bff"/><stop offset="0.487" stop-color="#0000fc"/><stop offset="0.646" stop-color="#0000e4"/><stop offset="1" stop-color="#0000dc"/></linearGradient><linearGradient id="b201"><stop offset="0" stop-color="#00dcff"/><stop offset="0.101" stop-color="#0099ff"/><stop offset="0.143" stop-color="#008fff"/><stop offset="0.206" stop-color="#008eff"/><stop offset="0.249" stop-color="#0079ff"/><stop offset="0.339" stop-color="#0028ff"/><stop offset="0.402" stop-color="#000aff"/><stop offset="0.455" stop-color="#0000fc"/><stop offset="0.635" stop-color="#0000e3"/><stop offset="1" stop-color="#0000db"/></linearGradient><linearGradient id="b202"><stop offset="0" stop-color="#00caff"/><stop offset="0.09" stop-color="#0097ff"/><stop offset="0.138" stop-color="#0097ff"/><stop offset="0.18" stop-color="#0096ff"/><stop offset="0.222" stop-color="#0081ff"/><stop offset="0.307" stop-color="#002eff"/><stop offset="0.365" stop-color="#000eff"/><stop offset="0.418" stop-color="#0000fd"/><stop offset="0.614" stop-color="#0000e3"/><stop offset="0.995" stop-color="#0000db"/><stop offset="1" stop-color="#0000db"/></linearGradient><linearGradient id="b203"><stop offset="0" stop-color="#00bbff"/><stop offset="0.069" stop-color="#009aff"/><stop offset="0.111" stop-color="#009eff"/><stop offset="0.153" stop-color="#009fff"/><stop offset="0.196" stop-color="#0089ff"/><stop offset="0.275" stop-color="#0035ff"/><stop offset="0.333" stop-color="#0011ff"/><stop offset="0.392" stop-color="#0000fd"/><stop offset="0.577" stop-color="#0000e4"/><stop offset="0.841" stop-color="#0000dc"/><stop offset="1" stop-color="#0000da"/></linearGradient><linearGradient id="b204"><stop offset="0" stop-color="#00aeff"/><stop offset="0.048" stop-color="#009dff"/><stop offset="0.122" stop-color="#00a8ff"/><stop offset="0.164" stop-color="#0096ff"/><stop offset="0.196" stop-color="#0075ff"/><stop offset="0.249" stop-color="#0039ff"/><stop offset="0.302" stop-color="#0015ff"/><stop offset="0.365" stop-color="#0000fe"/><stop offset="0.487" stop-color="#0000eb"/><stop offset="0.688" stop-color="#0000dd"/><stop offset="1" stop-color="#0000da"/></linearGradient><linearGradient id="b205"><stop offset="0" stop-color="#00a4ff"/><stop offset="0.032" stop-color="#00a0ff"/><stop offset="0.09" stop-color="#00afff"/><stop offset="0.127" stop-color="#00a5ff"/><stop offset="0.153" stop-color="#0091ff"/><stop offset="0.217" stop-color="#0041ff"/><stop offset="0.27" stop-color="#001aff"/><stop offset="0.339" stop-color="#0000ff"/><stop offset="0.45" stop-color="#0000ed"/><stop offset="0.64" stop-color="#0000dd"/><stop offset="1" stop-color="#0000d9"/></linearGradient><linearGradient id="b206"><stop offset="0" stop-color="#00a0ff"/><stop offset="0.063" stop-color="#00b5ff"/><stop offset="0.101" stop-color="#00aeff"/><stop offset="0.127" stop-color="#009aff"/><stop offset="0.19" stop-color="#0046ff"/><stop offset="0.233" stop-color="#0023ff"/><stop offset="0.307" stop-color="#0002ff"/><stop offset="0.466" stop-color="#0000e9"/><stop offset="0.624" stop-color="#0000dd"/><stop offset="1" stop-color="#0000d8"/></linearGradient><linearGradient id="b207"><stop offset="0" stop-color="#00a7ff"/><stop offset="0.037" stop-color="#00b9ff"/><stop offset="0.074" stop-color="#00b6ff"/><stop offset="0.106" stop-color="#009eff"/><stop offset="0.159" stop-color="#0052ff"/><stop offset="0.201" stop-color="#002aff"/><stop offset="0.27" stop-color="#0007ff"/><stop offset="0.312" stop-color="#0000fb"/><stop offset="0.55" stop-color="#0000de"/><stop offset="1" stop-color="#0000d8"/></linearGradient><linearGradient id="b208"><stop offset="0" stop-color="#00b5ff"/><stop offset="0.032" stop-color="#00beff"/><stop offset="0.063" stop-color="#00b5ff"/><stop offset="0.085" stop-color="#00a2ff"/><stop offset="0.138" stop-color="#0052ff"/><stop offset="0.18" stop-color="#002aff"/><stop offset="0.243" stop-color="#0009ff"/><stop offset="0.286" stop-color="#0000fd"/><stop offset="0.529" stop-color="#0000dd"/><stop offset="1" stop-color="#0000d7"/></linearGradient><linearGradient id="b209"><stop offset="0" stop-color="#00bfff"/><stop offset="0.037" stop-color="#00bcff"/><stop offset="0.058" stop-color="#00acff"/><stop offset="0.116" stop-color="#0053ff"/><stop offset="0.159" stop-color="#002bff"/><stop offset="0.222" stop-color="#0009ff"/><stop offset="0.275" stop-color="#0000fb"/><stop offset="0.429" stop-color="#0000e5"/><stop offset="0.561" stop-color="#0000db"/><stop offset="1" stop-color="#0000d6"/></linearGradient><linearGradient id="b210"><stop offset="0" stop-color="#00c1ff"/><stop offset="0.032" stop-color="#00b5ff"/><stop offset="0.053" stop-color="#0098ff"/><stop offset="0.085" stop-color="#0063ff"/><stop offset="0.122" stop-color="#0039ff"/><stop offset="0.175" stop-color="#0015ff"/><stop offset="0.238" stop-color="#0000ff"/><stop offset="0.392" stop-color="#0000e9"/><stop offset="0.487" stop-color="#0000dc"/><stop offset="1" stop-color="#0000d5"/></linearGradient><linearGradient id="b211"><stop offset="0" stop-color="#00bdff"/><stop offset="0.021" stop-color="#00acff"/><stop offset="0.069" stop-color="#005eff"/><stop offset="0.111" stop-color="#0032ff"/><stop offset="0.164" stop-color="#0011ff"/><stop offset="0.222" stop-color="#0000ff"/><stop offset="0.354" stop-color="#0000ee"/><stop offset="0.45" stop-color="#0000dc"/><stop offset="1" stop-color="#0000d4"/></linearGradient><linearGradient id="b212"><stop offset="0" stop-color="#00afff"/><stop offset="0.048" stop-color="#0061ff"/><stop offset="0.085" stop-color="#0039ff"/><stop offset="0.143" stop-color="#0012ff"/><stop offset="0.201" stop-color="#0001ff"/><stop offset="0.323" stop-color="#0000f3"/><stop offset="0.407" stop-color="#0000de"/><stop offset="0.63" stop-color="#0000d7"/><stop offset="1" stop-color="#0000d4"/></linearGradient><linearGradient id="b213"><stop offset="0" stop-color="#008dff"/><stop offset="0.032" stop-color="#005dff"/><stop offset="0.074" stop-color="#0033ff"/><stop offset="0.132" stop-color="#000fff"/><stop offset="0.19" stop-color="#0000ff"/><stop offset="0.291" stop-color="#0000f8"/><stop offset="0.386" stop-color="#0000dd"/><stop offset="0.619" stop-color="#0000d6"/><stop offset="1" stop-color="#0000d3"/></linearGradient><linearGradient id="b214"><stop offset="0" stop-color="#006dff"/><stop offset="0.042" stop-color="#003eff"/><stop offset="0.106" stop-color="#0013ff"/><stop offset="0.164" stop-color="#0002ff"/><stop offset="0.265" stop-color="#0000fc"/><stop offset="0.36" stop-color="#0000de"/><stop offset="0.513" stop-color="#0000d6"/><stop offset="1" stop-color="#0000d2"/></linearGradient><linearGradient id="b215"><stop offset="0" stop-color="#0056ff"/><stop offset="0.042" stop-color="#0030ff"/><stop offset="0.101" stop-color="#000eff"/><stop offset="0.169" stop-color="#0000fe"/><stop offset="0.254" stop-color="#0000fc"/><stop offset="0.339" stop-color="#0000dd"/><stop offset="0.508" stop-color="#0000d5"/><stop offset="1" stop-color="#0000d1"/></linearGradient><linearGradient id="b216"><stop offset="0" stop-color="#0043ff"/><stop offset="0.074" stop-color="#0013ff"/><stop offset="0.148" stop-color="#0000ff"/><stop offset="0.217" stop-color="#0004ff"/><stop offset="0.249" stop-color="#0000f9"/><stop offset="0.317" stop-color="#0000dd"/><stop offset="0.46" stop-color="#0000d4"/><stop offset="1" stop-color="#0000cf"/></linearGradient><linearGradient id="b217"><stop offset="0" stop-color="#0035ff"/><stop offset="0.069" stop-color="#000eff"/><stop offset="0.138" stop-color="#0001ff"/><stop offset="0.196" stop-color="#0007ff"/><stop offset="0.228" stop-color="#0000fc"/><stop offset="0.296" stop-color="#0000dd"/><stop offset="0.429" stop-color="#0000d3"/><stop offset="1" stop-color="#0000ce"/></linearGradient><linearGradient id="b218"><stop offset="0" stop-color="#0029ff"/><stop offset="0.053" stop-color="#000fff"/><stop offset="0.122" stop-color="#0003ff"/><stop offset="0.175" stop-color="#000aff"/><stop offset="0.212" stop-color="#0000fc"/><stop offset="0.27" stop-color="#0000df"/><stop offset="0.37" stop-color="#0000d3"/><stop offset="1" stop-color="#0000cd"/></linearGradient><linearGradient id="b219"><stop offset="0" stop-color="#001fff"/><stop offset="0.048" stop-color="#000dff"/><stop offset="0.101" stop-color="#0004ff"/><stop offset="0.153" stop-color="#000dff"/><stop offset="0.196" stop-color="#0000fd"/><stop offset="0.249" stop-color="#0000e0"/><stop offset="0.328" stop-color="#0000d3"/><stop offset="1" stop-color="#0000cc"/></linearGradient><linearGradient id="b220"><stop offset="0" stop-color="#0016ff"/><stop offset="0.079" stop-color="#0005ff"/><stop offset="0.138" stop-color="#0010ff"/><stop offset="0.18" stop-color="#0000fd"/><stop offset="0.233" stop-color="#0000de"/><stop offset="0.333" stop-color="#0000d0"/><stop offset="1" stop-color="#0000cb"/></linearGradient><linearGradient id="b221"><stop offset="0" stop-color="#0010ff"/><stop offset="0.063" stop-color="#0006ff"/><stop offset="0.116" stop-color="#0013ff"/><stop offset="0.153" stop-color="#0006ff"/><stop offset="0.169" stop-color="#0000fa"/><stop offset="0.212" stop-color="#0000df"/><stop offset="0.296" stop-color="#0000d0"/><stop offset="1" stop-color="#0000c9"/></linearGradient><linearGradient id="b222"><stop offset="0" stop-color="#000dff"/><stop offset="0.048" stop-color="#0007ff"/><stop offset="0.095" stop-color="#0015ff"/><stop offset="0.127" stop-color="#000dff"/><stop offset="0.153" stop-color="#0000fa"/><stop offset="0.196" stop-color="#0000de"/><stop offset="0.286" stop-color="#0000ce"/><stop offset="1" stop-color="#0000c8"/></linearGradient><linearGradient id="b223"><stop offset="0" stop-color="#000aff"/><stop offset="0.037" stop-color="#0009ff"/><stop offset="0.079" stop-color="#0017ff"/><stop offset="0.111" stop-color="#000eff"/><stop offset="0.138" stop-color="#0000fa"/><stop offset="0.175" stop-color="#0000df"/><stop offset="0.275" stop-color="#0000cc"/><stop offset="1" stop-color="#0000c6"/></linearGradient><linearGradient id="b224"><stop offset="0" stop-color="#0007ff"/><stop offset="0.026" stop-color="#000cff"/><stop offset="0.063" stop-color="#0019ff"/><stop offset="0.095" stop-color="#0010ff"/><stop offset="0.116" stop-color="#0000ff"/><stop offset="0.153" stop-color="#0000e1"/><stop offset="0.217" stop-color="#0000d0"/><stop offset="0.323" stop-color="#0000ca"/><stop offset="1" stop-color="#0000c5"/></linearGradient><linearGradient id="b225"><stop offset="0" stop-color="#0007ff"/><stop offset="0.042" stop-color="#001aff"/><stop offset="0.074" stop-color="#0014ff"/><stop offset="0.101" stop-color="#0000ff"/><stop offset="0.143" stop-color="#0000dd"/><stop offset="0.222" stop-color="#0000cb"/><stop offset="1" stop-color="#0000c3"/></linearGradient><linearGradient id="b226"><stop offset="0" stop-color="#000fff"/><stop offset="0.032" stop-color="#001bff"/><stop offset="0.058" stop-color="#0015ff"/><stop offset="0.085" stop-color="#0001ff"/><stop offset="0.122" stop-color="#0000df"/><stop offset="0.201" stop-color="#0000ca"/><stop offset="0.46" stop-color="#0000c5"/><stop offset="1" stop-color="#0000c1"/></linearGradient><linearGradient id="b227"><stop offset="0" stop-color="#0017ff"/><stop offset="0.032" stop-color="#001aff"/><stop offset="0.063" stop-color="#0007ff"/><stop offset="0.074" stop-color="#0000fb"/><stop offset="0.106" stop-color="#0000df"/><stop offset="0.175" stop-color="#0000ca"/><stop offset="0.286" stop-color="#0000c4"/><stop offset="1" stop-color="#0000c0"/></linearGradient><linearGradient id="b228"><stop offset="0" stop-color="#001bff"/><stop offset="0.026" stop-color="#0017ff"/><stop offset="0.053" stop-color="#0002ff"/><stop offset="0.095" stop-color="#0000db"/><stop offset="0.185" stop-color="#0000c4"/><stop offset="1" stop-color="#0000be"/></linearGradient><linearGradient id="b229"><stop offset="0" stop-color="#001aff"/><stop offset="0.032" stop-color="#0008ff"/><stop offset="0.048" stop-color="#0000f6"/><stop offset="0.079" stop-color="#0000db"/><stop offset="0.164" stop-color="#0000c3"/><stop offset="1" stop-color="#0000bc"/></linearGradient><linearGradient id="b230"><stop offset="0" stop-color="#0014ff"/><stop offset="0.026" stop-color="#0000fd"/><stop offset="0.058" stop-color="#0000dd"/><stop offset="0.132" stop-color="#0000c5"/><stop offset="0.206" stop-color="#0000be"/><stop offset="1" stop-color="#0000ba"/></linearGradient><linearGradient id="b231"><stop offset="0" stop-color="#0008ff"/><stop offset="0.011" stop-color="#0000fd"/><stop offset="0.042" stop-color="#0000dd"/><stop offset="0.116" stop-color="#0000c3"/><stop offset="0.19" stop-color="#0000bc"/><stop offset="1" stop-color="#0000b7"/></linearGradient><linearGradient id="b232"><stop offset="0" stop-color="#0000f6"/><stop offset="0.032" stop-color="#0000d9"/><stop offset="0.127" stop-color="#0000bb"/><stop offset="1" stop-color="#0000b5"/></linearGradient><linearGradient id="b233"><stop offset="0" stop-color="#0000e4"/><stop offset="0.037" stop-color="#0000cf"/><stop offset="0.127" stop-color="#0000b7"/><stop offset="1" stop-color="#0000b3"/></linearGradient><linearGradient id="b234"><stop offset="0" stop-color="#0000d6"/><stop offset="0.106" stop-color="#0000b5"/><stop offset="1" stop-color="#0000b0"/></linearGradient><linearGradient id="b235"><stop offset="0" stop-color="#0000cd"/><stop offset="0.095" stop-color="#0000b2"/><stop offset="1" stop-color="#0000ae"/></linearGradient><linearGradient id="b236"><stop offset="0" stop-color="#0000c6"/><stop offset="0.085" stop-color="#0000af"/><stop offset="1" stop-color="#0000ab"/></linearGradient><linearGradient id="b237"><stop offset="0" stop-color="#0000be"/><stop offset="0.069" stop-color="#0000ac"/><stop offset="1" stop-color="#0000a8"/></linearGradient><linearGradient id="b238"><stop offset="0" stop-color="#0000b7"/><stop offset="0.063" stop-color="#0000a8"/><stop offset="1" stop-color="#0000a5"/></linearGradient><linearGradient id="b239"><stop offset="0" stop-color="#0000af"/><stop offset="0.053" stop-color="#0000a5"/><stop offset="1" stop-color="#0000a2"/></linearGradient><linearGradient id="b240"><stop offset="0" stop-color="#0000a8"/><stop offset="0.048" stop-color="#0000a1"/><stop offset="1" stop-color="#00009e"/></linearGradient><linearGradient id="b241"><stop offset="0" stop-color="#0000a0"/><stop offset="1" stop-color="#00009b"/></linearGradient><linearGradient id="b242"><stop offset="0" stop-color="#00009a"/><stop offset="1" stop-color="#000097"/></linearGradient><linearGradient id="b243"><stop offset="0" stop-color="#000095"/><stop offset="1" stop-color="#000093"/></linearGradient><linearGradient id="b244"><stop offset="0" stop-color="#000091"/><stop offset="1" stop-color="#00008f"/></linearGradient><linearGradient id="b245"><stop offset="0" stop-color="#00008c"/><stop offset="1" stop-color="#00008b"/></linearGradient><linearGradient id="b246"><stop offset="0" stop-color="#000087"/><stop offset="1" stop-color="#000087"/></linearGradient><linearGradient id="b247"><stop offset="0" stop-color="#000082"/><stop offset="1" stop-color="#000082"/></linearGradient></defs>
<g shape-rendering="crispEdges" transform="translate(85.1,0)"><g id="brows"><rect width="378.5" y="608.35" height="1.8" fill="url(#b0)"/><rect width="378.5" y="609.85" height="1.8" fill="url(#b1)"/><rect width="378.5" y="611.35" height="1.8" fill="url(#b2)"/><rect width="378.5" y="612.85" height="1.8" fill="url(#b3)"/><rect width="378.5" y="614.35" height="1.8" fill="url(#b4)"/><rect width="378.5" y="615.84" height="1.8" fill="url(#b5)"/><rect width="378.5" y="617.34" height="1.8" fill="url(#b6)"/><rect width="378.5" y="618.84" height="1.8" fill="url(#b7)"/><rect width="378.5" y="620.34" height="1.8" fill="url(#b8)"/><rect width="378.5" y="621.84" height="1.8" fill="url(#b9)"/><rect width="378.5" y="623.34" height="1.8" fill="url(#b10)"/><rect width="378.5" y="624.84" height="1.8" fill="url(#b11)"/><rect width="378.5" y="626.34" height="1.8" fill="url(#b12)"/><rect width="378.5" y="627.83" height="1.8" fill="url(#b13)"/><rect width="378.5" y="629.33" height="1.8" fill="url(#b14)"/><rect width="378.5" y="630.83" height="1.8" fill="url(#b15)"/><rect width="378.5" y="632.33" height="1.8" fill="url(#b16)"/><rect width="378.5" y="633.83" height="1.8" fill="url(#b17)"/><rect width="378.5" y="635.33" height="1.8" fill="url(#b18)"/><rect width="378.5" y="636.83" height="1.8" fill="url(#b19)"/><rect width="378.5" y="638.33" height="1.8" fill="url(#b20)"/><rect width="378.5" y="639.82" height="1.8" fill="url(#b21)"/><rect width="378.5" y="641.32" height="1.8" fill="url(#b22)"/><rect width="378.5" y="642.82" height="1.8" fill="url(#b23)"/><rect width="378.5" y="644.32" height="1.8" fill="url(#b24)"/><rect width="378.5" y="645.82" height="1.8" fill="url(#b25)"/><rect width="378.5" y="647.32" height="1.8" fill="url(#b26)"/><rect width="378.5" y="648.82" height="1.8" fill="url(#b27)"/><rect width="378.5" y="650.32" height="1.8" fill="url(#b28)"/><rect width="378.5" y="651.81" height="1.8" fill="url(#b29)"/><rect width="378.5" y="653.31" height="1.8" fill="url(#b30)"/><rect width="378.5" y="654.81" height="1.8" fill="url(#b31)"/><rect width="378.5" y="656.31" height="1.8" fill="url(#b32)"/><rect width="378.5" y="657.81" height="1.8" fill="url(#b33)"/><rect width="378.5" y="659.31" height="1.8" fill="url(#b34)"/><rect width="378.5" y="660.81" height="1.8" fill="url(#b35)"/><rect width="378.5" y="662.31" height="1.8" fill="url(#b36)"/><rect width="378.5" y="663.81" height="1.8" fill="url(#b37)"/><rect width="378.5" y="665.3" height="1.8" fill="url(#b38)"/><rect width="378.5" y="666.8" height="1.8" fill="url(#b39)"/><rect width="378.5" y="668.3" height="1.8" fill="url(#b40)"/><rect width="378.5" y="669.8" height="1.8" fill="url(#b41)"/><rect width="378.5" y="671.3" height="1.8" fill="url(#b42)"/><rect width="378.5" y="672.8" height="1.8" fill="url(#b43)"/><rect width="378.5" y="674.3" height="1.8" fill="url(#b44)"/><rect width="378.5" y="675.8" height="1.8" fill="url(#b45)"/><rect width="378.5" y="677.29" height="1.8" fill="url(#b46)"/><rect width="378.5" y="678.79" height="1.8" fill="url(#b47)"/><rect width="378.5" y="680.29" height="1.8" fill="url(#b48)"/><rect width="378.5" y="681.79" height="1.8" fill="url(#b49)"/><rect width="378.5" y="683.29" height="1.8" fill="url(#b50)"/><rect width="378.5" y="684.79" height="1.8" fill="url(#b51)"/><rect width="378.5" y="686.29" height="1.8" fill="url(#b52)"/><rect width="378.5" y="687.79" height="1.8" fill="url(#b53)"/><rect width="378.5" y="689.28" height="1.8" fill="url(#b54)"/><rect width="378.5" y="690.78" height="1.8" fill="url(#b55)"/><rect width="378.5" y="692.28" height="1.8" fill="url(#b56)"/><rect width="378.5" y="693.78" height="1.8" fill="url(#b57)"/><rect width="378.5" y="695.28" height="1.8" fill="url(#b58)"/><rect width="378.5" y="696.78" height="1.8" fill="url(#b59)"/><rect width="378.5" y="698.28" height="1.8" fill="url(#b60)"/><rect width="378.5" y="699.78" height="1.8" fill="url(#b61)"/><rect width="378.5" y="701.27" height="1.8" fill="url(#b62)"/><rect width="378.5" y="702.77" height="1.8" fill="url(#b63)"/><rect width="378.5" y="704.27" height="1.8" fill="url(#b64)"/><rect width="378.5" y="705.77" height="1.8" fill="url(#b65)"/><rect width="378.5" y="707.27" height="1.8" fill="url(#b66)"/><rect width="378.5" y="708.77" height="1.8" fill="url(#b67)"/><rect width="378.5" y="710.27" height="1.8" fill="url(#b68)"/><rect width="378.5" y="711.77" height="1.8" fill="url(#b69)"/><rect width="378.5" y="713.27" height="1.8" fill="url(#b70)"/><rect width="378.5" y="714.76" height="1.8" fill="url(#b71)"/><rect width="378.5" y="716.26" height="1.8" fill="url(#b72)"/><rect width="378.5" y="717.76" height="1.8" fill="url(#b73)"/><rect width="378.5" y="719.26" height="1.8" fill="url(#b74)"/><rect width="378.5" y="720.76" height="1.8" fill="url(#b75)"/><rect width="378.5" y="722.26" height="1.8" fill="url(#b76)"/><rect width="378.5" y="723.76" height="1.8" fill="url(#b77)"/><rect width="378.5" y="725.26" height="1.8" fill="url(#b78)"/><rect width="378.5" y="726.75" height="1.8" fill="url(#b79)"/><rect width="378.5" y="728.25" height="1.8" fill="url(#b80)"/><rect width="378.5" y="729.75" height="1.8" fill="url(#b81)"/><rect width="378.5" y="731.25" height="1.8" fill="url(#b82)"/><rect width="378.5" y="732.75" height="1.8" fill="url(#b83)"/><rect width="378.5" y="734.25" height="1.8" fill="url(#b84)"/><rect width="378.5" y="735.75" height="1.8" fill="url(#b85)"/><rect width="378.5" y="737.25" height="1.8" fill="url(#b86)"/><rect width="378.5" y="738.74" height="1.8" fill="url(#b87)"/><rect width="378.5" y="740.24" height="1.8" fill="url(#b88)"/><rect width="378.5" y="741.74" height="1.8" fill="url(#b89)"/><rect width="378.5" y="743.24" height="1.8" fill="url(#b90)"/><rect width="378.5" y="744.74" height="1.8" fill="url(#b91)"/><rect width="378.5" y="746.24" height="1.8" fill="url(#b92)"/><rect width="378.5" y="747.74" height="1.8" fill="url(#b93)"/><rect width="378.5" y="749.24" height="1.8" fill="url(#b94)"/><rect width="378.5" y="750.74" height="1.8" fill="url(#b95)"/><rect width="378.5" y="752.23" height="1.8" fill="url(#b96)"/><rect width="378.5" y="753.73" height="1.8" fill="url(#b97)"/><rect width="378.5" y="755.23" height="1.8" fill="url(#b98)"/><rect width="378.5" y="756.73" height="1.8" fill="url(#b99)"/><rect width="378.5" y="758.23" height="1.8" fill="url(#b100)"/><rect width="378.5" y="759.73" height="1.8" fill="url(#b101)"/><rect width="378.5" y="761.23" height="1.8" fill="url(#b102)"/><rect width="378.5" y="762.73" height="1.8" fill="url(#b103)"/><rect width="378.5" y="764.22" height="1.8" fill="url(#b104)"/><rect width="378.5" y="765.72" height="1.8" fill="url(#b105)"/><rect width="378.5" y="767.22" height="1.8" fill="url(#b106)"/><rect width="378.5" y="768.72" height="1.8" fill="url(#b107)"/><rect width="378.5" y="770.22" height="1.8" fill="url(#b108)"/><rect width="378.5" y="771.72" height="1.8" fill="url(#b109)"/><rect width="378.5" y="773.22" height="1.8" fill="url(#b110)"/><rect width="378.5" y="774.72" height="1.8" fill="url(#b111)"/><rect width="378.5" y="776.21" height="1.8" fill="url(#b112)"/><rect width="378.5" y="777.71" height="1.8" fill="url(#b113)"/><rect width="378.5" y="779.21" height="1.8" fill="url(#b114)"/><rect width="378.5" y="780.71" height="1.8" fill="url(#b115)"/><rect width="378.5" y="782.21" height="1.8" fill="url(#b116)"/><rect width="378.5" y="783.71" height="1.8" fill="url(#b117)"/><rect width="378.5" y="785.21" height="1.8" fill="url(#b118)"/><rect width="378.5" y="786.71" height="1.8" fill="url(#b119)"/><rect width="378.5" y="788.2" height="1.8" fill="url(#b120)"/><rect width="378.5" y="789.7" height="1.8" fill="url(#b121)"/><rect width="378.5" y="791.2" height="1.8" fill="url(#b122)"/><rect width="378.5" y="792.7" height="1.8" fill="url(#b123)"/><rect width="378.5" y="794.2" height="1.8" fill="url(#b124)"/><rect width="378.5" y="795.7" height="1.8" fill="url(#b125)"/><rect width="378.5" y="797.2" height="1.8" fill="url(#b126)"/><rect width="378.5" y="798.7" height="1.8" fill="url(#b127)"/><rect width="378.5" y="800.2" height="1.8" fill="url(#b128)"/><rect width="378.5" y="801.69" height="1.8" fill="url(#b129)"/><rect width="378.5" y="803.19" height="1.8" fill="url(#b130)"/><rect width="378.5" y="804.69" height="1.8" fill="url(#b131)"/><rect width="378.5" y="806.19" height="1.8" fill="url(#b132)"/><rect width="378.5" y="807.69" height="1.8" fill="url(#b133)"/><rect width="378.5" y="809.19" height="1.8" fill="url(#b134)"/><rect width="378.5" y="810.69" height="1.8" fill="url(#b135)"/><rect width="378.5" y="812.19" height="1.8" fill="url(#b136)"/><rect width="378.5" y="813.68" height="1.8" fill="url(#b137)"/><rect width="378.5" y="815.18" height="1.8" fill="url(#b138)"/><rect width="378.5" y="816.68" height="1.8" fill="url(#b139)"/><rect width="378.5" y="818.18" height="1.8" fill="url(#b140)"/><rect width="378.5" y="819.68" height="1.8" fill="url(#b141)"/><rect width="378.5" y="821.18" height="1.8" fill="url(#b142)"/><rect width="378.5" y="822.68" height="1.8" fill="url(#b143)"/><rect width="378.5" y="824.18" height="1.8" fill="url(#b144)"/><rect width="378.5" y="825.67" height="1.8" fill="url(#b145)"/><rect width="378.5" y="827.17" height="1.8" fill="url(#b146)"/><rect width="378.5" y="828.67" height="1.8" fill="url(#b147)"/><rect width="378.5" y="830.17" height="1.8" fill="url(#b148)"/><rect width="378.5" y="831.67" height="1.8" fill="url(#b149)"/><rect width="378.5" y="833.17" height="1.8" fill="url(#b150)"/><rect width="378.5" y="834.67" height="1.8" fill="url(#b151)"/><rect width="378.5" y="836.17" height="1.8" fill="url(#b152)"/><rect width="378.5" y="837.66" height="1.8" fill="url(#b153)"/><rect width="378.5" y="839.16" height="1.8" fill="url(#b154)"/><rect width="378.5" y="840.66" height="1.8" fill="url(#b155)"/><rect width="378.5" y="842.16" height="1.8" fill="url(#b156)"/><rect width="378.5" y="843.66" height="1.8" fill="url(#b157)"/><rect width="378.5" y="845.16" height="1.8" fill="url(#b158)"/><rect width="378.5" y="846.66" height="1.8" fill="url(#b159)"/><rect width="378.5" y="848.16" height="1.8" fill="url(#b160)"/><rect width="378.5" y="849.66" height="1.8" fill="url(#b161)"/><rect width="378.5" y="851.15" height="1.8" fill="url(#b162)"/><rect width="378.5" y="852.65" height="1.8" fill="url(#b163)"/><rect width="378.5" y="854.15" height="1.8" fill="url(#b164)"/><rect width="378.5" y="855.65" height="1.8" fill="url(#b165)"/><rect width="378.5" y="857.15" height="1.8" fill="url(#b166)"/><rect width="378.5" y="858.65" height="1.8" fill="url(#b167)"/><rect width="378.5" y="860.15" height="1.8" fill="url(#b168)"/><rect width="378.5" y="861.65" height="1.8" fill="url(#b169)"/><rect width="378.5" y="863.14" height="1.8" fill="url(#b170)"/><rect width="378.5" y="864.64" height="1.8" fill="url(#b171)"/><rect width="378.5" y="866.14" height="1.8" fill="url(#b172)"/><rect width="378.5" y="867.64" height="1.8" fill="url(#b173)"/><rect width="378.5" y="869.14" height="1.8" fill="url(#b174)"/><rect width="378.5" y="870.64" height="1.8" fill="url(#b175)"/><rect width="378.5" y="872.14" height="1.8" fill="url(#b176)"/><rect width="378.5" y="873.64" height="1.8" fill="url(#b177)"/><rect width="378.5" y="875.13" height="1.8" fill="url(#b178)"/><rect width="378.5" y="876.63" height="1.8" fill="url(#b179)"/><rect width="378.5" y="878.13" height="1.8" fill="url(#b180)"/><rect width="378.5" y="879.63" height="1.8" fill="url(#b181)"/><rect width="378.5" y="881.13" height="1.8" fill="url(#b182)"/><rect width="378.5" y="882.63" height="1.8" fill="url(#b183)"/><rect width="378.5" y="884.13" height="1.8" fill="url(#b184)"/><rect width="378.5" y="885.63" height="1.8" fill="url(#b185)"/><rect width="378.5" y="887.13" height="1.8" fill="url(#b186)"/><rect width="378.5" y="888.62" height="1.8" fill="url(#b187)"/><rect width="378.5" y="890.12" height="1.8" fill="url(#b188)"/><rect width="378.5" y="891.62" height="1.8" fill="url(#b189)"/><rect width="378.5" y="893.12" height="1.8" fill="url(#b190)"/><rect width="378.5" y="894.62" height="1.8" fill="url(#b191)"/><rect width="378.5" y="896.12" height="1.8" fill="url(#b192)"/><rect width="378.5" y="897.62" height="1.8" fill="url(#b193)"/><rect width="378.5" y="899.12" height="1.8" fill="url(#b194)"/><rect width="378.5" y="900.61" height="1.8" fill="url(#b195)"/><rect width="378.5" y="902.11" height="1.8" fill="url(#b196)"/><rect width="378.5" y="903.61" height="1.8" fill="url(#b197)"/><rect width="378.5" y="905.11" height="1.8" fill="url(#b198)"/><rect width="378.5" y="906.61" height="1.8" fill="url(#b199)"/><rect width="378.5" y="908.11" height="1.8" fill="url(#b200)"/><rect width="378.5" y="909.61" height="1.8" fill="url(#b201)"/><rect width="378.5" y="911.11" height="1.8" fill="url(#b202)"/><rect width="378.5" y="912.6" height="1.8" fill="url(#b203)"/><rect width="378.5" y="914.1" height="1.8" fill="url(#b204)"/><rect width="378.5" y="915.6" height="1.8" fill="url(#b205)"/><rect width="378.5" y="917.1" height="1.8" fill="url(#b206)"/><rect width="378.5" y="918.6" height="1.8" fill="url(#b207)"/><rect width="378.5" y="920.1" height="1.8" fill="url(#b208)"/><rect width="378.5" y="921.6" height="1.8" fill="url(#b209)"/><rect width="378.5" y="923.1" height="1.8" fill="url(#b210)"/><rect width="378.5" y="924.59" height="1.8" fill="url(#b211)"/><rect width="378.5" y="926.09" height="1.8" fill="url(#b212)"/><rect width="378.5" y="927.59" height="1.8" fill="url(#b213)"/><rect width="378.5" y="929.09" height="1.8" fill="url(#b214)"/><rect width="378.5" y="930.59" height="1.8" fill="url(#b215)"/><rect width="378.5" y="932.09" height="1.8" fill="url(#b216)"/><rect width="378.5" y="933.59" height="1.8" fill="url(#b217)"/><rect width="378.5" y="935.09" height="1.8" fill="url(#b218)"/><rect width="378.5" y="936.59" height="1.8" fill="url(#b219)"/><rect width="378.5" y="938.08" height="1.8" fill="url(#b220)"/><rect width="378.5" y="939.58" height="1.8" fill="url(#b221)"/><rect width="378.5" y="941.08" height="1.8" fill="url(#b222)"/><rect width="378.5" y="942.58" height="1.8" fill="url(#b223)"/><rect width="378.5" y="944.08" height="1.8" fill="url(#b224)"/><rect width="378.5" y="945.58" height="1.8" fill="url(#b225)"/><rect width="378.5" y="947.08" height="1.8" fill="url(#b226)"/><rect width="378.5" y="948.58" height="1.8" fill="url(#b227)"/><rect width="378.5" y="950.07" height="1.8" fill="url(#b228)"/><rect width="378.5" y="951.57" height="1.8" fill="url(#b229)"/><rect width="378.5" y="953.07" height="1.8" fill="url(#b230)"/><rect width="378.5" y="954.57" height="1.8" fill="url(#b231)"/><rect width="378.5" y="956.07" height="1.8" fill="url(#b232)"/><rect width="378.5" y="957.57" height="1.8" fill="url(#b233)"/><rect width="378.5" y="959.07" height="1.8" fill="url(#b234)"/><rect width="378.5" y="960.57" height="1.8" fill="url(#b235)"/><rect width="378.5" y="962.06" height="1.8" fill="url(#b236)"/><rect width="378.5" y="963.56" height="1.8" fill="url(#b237)"/><rect width="378.5" y="965.06" height="1.8" fill="url(#b238)"/><rect width="378.5" y="966.56" height="1.8" fill="url(#b239)"/><rect width="378.5" y="968.06" height="1.8" fill="url(#b240)"/><rect width="378.5" y="969.56" height="1.8" fill="url(#b241)"/><rect width="378.5" y="971.06" height="1.8" fill="url(#b242)"/><rect width="378.5" y="972.56" height="1.8" fill="url(#b243)"/><rect width="378.5" y="974.05" height="1.8" fill="url(#b244)"/><rect width="378.5" y="975.55" height="1.8" fill="url(#b245)"/><rect width="378.5" y="977.05" height="1.8" fill="url(#b246)"/><rect width="378.5" y="978.55" height="1.8" fill="url(#b247)"/></g></g>
<rect x="85.1" y="608.5" width="378.5" height="371.70000000000005" fill="none" stroke="#222" stroke-width="1.2"/>
</g><g id="panel-c">
<defs><linearGradient id="c0"><stop offset="0" stop-color="#00e2ff"/><stop offset="0.085" stop-color="#00d2ff"/><stop offset="0.201" stop-color="#00b4ff"/><stop offset="0.439" stop-color="#0093ff"/><stop offset="0.825" stop-color="#002cff"/><stop offset="1" stop-color="#0012ff"/></linearGradient><linearGradient id="c1"><stop offset="0" stop-color="#00f3ff"/><stop offset="0.069" stop-color="#00e6ff"/><stop offset="0.185" stop-color="#00c2ff"/><stop offset="0.455" stop-color="#0095ff"/><stop offset="0.815" stop-color="#0030ff"/><stop offset="0.974" stop-color="#0015ff"/><stop offset="1" stop-color="#0013ff"/></linearGradient><linearGradient id="c2"><stop offset="0" stop-color="#00ffff"/><stop offset="0.063" stop-color="#00f3ff"/><stop offset="0.185" stop-color="#00cbff"/><stop offset="0.45" stop-color="#009cff"/><stop offset="0.82" stop-color="#0030ff"/><stop offset="0.979" stop-color="#0015ff"/><stop offset="1" stop-color="#0013ff"/></linearGradient><linearGradient id="c3"><stop offset="0" stop-color="#05fffa"/><stop offset="0.053" stop-color="#00fbff"/><stop offset="0.196" stop-color="#00ceff"/><stop offset="0.439" stop-color="#00a4ff"/><stop offset="0.815" stop-color="#0033ff"/><stop offset="0.968" stop-color="#0017ff"/><stop offset="1" stop-color="#0014ff"/></linearGradient><linearGradient id="c4"><stop offset="0" stop-color="#09fff6"/><stop offset="0.063" stop-color="#00fcff"/><stop offset="0.19" stop-color="#00d4ff"/><stop offset="0.434" stop-color="#00aaff"/><stop offset="0.704" stop-color="#0055ff"/><stop offset="0.873" stop-color="#0027ff"/><stop offset="1" stop-color="#0014ff"/></linearGradient><linearGradient id="c5"><stop offset="0" stop-color="#0efff1"/><stop offset="0.063" stop-color="#02fffd"/><stop offset="0.201" stop-color="#00d7ff"/><stop offset="0.429" stop-color="#00b0ff"/><stop offset="0.651" stop-color="#006aff"/><stop offset="0.836" stop-color="#0031ff"/><stop offset="0.995" stop-color="#0015ff"/><stop offset="1" stop-color="#0015ff"/></linearGradient><linearGradient id="c6"><stop offset="0" stop-color="#14ffeb"/><stop offset="0.069" stop-color="#07fff8"/><stop offset="0.101" stop-color="#00faff"/><stop offset="0.212" stop-color="#00dcff"/><stop offset="0.418" stop-color="#00b9ff"/><stop offset="0.614" stop-color="#007bff"/><stop offset="0.825" stop-color="#0035ff"/><stop offset="0.995" stop-color="#0016ff"/><stop offset="1" stop-color="#0016ff"/></linearGradient><linearGradient id="c7"><stop offset="0" stop-color="#21ffde"/><stop offset="0.063" stop-color="#15ffea"/><stop offset="0.127" stop-color="#00fdff"/><stop offset="0.233" stop-color="#00e3ff"/><stop offset="0.429" stop-color="#00beff"/><stop offset="0.651" stop-color="#0073ff"/><stop offset="0.82" stop-color="#0039ff"/><stop offset="0.968" stop-color="#001aff"/><stop offset="1" stop-color="#0016ff"/></linearGradient><linearGradient id="c8"><stop offset="0" stop-color="#37ffc8"/><stop offset="0.058" stop-color="#2bffd4"/><stop offset="0.175" stop-color="#00feff"/><stop offset="0.418" stop-color="#00caff"/><stop offset="0.608" stop-color="#0088ff"/><stop offset="0.82" stop-color="#003bff"/><stop offset="0.974" stop-color="#001aff"/><stop offset="1" stop-color="#0017ff"/></linearGradient><linearGradient id="c9"><stop offset="0" stop-color="#4dffb2"/><stop offset="0.053" stop-color="#42ffbd"/><stop offset="0.185" stop-color="#0cfff3"/><stop offset="0.243" stop-color="#00fdff"/><stop offset="0.429" stop-color="#00d0ff"/><stop offset="0.651" stop-color="#007dff"/><stop offset="0.831" stop-color="#003aff"/><stop offset="0.974" stop-color="#001bff"/><stop offset="1" stop-color="#0018ff"/></linearGradient><linearGradient id="c10"><stop offset="0" stop-color="#5cffa3"/><stop offset="0.053" stop-color="#50ffaf"/><stop offset="0.18" stop-color="#19ffe6"/><stop offset="0.291" stop-color="#00fdff"/><stop offset="0.444" stop-color="#00d3ff"/><stop offset="0.646" stop-color="#0084ff"/><stop offset="0.81" stop-color="#0043ff"/><stop offset="0.942" stop-color="#0022ff"/><stop offset="1" stop-color="#0018ff"/></linearGradient><linearGradient id="c11"><stop offset="0" stop-color="#5fffa0"/><stop offset="0.053" stop-color="#54ffab"/><stop offset="0.18" stop-color="#1fffe0"/><stop offset="0.328" stop-color="#00fcff"/><stop offset="0.492" stop-color="#00c8ff"/><stop offset="0.804" stop-color="#0047ff"/><stop offset="0.942" stop-color="#0023ff"/><stop offset="1" stop-color="#0019ff"/></linearGradient><linearGradient id="c12"><stop offset="0" stop-color="#62ff9d"/><stop offset="0.058" stop-color="#56ffa9"/><stop offset="0.175" stop-color="#27ffd8"/><stop offset="0.354" stop-color="#00fcff"/><stop offset="0.524" stop-color="#00c2ff"/><stop offset="0.81" stop-color="#0048ff"/><stop offset="0.942" stop-color="#0024ff"/><stop offset="1" stop-color="#001aff"/></linearGradient><linearGradient id="c13"><stop offset="0" stop-color="#6cff93"/><stop offset="0.058" stop-color="#60ff9f"/><stop offset="0.175" stop-color="#30ffcf"/><stop offset="0.381" stop-color="#00fcff"/><stop offset="0.571" stop-color="#00b4ff"/><stop offset="0.799" stop-color="#004fff"/><stop offset="0.921" stop-color="#002aff"/><stop offset="1" stop-color="#001bff"/></linearGradient><linearGradient id="c14"><stop offset="0" stop-color="#7fff80"/><stop offset="0.053" stop-color="#74ff8b"/><stop offset="0.169" stop-color="#41ffbe"/><stop offset="0.386" stop-color="#06fff9"/><stop offset="0.418" stop-color="#00faff"/><stop offset="0.587" stop-color="#00b4ff"/><stop offset="0.799" stop-color="#0052ff"/><stop offset="0.926" stop-color="#002aff"/><stop offset="1" stop-color="#001cff"/></linearGradient><linearGradient id="c15"><stop offset="0" stop-color="#99ff66"/><stop offset="0.053" stop-color="#8dff72"/><stop offset="0.175" stop-color="#53ffac"/><stop offset="0.386" stop-color="#13ffec"/><stop offset="0.439" stop-color="#00fdff"/><stop offset="0.608" stop-color="#00b1ff"/><stop offset="0.81" stop-color="#0051ff"/><stop offset="0.937" stop-color="#0029ff"/><stop offset="1" stop-color="#001dff"/></linearGradient><linearGradient id="c16"><stop offset="0" stop-color="#b3ff4c"/><stop offset="0.048" stop-color="#a9ff56"/><stop offset="0.18" stop-color="#67ff98"/><stop offset="0.392" stop-color="#1fffe0"/><stop offset="0.471" stop-color="#00fcff"/><stop offset="0.661" stop-color="#009dff"/><stop offset="0.815" stop-color="#0052ff"/><stop offset="0.931" stop-color="#002cff"/><stop offset="1" stop-color="#001eff"/></linearGradient><linearGradient id="c17"><stop offset="0" stop-color="#ceff31"/><stop offset="0.048" stop-color="#c3ff3c"/><stop offset="0.185" stop-color="#7aff85"/><stop offset="0.402" stop-color="#28ffd7"/><stop offset="0.492" stop-color="#00feff"/><stop offset="0.799" stop-color="#005cff"/><stop offset="0.921" stop-color="#0030ff"/><stop offset="1" stop-color="#001fff"/></linearGradient><linearGradient id="c18"><stop offset="0" stop-color="#e7ff18"/><stop offset="0.048" stop-color="#dcff23"/><stop offset="0.185" stop-color="#8eff71"/><stop offset="0.402" stop-color="#34ffcb"/><stop offset="0.513" stop-color="#00fdff"/><stop offset="0.794" stop-color="#0062ff"/><stop offset="0.926" stop-color="#0030ff"/><stop offset="1" stop-color="#0020ff"/></linearGradient><linearGradient id="c19"><stop offset="0" stop-color="#ffff00"/><stop offset="0.048" stop-color="#f2ff0d"/><stop offset="0.185" stop-color="#9fff60"/><stop offset="0.402" stop-color="#3effc1"/><stop offset="0.529" stop-color="#00fcff"/><stop offset="0.804" stop-color="#0060ff"/><stop offset="0.926" stop-color="#0032ff"/><stop offset="1" stop-color="#0020ff"/></linearGradient><linearGradient id="c20"><stop offset="0" stop-color="#fff300"/><stop offset="0.042" stop-color="#fffd00"/><stop offset="0.09" stop-color="#e4ff1b"/><stop offset="0.19" stop-color="#a6ff59"/><stop offset="0.407" stop-color="#43ffbc"/><stop offset="0.54" stop-color="#00fcff"/><stop offset="0.794" stop-color="#0067ff"/><stop offset="0.905" stop-color="#0039ff"/><stop offset="1" stop-color="#0021ff"/></linearGradient><linearGradient id="c21"><stop offset="0" stop-color="#fff100"/><stop offset="0.058" stop-color="#fcff03"/><stop offset="0.185" stop-color="#aeff51"/><stop offset="0.392" stop-color="#50ffaf"/><stop offset="0.545" stop-color="#00fdff"/><stop offset="0.788" stop-color="#006cff"/><stop offset="0.894" stop-color="#003eff"/><stop offset="1" stop-color="#0021ff"/></linearGradient><linearGradient id="c22"><stop offset="0" stop-color="#ffeb00"/><stop offset="0.048" stop-color="#fff700"/><stop offset="0.069" stop-color="#fbff04"/><stop offset="0.18" stop-color="#b5ff4a"/><stop offset="0.397" stop-color="#51ffae"/><stop offset="0.55" stop-color="#00fdff"/><stop offset="0.788" stop-color="#006dff"/><stop offset="0.899" stop-color="#003cff"/><stop offset="1" stop-color="#0022ff"/></linearGradient><linearGradient id="c23"><stop offset="0" stop-color="#ffe500"/><stop offset="0.042" stop-color="#ffef00"/><stop offset="0.074" stop-color="#fdff02"/><stop offset="0.18" stop-color="#b9ff46"/><stop offset="0.407" stop-color="#4dffb2"/><stop offset="0.55" stop-color="#00feff"/><stop offset="0.788" stop-color="#006dff"/><stop offset="0.894" stop-color="#003eff"/><stop offset="1" stop-color="#0022ff"/></linearGradient><linearGradient id="c24"><stop offset="0" stop-color="#ffe400"/><stop offset="0.042" stop-color="#ffef00"/><stop offset="0.074" stop-color="#fdff02"/><stop offset="0.18" stop-color="#b8ff47"/><stop offset="0.402" stop-color="#4fffb0"/><stop offset="0.55" stop-color="#00fcff"/><stop offset="0.783" stop-color="#006fff"/><stop offset="0.899" stop-color="#003cff"/><stop offset="1" stop-color="#0022ff"/></linearGradient><linearGradient id="c25"><stop offset="0" stop-color="#ffed00"/><stop offset="0.042" stop-color="#fff700"/><stop offset="0.063" stop-color="#fbff04"/><stop offset="0.175" stop-color="#b2ff4d"/><stop offset="0.386" stop-color="#52ffad"/><stop offset="0.545" stop-color="#00fcff"/><stop offset="0.788" stop-color="#006bff"/><stop offset="0.91" stop-color="#0038ff"/><stop offset="1" stop-color="#0022ff"/></linearGradient><linearGradient id="c26"><stop offset="0" stop-color="#f8ff07"/><stop offset="0.042" stop-color="#eeff11"/><stop offset="0.175" stop-color="#9fff60"/><stop offset="0.37" stop-color="#50ffaf"/><stop offset="0.534" stop-color="#00fcff"/><stop offset="0.799" stop-color="#0064ff"/><stop offset="0.921" stop-color="#0034ff"/><stop offset="1" stop-color="#0021ff"/></linearGradient><linearGradient id="c27"><stop offset="0" stop-color="#caff35"/><stop offset="0.048" stop-color="#c1ff3e"/><stop offset="0.18" stop-color="#83ff7c"/><stop offset="0.344" stop-color="#4fffb0"/><stop offset="0.519" stop-color="#00feff"/><stop offset="0.804" stop-color="#0060ff"/><stop offset="0.926" stop-color="#0032ff"/><stop offset="1" stop-color="#0021ff"/></linearGradient><linearGradient id="c28"><stop offset="0" stop-color="#b2ff4d"/><stop offset="0.053" stop-color="#a8ff57"/><stop offset="0.169" stop-color="#77ff88"/><stop offset="0.339" stop-color="#48ffb7"/><stop offset="0.513" stop-color="#00fcff"/><stop offset="0.81" stop-color="#005dff"/><stop offset="0.931" stop-color="#0030ff"/><stop offset="1" stop-color="#0021ff"/></linearGradient><linearGradient id="c29"><stop offset="0" stop-color="#bdff42"/><stop offset="0.053" stop-color="#b1ff4e"/><stop offset="0.164" stop-color="#7dff82"/><stop offset="0.36" stop-color="#41ffbe"/><stop offset="0.513" stop-color="#00fcff"/><stop offset="0.804" stop-color="#005fff"/><stop offset="0.931" stop-color="#0030ff"/><stop offset="1" stop-color="#0021ff"/></linearGradient><linearGradient id="c30"><stop offset="0" stop-color="#d7ff28"/><stop offset="0.042" stop-color="#cfff30"/><stop offset="0.18" stop-color="#88ff77"/><stop offset="0.376" stop-color="#42ffbd"/><stop offset="0.519" stop-color="#00fdff"/><stop offset="0.799" stop-color="#0062ff"/><stop offset="0.931" stop-color="#0030ff"/><stop offset="1" stop-color="#0021ff"/></linearGradient><linearGradient id="c31"><stop offset="0" stop-color="#f9ff06"/><stop offset="0.042" stop-color="#f0ff0f"/><stop offset="0.196" stop-color="#97ff68"/><stop offset="0.386" stop-color="#47ffb8"/><stop offset="0.529" stop-color="#00fdff"/><stop offset="0.794" stop-color="#0065ff"/><stop offset="0.91" stop-color="#0036ff"/><stop offset="1" stop-color="#0020ff"/></linearGradient><linearGradient id="c32"><stop offset="0" stop-color="#ffe100"/><stop offset="0.048" stop-color="#fff000"/><stop offset="0.074" stop-color="#feff01"/><stop offset="0.185" stop-color="#b0ff4f"/><stop offset="0.45" stop-color="#2dffd2"/><stop offset="0.534" stop-color="#00fdff"/><stop offset="0.783" stop-color="#006aff"/><stop offset="0.899" stop-color="#003aff"/><stop offset="1" stop-color="#0020ff"/></linearGradient><linearGradient id="c33"><stop offset="0" stop-color="#ffd900"/><stop offset="0.042" stop-color="#ffe500"/><stop offset="0.085" stop-color="#feff01"/><stop offset="0.185" stop-color="#b3ff4c"/><stop offset="0.503" stop-color="#0ffff0"/><stop offset="0.534" stop-color="#00fcff"/><stop offset="0.778" stop-color="#006cff"/><stop offset="0.889" stop-color="#003dff"/><stop offset="1" stop-color="#0020ff"/></linearGradient><linearGradient id="c34"><stop offset="0" stop-color="#fffd00"/><stop offset="0.037" stop-color="#f9ff06"/><stop offset="0.106" stop-color="#ceff31"/><stop offset="0.196" stop-color="#96ff69"/><stop offset="0.444" stop-color="#25ffda"/><stop offset="0.519" stop-color="#00fdff"/><stop offset="0.794" stop-color="#0062ff"/><stop offset="0.926" stop-color="#0030ff"/><stop offset="1" stop-color="#0020ff"/></linearGradient><linearGradient id="c35"><stop offset="0" stop-color="#a9ff56"/><stop offset="0.053" stop-color="#a3ff5c"/><stop offset="0.212" stop-color="#67ff98"/><stop offset="0.386" stop-color="#2fffd0"/><stop offset="0.497" stop-color="#00fdff"/><stop offset="0.799" stop-color="#005dff"/><stop offset="0.915" stop-color="#0032ff"/><stop offset="1" stop-color="#001fff"/></linearGradient><linearGradient id="c36"><stop offset="0" stop-color="#76ff89"/><stop offset="0.063" stop-color="#70ff8f"/><stop offset="0.196" stop-color="#4effb1"/><stop offset="0.354" stop-color="#29ffd6"/><stop offset="0.476" stop-color="#00fcff"/><stop offset="0.667" stop-color="#009dff"/><stop offset="0.815" stop-color="#0054ff"/><stop offset="0.931" stop-color="#002dff"/><stop offset="1" stop-color="#001eff"/></linearGradient><linearGradient id="c37"><stop offset="0" stop-color="#8fff70"/><stop offset="0.058" stop-color="#81ff7e"/><stop offset="0.169" stop-color="#54ffab"/><stop offset="0.392" stop-color="#17ffe8"/><stop offset="0.46" stop-color="#00fcff"/><stop offset="0.614" stop-color="#00b5ff"/><stop offset="0.804" stop-color="#0057ff"/><stop offset="0.921" stop-color="#002fff"/><stop offset="1" stop-color="#001eff"/></linearGradient><linearGradient id="c38"><stop offset="0" stop-color="#a6ff59"/><stop offset="0.053" stop-color="#9aff65"/><stop offset="0.185" stop-color="#5dffa2"/><stop offset="0.444" stop-color="#05fffa"/><stop offset="0.471" stop-color="#00f8ff"/><stop offset="0.667" stop-color="#0098ff"/><stop offset="0.825" stop-color="#004dff"/><stop offset="0.947" stop-color="#0028ff"/><stop offset="1" stop-color="#001eff"/></linearGradient><linearGradient id="c39"><stop offset="0" stop-color="#b1ff4e"/><stop offset="0.053" stop-color="#a6ff59"/><stop offset="0.212" stop-color="#5dffa2"/><stop offset="0.439" stop-color="#0bfff4"/><stop offset="0.471" stop-color="#00fcff"/><stop offset="0.799" stop-color="#0057ff"/><stop offset="0.921" stop-color="#002eff"/><stop offset="1" stop-color="#001dff"/></linearGradient><linearGradient id="c40"><stop offset="0" stop-color="#b1ff4e"/><stop offset="0.058" stop-color="#a6ff59"/><stop offset="0.222" stop-color="#5dffa2"/><stop offset="0.455" stop-color="#07fff8"/><stop offset="0.481" stop-color="#00f9ff"/><stop offset="0.794" stop-color="#0059ff"/><stop offset="0.915" stop-color="#002fff"/><stop offset="1" stop-color="#001dff"/></linearGradient><linearGradient id="c41"><stop offset="0" stop-color="#adff52"/><stop offset="0.058" stop-color="#a2ff5d"/><stop offset="0.243" stop-color="#54ffab"/><stop offset="0.434" stop-color="#12ffed"/><stop offset="0.476" stop-color="#00fdff"/><stop offset="0.788" stop-color="#005bff"/><stop offset="0.915" stop-color="#002eff"/><stop offset="1" stop-color="#001dff"/></linearGradient><linearGradient id="c42"><stop offset="0" stop-color="#a5ff5a"/><stop offset="0.063" stop-color="#99ff66"/><stop offset="0.238" stop-color="#52ffad"/><stop offset="0.434" stop-color="#0ffff0"/><stop offset="0.476" stop-color="#00fbff"/><stop offset="0.783" stop-color="#005cff"/><stop offset="0.905" stop-color="#0030ff"/><stop offset="1" stop-color="#001cff"/></linearGradient><linearGradient id="c43"><stop offset="0" stop-color="#8eff71"/><stop offset="0.079" stop-color="#7fff80"/><stop offset="0.238" stop-color="#44ffbb"/><stop offset="0.429" stop-color="#0bfff4"/><stop offset="0.46" stop-color="#00fcff"/><stop offset="0.778" stop-color="#005cff"/><stop offset="0.894" stop-color="#0032ff"/><stop offset="1" stop-color="#001cff"/></linearGradient><linearGradient id="c44"><stop offset="0" stop-color="#52ffad"/><stop offset="0.069" stop-color="#4effb1"/><stop offset="0.259" stop-color="#24ffdb"/><stop offset="0.407" stop-color="#04fffb"/><stop offset="0.444" stop-color="#00f6ff"/><stop offset="0.593" stop-color="#00b2ff"/><stop offset="0.783" stop-color="#0056ff"/><stop offset="0.91" stop-color="#002cff"/><stop offset="1" stop-color="#001bff"/></linearGradient><linearGradient id="c45"><stop offset="0" stop-color="#00ebff"/><stop offset="0.085" stop-color="#00f6ff"/><stop offset="0.317" stop-color="#00faff"/><stop offset="0.429" stop-color="#00e9ff"/><stop offset="0.571" stop-color="#00b2ff"/><stop offset="0.794" stop-color="#004eff"/><stop offset="0.926" stop-color="#0027ff"/><stop offset="1" stop-color="#001aff"/></linearGradient><linearGradient id="c46"><stop offset="0" stop-color="#00aaff"/><stop offset="0.169" stop-color="#00c3ff"/><stop offset="0.302" stop-color="#00dbff"/><stop offset="0.413" stop-color="#00d8ff"/><stop offset="0.529" stop-color="#00b7ff"/><stop offset="0.81" stop-color="#0045ff"/><stop offset="0.952" stop-color="#0021ff"/><stop offset="1" stop-color="#0019ff"/></linearGradient><linearGradient id="c47"><stop offset="0" stop-color="#00b7ff"/><stop offset="0.138" stop-color="#00b2ff"/><stop offset="0.328" stop-color="#00cdff"/><stop offset="0.429" stop-color="#00c9ff"/><stop offset="0.561" stop-color="#00a3ff"/><stop offset="0.836" stop-color="#003bff"/><stop offset="0.984" stop-color="#001bff"/><stop offset="1" stop-color="#0019ff"/></linearGradient><linearGradient id="c48"><stop offset="0" stop-color="#00eeff"/><stop offset="0.159" stop-color="#00d1ff"/><stop offset="0.381" stop-color="#00d0ff"/><stop offset="0.471" stop-color="#00beff"/><stop offset="0.661" stop-color="#007aff"/><stop offset="0.841" stop-color="#0039ff"/><stop offset="0.995" stop-color="#0019ff"/><stop offset="1" stop-color="#0019ff"/></linearGradient><linearGradient id="c49"><stop offset="0" stop-color="#29ffd6"/><stop offset="0.169" stop-color="#00feff"/><stop offset="0.407" stop-color="#00dbff"/><stop offset="0.603" stop-color="#0095ff"/><stop offset="0.815" stop-color="#0042ff"/><stop offset="0.963" stop-color="#001eff"/><stop offset="1" stop-color="#0019ff"/></linearGradient><linearGradient id="c50"><stop offset="0" stop-color="#5fffa0"/><stop offset="0.116" stop-color="#40ffbf"/><stop offset="0.27" stop-color="#16ffe9"/><stop offset="0.37" stop-color="#00fcff"/><stop offset="0.46" stop-color="#00dcff"/><stop offset="0.794" stop-color="#004cff"/><stop offset="0.926" stop-color="#0026ff"/><stop offset="1" stop-color="#0019ff"/></linearGradient><linearGradient id="c51"><stop offset="0" stop-color="#8dff72"/><stop offset="0.106" stop-color="#73ff8c"/><stop offset="0.434" stop-color="#00feff"/><stop offset="0.762" stop-color="#005dff"/><stop offset="0.884" stop-color="#0032ff"/><stop offset="1" stop-color="#001aff"/></linearGradient><linearGradient id="c52"><stop offset="0" stop-color="#afff50"/><stop offset="0.101" stop-color="#9bff64"/><stop offset="0.407" stop-color="#23ffdc"/><stop offset="0.476" stop-color="#00fcff"/><stop offset="0.757" stop-color="#0065ff"/><stop offset="0.889" stop-color="#0033ff"/><stop offset="1" stop-color="#001bff"/></linearGradient><linearGradient id="c53"><stop offset="0" stop-color="#bfff40"/><stop offset="0.106" stop-color="#b1ff4e"/><stop offset="0.233" stop-color="#84ff7b"/><stop offset="0.413" stop-color="#35ffca"/><stop offset="0.503" stop-color="#00feff"/><stop offset="0.757" stop-color="#006bff"/><stop offset="0.873" stop-color="#003aff"/><stop offset="1" stop-color="#001cff"/></linearGradient><linearGradient id="c54"><stop offset="0" stop-color="#c9ff36"/><stop offset="0.122" stop-color="#bcff43"/><stop offset="0.233" stop-color="#98ff67"/><stop offset="0.402" stop-color="#4cffb3"/><stop offset="0.524" stop-color="#00ffff"/><stop offset="0.757" stop-color="#0071ff"/><stop offset="0.868" stop-color="#003fff"/><stop offset="0.984" stop-color="#0020ff"/><stop offset="1" stop-color="#001dff"/></linearGradient><linearGradient id="c55"><stop offset="0" stop-color="#d4ff2b"/><stop offset="0.132" stop-color="#c6ff39"/><stop offset="0.243" stop-color="#a3ff5c"/><stop offset="0.397" stop-color="#5dffa2"/><stop offset="0.534" stop-color="#06fff9"/><stop offset="0.556" stop-color="#00f7ff"/><stop offset="0.757" stop-color="#0076ff"/><stop offset="0.868" stop-color="#0041ff"/><stop offset="0.989" stop-color="#0020ff"/><stop offset="1" stop-color="#001eff"/></linearGradient><linearGradient id="c56"><stop offset="0" stop-color="#e0ff1f"/><stop offset="0.132" stop-color="#d3ff2c"/><stop offset="0.228" stop-color="#b8ff47"/><stop offset="0.381" stop-color="#72ff8d"/><stop offset="0.492" stop-color="#2effd1"/><stop offset="0.561" stop-color="#00fdff"/><stop offset="0.772" stop-color="#0071ff"/><stop offset="0.884" stop-color="#003eff"/><stop offset="0.995" stop-color="#0020ff"/><stop offset="1" stop-color="#001fff"/></linearGradient><linearGradient id="c57"><stop offset="0" stop-color="#f6ff09"/><stop offset="0.153" stop-color="#e0ff1f"/><stop offset="0.249" stop-color="#c0ff3f"/><stop offset="0.402" stop-color="#73ff8c"/><stop offset="0.566" stop-color="#04fffb"/><stop offset="0.587" stop-color="#00f4ff"/><stop offset="0.762" stop-color="#007cff"/><stop offset="0.868" stop-color="#0046ff"/><stop offset="0.979" stop-color="#0024ff"/><stop offset="1" stop-color="#0020ff"/></linearGradient><linearGradient id="c58"><stop offset="0" stop-color="#ffe800"/><stop offset="0.143" stop-color="#fcff03"/><stop offset="0.254" stop-color="#d2ff2d"/><stop offset="0.423" stop-color="#73ff8c"/><stop offset="0.587" stop-color="#00fdff"/><stop offset="0.762" stop-color="#0080ff"/><stop offset="0.868" stop-color="#0048ff"/><stop offset="0.979" stop-color="#0025ff"/><stop offset="1" stop-color="#0020ff"/></linearGradient><linearGradient id="c59"><stop offset="0" stop-color="#ffc900"/><stop offset="0.127" stop-color="#ffde00"/><stop offset="0.222" stop-color="#fcff03"/><stop offset="0.354" stop-color="#afff50"/><stop offset="0.508" stop-color="#44ffbb"/><stop offset="0.598" stop-color="#00ffff"/><stop offset="0.757" stop-color="#0088ff"/><stop offset="0.862" stop-color="#004dff"/><stop offset="0.968" stop-color="#0028ff"/><stop offset="1" stop-color="#0021ff"/></linearGradient><linearGradient id="c60"><stop offset="0" stop-color="#ffbb00"/><stop offset="0.111" stop-color="#ffbf00"/><stop offset="0.19" stop-color="#ffd600"/><stop offset="0.27" stop-color="#feff01"/><stop offset="0.46" stop-color="#76ff89"/><stop offset="0.608" stop-color="#01fffe"/><stop offset="0.778" stop-color="#007fff"/><stop offset="0.878" stop-color="#0048ff"/><stop offset="0.989" stop-color="#0024ff"/><stop offset="1" stop-color="#0022ff"/></linearGradient><linearGradient id="c61"><stop offset="0" stop-color="#ffb300"/><stop offset="0.132" stop-color="#ffaf00"/><stop offset="0.206" stop-color="#ffc300"/><stop offset="0.291" stop-color="#fff400"/><stop offset="0.312" stop-color="#faff05"/><stop offset="0.508" stop-color="#60ff9f"/><stop offset="0.624" stop-color="#00feff"/><stop offset="0.767" stop-color="#008bff"/><stop offset="0.862" stop-color="#0052ff"/><stop offset="0.963" stop-color="#002cff"/><stop offset="1" stop-color="#0023ff"/></linearGradient><linearGradient id="c62"><stop offset="0" stop-color="#ffa600"/><stop offset="0.143" stop-color="#ff9f00"/><stop offset="0.206" stop-color="#ffae00"/><stop offset="0.275" stop-color="#ffd200"/><stop offset="0.339" stop-color="#fcff03"/><stop offset="0.529" stop-color="#5cffa3"/><stop offset="0.635" stop-color="#00ffff"/><stop offset="0.767" stop-color="#0091ff"/><stop offset="0.852" stop-color="#005aff"/><stop offset="0.952" stop-color="#0030ff"/><stop offset="1" stop-color="#0024ff"/></linearGradient><linearGradient id="c63"><stop offset="0" stop-color="#ff9300"/><stop offset="0.153" stop-color="#ff8b00"/><stop offset="0.217" stop-color="#ff9b00"/><stop offset="0.286" stop-color="#ffc400"/><stop offset="0.36" stop-color="#feff01"/><stop offset="0.614" stop-color="#1effe1"/><stop offset="0.646" stop-color="#01fffe"/><stop offset="0.772" stop-color="#0092ff"/><stop offset="0.857" stop-color="#005aff"/><stop offset="0.952" stop-color="#0032ff"/><stop offset="1" stop-color="#0024ff"/></linearGradient><linearGradient id="c64"><stop offset="0" stop-color="#ff7900"/><stop offset="0.159" stop-color="#ff7100"/><stop offset="0.217" stop-color="#ff8000"/><stop offset="0.286" stop-color="#ffac00"/><stop offset="0.381" stop-color="#feff01"/><stop offset="0.656" stop-color="#00ffff"/><stop offset="0.767" stop-color="#009bff"/><stop offset="0.852" stop-color="#0060ff"/><stop offset="0.947" stop-color="#0034ff"/><stop offset="1" stop-color="#0025ff"/></linearGradient><linearGradient id="c65"><stop offset="0" stop-color="#ff6300"/><stop offset="0.148" stop-color="#ff5100"/><stop offset="0.206" stop-color="#ff5c00"/><stop offset="0.259" stop-color="#ff7b00"/><stop offset="0.344" stop-color="#ffc800"/><stop offset="0.402" stop-color="#fcff03"/><stop offset="0.667" stop-color="#00fcff"/><stop offset="0.772" stop-color="#009bff"/><stop offset="0.857" stop-color="#005fff"/><stop offset="0.947" stop-color="#0035ff"/><stop offset="1" stop-color="#0026ff"/></linearGradient><linearGradient id="c66"><stop offset="0" stop-color="#ff6400"/><stop offset="0.138" stop-color="#ff3700"/><stop offset="0.19" stop-color="#ff3700"/><stop offset="0.238" stop-color="#ff4b00"/><stop offset="0.296" stop-color="#ff7c00"/><stop offset="0.418" stop-color="#ffff00"/><stop offset="0.672" stop-color="#00feff"/><stop offset="0.783" stop-color="#0096ff"/><stop offset="0.862" stop-color="#005eff"/><stop offset="0.952" stop-color="#0034ff"/><stop offset="1" stop-color="#0026ff"/></linearGradient><linearGradient id="c67"><stop offset="0" stop-color="#ff5200"/><stop offset="0.063" stop-color="#ff4500"/><stop offset="0.159" stop-color="#ff2000"/><stop offset="0.206" stop-color="#ff2000"/><stop offset="0.254" stop-color="#ff3800"/><stop offset="0.312" stop-color="#ff7000"/><stop offset="0.434" stop-color="#fffe00"/><stop offset="0.677" stop-color="#00ffff"/><stop offset="0.778" stop-color="#009dff"/><stop offset="0.862" stop-color="#005fff"/><stop offset="0.947" stop-color="#0036ff"/><stop offset="1" stop-color="#0026ff"/></linearGradient><linearGradient id="c68"><stop offset="0" stop-color="#ff3000"/><stop offset="0.074" stop-color="#ff2500"/><stop offset="0.169" stop-color="#ff0700"/><stop offset="0.217" stop-color="#ff0a00"/><stop offset="0.265" stop-color="#ff2500"/><stop offset="0.317" stop-color="#ff5b00"/><stop offset="0.45" stop-color="#fffe00"/><stop offset="0.683" stop-color="#00ffff"/><stop offset="0.778" stop-color="#00a0ff"/><stop offset="0.862" stop-color="#0060ff"/><stop offset="0.942" stop-color="#0039ff"/><stop offset="1" stop-color="#0026ff"/></linearGradient><linearGradient id="c69"><stop offset="0" stop-color="#ff2000"/><stop offset="0.101" stop-color="#fd0000"/><stop offset="0.175" stop-color="#e80000"/><stop offset="0.217" stop-color="#ec0000"/><stop offset="0.254" stop-color="#ff0100"/><stop offset="0.302" stop-color="#ff2d00"/><stop offset="0.455" stop-color="#fff500"/><stop offset="0.466" stop-color="#fcff03"/><stop offset="0.688" stop-color="#00fdff"/><stop offset="0.783" stop-color="#009dff"/><stop offset="0.868" stop-color="#005dff"/><stop offset="0.958" stop-color="#0032ff"/><stop offset="1" stop-color="#0026ff"/></linearGradient><linearGradient id="c70"><stop offset="0" stop-color="#ff3c00"/><stop offset="0.09" stop-color="#fd0000"/><stop offset="0.159" stop-color="#d60000"/><stop offset="0.19" stop-color="#d00000"/><stop offset="0.265" stop-color="#ff0300"/><stop offset="0.328" stop-color="#ff3200"/><stop offset="0.45" stop-color="#ffdf00"/><stop offset="0.476" stop-color="#fdff02"/><stop offset="0.688" stop-color="#01fffe"/><stop offset="0.788" stop-color="#0098ff"/><stop offset="0.873" stop-color="#0059ff"/><stop offset="0.963" stop-color="#0030ff"/><stop offset="1" stop-color="#0025ff"/></linearGradient><linearGradient id="c71"><stop offset="0" stop-color="#ff8700"/><stop offset="0.085" stop-color="#ff2e00"/><stop offset="0.127" stop-color="#ff0000"/><stop offset="0.18" stop-color="#d50000"/><stop offset="0.196" stop-color="#d30000"/><stop offset="0.27" stop-color="#ff0300"/><stop offset="0.349" stop-color="#ff3a00"/><stop offset="0.46" stop-color="#ffdf00"/><stop offset="0.487" stop-color="#fcff03"/><stop offset="0.667" stop-color="#1cffe3"/><stop offset="0.693" stop-color="#00fcff"/><stop offset="0.778" stop-color="#00a2ff"/><stop offset="0.852" stop-color="#0066ff"/><stop offset="0.926" stop-color="#003dff"/><stop offset="1" stop-color="#0024ff"/></linearGradient><linearGradient id="c72"><stop offset="0" stop-color="#ffbb00"/><stop offset="0.048" stop-color="#ff9900"/><stop offset="0.106" stop-color="#ff5700"/><stop offset="0.175" stop-color="#ff0200"/><stop offset="0.212" stop-color="#e40000"/><stop offset="0.233" stop-color="#ec0000"/><stop offset="0.27" stop-color="#ff0400"/><stop offset="0.36" stop-color="#ff3f00"/><stop offset="0.487" stop-color="#fffa00"/><stop offset="0.497" stop-color="#f5ff0a"/><stop offset="0.688" stop-color="#02fffd"/><stop offset="0.783" stop-color="#009bff"/><stop offset="0.857" stop-color="#0060ff"/><stop offset="0.942" stop-color="#0035ff"/><stop offset="1" stop-color="#0023ff"/></linearGradient><linearGradient id="c73"><stop offset="0" stop-color="#ffb700"/><stop offset="0.053" stop-color="#ffa900"/><stop offset="0.106" stop-color="#ff8100"/><stop offset="0.201" stop-color="#ff1900"/><stop offset="0.238" stop-color="#ff0100"/><stop offset="0.259" stop-color="#ff0400"/><stop offset="0.354" stop-color="#ff3e00"/><stop offset="0.492" stop-color="#fdff02"/><stop offset="0.672" stop-color="#10ffef"/><stop offset="0.688" stop-color="#00fcff"/><stop offset="0.772" stop-color="#00a0ff"/><stop offset="0.847" stop-color="#0064ff"/><stop offset="0.921" stop-color="#003bff"/><stop offset="1" stop-color="#0022ff"/></linearGradient><linearGradient id="c74"><stop offset="0" stop-color="#ffad00"/><stop offset="0.079" stop-color="#ff9400"/><stop offset="0.138" stop-color="#ff6d00"/><stop offset="0.217" stop-color="#ff2a00"/><stop offset="0.259" stop-color="#ff1a00"/><stop offset="0.296" stop-color="#ff2000"/><stop offset="0.339" stop-color="#ff4000"/><stop offset="0.392" stop-color="#ff8000"/><stop offset="0.481" stop-color="#fffd00"/><stop offset="0.661" stop-color="#12ffed"/><stop offset="0.677" stop-color="#00feff"/><stop offset="0.762" stop-color="#00a2ff"/><stop offset="0.836" stop-color="#0066ff"/><stop offset="0.915" stop-color="#003aff"/><stop offset="1" stop-color="#0020ff"/></linearGradient><linearGradient id="c75"><stop offset="0" stop-color="#ffc100"/><stop offset="0.074" stop-color="#ff9e00"/><stop offset="0.159" stop-color="#ff6100"/><stop offset="0.222" stop-color="#ff3300"/><stop offset="0.265" stop-color="#ff2800"/><stop offset="0.302" stop-color="#ff3200"/><stop offset="0.344" stop-color="#ff5400"/><stop offset="0.407" stop-color="#ffa500"/><stop offset="0.471" stop-color="#ffff00"/><stop offset="0.614" stop-color="#3affc5"/><stop offset="0.661" stop-color="#01fffe"/><stop offset="0.757" stop-color="#009bff"/><stop offset="0.847" stop-color="#0057ff"/><stop offset="0.937" stop-color="#002eff"/><stop offset="1" stop-color="#001dff"/></linearGradient><linearGradient id="c76"><stop offset="0" stop-color="#ffd500"/><stop offset="0.063" stop-color="#ffbc00"/><stop offset="0.132" stop-color="#ff8b00"/><stop offset="0.217" stop-color="#ff4400"/><stop offset="0.265" stop-color="#ff3200"/><stop offset="0.302" stop-color="#ff3a00"/><stop offset="0.344" stop-color="#ff5b00"/><stop offset="0.402" stop-color="#ffa600"/><stop offset="0.46" stop-color="#ffff00"/><stop offset="0.577" stop-color="#51ffae"/><stop offset="0.64" stop-color="#02fffd"/><stop offset="0.741" stop-color="#009aff"/><stop offset="0.825" stop-color="#005bff"/><stop offset="0.91" stop-color="#0032ff"/><stop offset="1" stop-color="#001bff"/></linearGradient><linearGradient id="c77"><stop offset="0" stop-color="#ffd200"/><stop offset="0.058" stop-color="#ffc900"/><stop offset="0.111" stop-color="#ffaf00"/><stop offset="0.185" stop-color="#ff7500"/><stop offset="0.238" stop-color="#ff4d00"/><stop offset="0.28" stop-color="#ff4200"/><stop offset="0.323" stop-color="#ff5200"/><stop offset="0.365" stop-color="#ff7a00"/><stop offset="0.423" stop-color="#ffcc00"/><stop offset="0.455" stop-color="#feff01"/><stop offset="0.561" stop-color="#4effb1"/><stop offset="0.619" stop-color="#01fffe"/><stop offset="0.704" stop-color="#00a9ff"/><stop offset="0.788" stop-color="#0067ff"/><stop offset="0.873" stop-color="#003aff"/><stop offset="0.979" stop-color="#001cff"/><stop offset="1" stop-color="#0018ff"/></linearGradient><linearGradient id="c78"><stop offset="0" stop-color="#ffc300"/><stop offset="0.079" stop-color="#ffbb00"/><stop offset="0.132" stop-color="#ffa700"/><stop offset="0.243" stop-color="#ff5e00"/><stop offset="0.286" stop-color="#ff5400"/><stop offset="0.328" stop-color="#ff6200"/><stop offset="0.376" stop-color="#ff8f00"/><stop offset="0.429" stop-color="#ffdb00"/><stop offset="0.45" stop-color="#fffe00"/><stop offset="0.561" stop-color="#3cffc3"/><stop offset="0.603" stop-color="#01fffe"/><stop offset="0.677" stop-color="#00b2ff"/><stop offset="0.762" stop-color="#006eff"/><stop offset="0.852" stop-color="#003dff"/><stop offset="0.947" stop-color="#0020ff"/><stop offset="1" stop-color="#0016ff"/></linearGradient><linearGradient id="c79"><stop offset="0" stop-color="#ffb300"/><stop offset="0.079" stop-color="#ffaf00"/><stop offset="0.148" stop-color="#ff9900"/><stop offset="0.249" stop-color="#ff6500"/><stop offset="0.296" stop-color="#ff6000"/><stop offset="0.339" stop-color="#ff7300"/><stop offset="0.381" stop-color="#ff9c00"/><stop offset="0.434" stop-color="#ffe800"/><stop offset="0.45" stop-color="#fcff03"/><stop offset="0.556" stop-color="#3effc1"/><stop offset="0.598" stop-color="#01fffe"/><stop offset="0.672" stop-color="#00b0ff"/><stop offset="0.762" stop-color="#006aff"/><stop offset="0.847" stop-color="#003dff"/><stop offset="0.952" stop-color="#001dff"/><stop offset="1" stop-color="#0015ff"/></linearGradient><linearGradient id="c80"><stop offset="0" stop-color="#ff9400"/><stop offset="0.079" stop-color="#ff9b00"/><stop offset="0.148" stop-color="#ff8d00"/><stop offset="0.259" stop-color="#ff6300"/><stop offset="0.302" stop-color="#ff6400"/><stop offset="0.344" stop-color="#ff7a00"/><stop offset="0.386" stop-color="#ffa400"/><stop offset="0.439" stop-color="#ffee00"/><stop offset="0.45" stop-color="#feff01"/><stop offset="0.561" stop-color="#3effc1"/><stop offset="0.603" stop-color="#02fffd"/><stop offset="0.688" stop-color="#00a9ff"/><stop offset="0.762" stop-color="#006eff"/><stop offset="0.847" stop-color="#003fff"/><stop offset="0.947" stop-color="#001fff"/><stop offset="1" stop-color="#0016ff"/></linearGradient><linearGradient id="c81"><stop offset="0" stop-color="#ff5e00"/><stop offset="0.085" stop-color="#ff7200"/><stop offset="0.153" stop-color="#ff7000"/><stop offset="0.27" stop-color="#ff5a00"/><stop offset="0.317" stop-color="#ff6400"/><stop offset="0.365" stop-color="#ff8600"/><stop offset="0.418" stop-color="#ffc600"/><stop offset="0.455" stop-color="#fffe00"/><stop offset="0.561" stop-color="#51ffae"/><stop offset="0.619" stop-color="#03fffc"/><stop offset="0.714" stop-color="#009fff"/><stop offset="0.799" stop-color="#005fff"/><stop offset="0.884" stop-color="#0035ff"/><stop offset="0.989" stop-color="#0019ff"/><stop offset="1" stop-color="#0017ff"/></linearGradient><linearGradient id="c82"><stop offset="0" stop-color="#ff1c00"/><stop offset="0.116" stop-color="#ff3e00"/><stop offset="0.212" stop-color="#ff4200"/><stop offset="0.286" stop-color="#ff4800"/><stop offset="0.333" stop-color="#ff5e00"/><stop offset="0.381" stop-color="#ff8800"/><stop offset="0.444" stop-color="#ffdc00"/><stop offset="0.466" stop-color="#fffd00"/><stop offset="0.571" stop-color="#5bffa4"/><stop offset="0.64" stop-color="#02fffd"/><stop offset="0.741" stop-color="#0097ff"/><stop offset="0.82" stop-color="#005bff"/><stop offset="0.899" stop-color="#0034ff"/><stop offset="1" stop-color="#0019ff"/></linearGradient><linearGradient id="c83"><stop offset="0" stop-color="#f50000"/><stop offset="0.085" stop-color="#ff0400"/><stop offset="0.275" stop-color="#ff2600"/><stop offset="0.328" stop-color="#ff4100"/><stop offset="0.386" stop-color="#ff7800"/><stop offset="0.455" stop-color="#ffd500"/><stop offset="0.481" stop-color="#fffe00"/><stop offset="0.577" stop-color="#6fff90"/><stop offset="0.661" stop-color="#00feff"/><stop offset="0.735" stop-color="#00abff"/><stop offset="0.81" stop-color="#006bff"/><stop offset="0.899" stop-color="#0038ff"/><stop offset="1" stop-color="#001bff"/></linearGradient><linearGradient id="c84"><stop offset="0" stop-color="#d00000"/><stop offset="0.233" stop-color="#f70000"/><stop offset="0.259" stop-color="#ff0400"/><stop offset="0.36" stop-color="#ff4100"/><stop offset="0.413" stop-color="#ff8000"/><stop offset="0.492" stop-color="#fff400"/><stop offset="0.497" stop-color="#fffd00"/><stop offset="0.635" stop-color="#36ffc9"/><stop offset="0.677" stop-color="#00fdff"/><stop offset="0.762" stop-color="#009dff"/><stop offset="0.831" stop-color="#0063ff"/><stop offset="0.91" stop-color="#0038ff"/><stop offset="1" stop-color="#001dff"/></linearGradient><linearGradient id="c85"><stop offset="0" stop-color="#a60000"/><stop offset="0.079" stop-color="#b20000"/><stop offset="0.18" stop-color="#ca0000"/><stop offset="0.265" stop-color="#ff0200"/><stop offset="0.354" stop-color="#ff3600"/><stop offset="0.386" stop-color="#ff4600"/><stop offset="0.455" stop-color="#ffa300"/><stop offset="0.513" stop-color="#fffd00"/><stop offset="0.667" stop-color="#1bffe4"/><stop offset="0.688" stop-color="#00feff"/><stop offset="0.762" stop-color="#00a6ff"/><stop offset="0.836" stop-color="#0066ff"/><stop offset="0.91" stop-color="#003bff"/><stop offset="1" stop-color="#001eff"/></linearGradient><linearGradient id="c86"><stop offset="0" stop-color="#a10000"/><stop offset="0.111" stop-color="#a90000"/><stop offset="0.18" stop-color="#c30000"/><stop offset="0.27" stop-color="#ff0000"/><stop offset="0.36" stop-color="#ff3400"/><stop offset="0.402" stop-color="#ff4700"/><stop offset="0.471" stop-color="#ffa600"/><stop offset="0.524" stop-color="#fffa00"/><stop offset="0.534" stop-color="#f3ff0c"/><stop offset="0.677" stop-color="#19ffe6"/><stop offset="0.698" stop-color="#00fcff"/><stop offset="0.762" stop-color="#00afff"/><stop offset="0.825" stop-color="#0073ff"/><stop offset="0.899" stop-color="#0043ff"/><stop offset="0.989" stop-color="#0022ff"/><stop offset="1" stop-color="#0020ff"/></linearGradient><linearGradient id="c87"><stop offset="0" stop-color="#a50000"/><stop offset="0.111" stop-color="#a80000"/><stop offset="0.169" stop-color="#bb0000"/><stop offset="0.259" stop-color="#f50000"/><stop offset="0.28" stop-color="#ff0500"/><stop offset="0.381" stop-color="#ff3b00"/><stop offset="0.418" stop-color="#ff4d00"/><stop offset="0.497" stop-color="#ffc000"/><stop offset="0.534" stop-color="#fffc00"/><stop offset="0.577" stop-color="#bfff40"/><stop offset="0.683" stop-color="#1bffe4"/><stop offset="0.704" stop-color="#00fdff"/><stop offset="0.772" stop-color="#00a9ff"/><stop offset="0.841" stop-color="#006bff"/><stop offset="0.915" stop-color="#003eff"/><stop offset="1" stop-color="#0021ff"/></linearGradient><linearGradient id="c88"><stop offset="0" stop-color="#a80000"/><stop offset="0.116" stop-color="#ac0000"/><stop offset="0.175" stop-color="#bf0000"/><stop offset="0.275" stop-color="#ff0100"/><stop offset="0.37" stop-color="#ff3600"/><stop offset="0.418" stop-color="#ff4a00"/><stop offset="0.492" stop-color="#ffb100"/><stop offset="0.54" stop-color="#fffc00"/><stop offset="0.688" stop-color="#1affe5"/><stop offset="0.709" stop-color="#00fbff"/><stop offset="0.778" stop-color="#00a8ff"/><stop offset="0.847" stop-color="#006aff"/><stop offset="0.915" stop-color="#0040ff"/><stop offset="1" stop-color="#0022ff"/></linearGradient><linearGradient id="c89"><stop offset="0" stop-color="#a60000"/><stop offset="0.116" stop-color="#ac0000"/><stop offset="0.185" stop-color="#c60000"/><stop offset="0.275" stop-color="#ff0300"/><stop offset="0.37" stop-color="#ff3700"/><stop offset="0.413" stop-color="#ff4800"/><stop offset="0.492" stop-color="#ffb200"/><stop offset="0.54" stop-color="#fffb00"/><stop offset="0.556" stop-color="#eaff15"/><stop offset="0.683" stop-color="#24ffdb"/><stop offset="0.709" stop-color="#00feff"/><stop offset="0.783" stop-color="#00a5ff"/><stop offset="0.852" stop-color="#0068ff"/><stop offset="0.937" stop-color="#0038ff"/><stop offset="1" stop-color="#0023ff"/></linearGradient><linearGradient id="c90"><stop offset="0" stop-color="#a70000"/><stop offset="0.106" stop-color="#ab0000"/><stop offset="0.164" stop-color="#bc0000"/><stop offset="0.238" stop-color="#e90000"/><stop offset="0.27" stop-color="#ff0000"/><stop offset="0.36" stop-color="#ff3300"/><stop offset="0.407" stop-color="#ff4900"/><stop offset="0.487" stop-color="#ffaf00"/><stop offset="0.54" stop-color="#fffe00"/><stop offset="0.693" stop-color="#16ffe9"/><stop offset="0.709" stop-color="#01fffe"/><stop offset="0.783" stop-color="#00a7ff"/><stop offset="0.847" stop-color="#006eff"/><stop offset="0.921" stop-color="#0040ff"/><stop offset="1" stop-color="#0024ff"/></linearGradient><linearGradient id="c91"><stop offset="0" stop-color="#b60000"/><stop offset="0.127" stop-color="#b10000"/><stop offset="0.19" stop-color="#cb0000"/><stop offset="0.27" stop-color="#ff0200"/><stop offset="0.37" stop-color="#ff3a00"/><stop offset="0.397" stop-color="#ff4500"/><stop offset="0.481" stop-color="#ffaf00"/><stop offset="0.534" stop-color="#fffb00"/><stop offset="0.556" stop-color="#e3ff1c"/><stop offset="0.688" stop-color="#1dffe2"/><stop offset="0.709" stop-color="#00ffff"/><stop offset="0.788" stop-color="#00a2ff"/><stop offset="0.862" stop-color="#0063ff"/><stop offset="0.937" stop-color="#003aff"/><stop offset="1" stop-color="#0024ff"/></linearGradient><linearGradient id="c92"><stop offset="0" stop-color="#b70000"/><stop offset="0.153" stop-color="#bb0000"/><stop offset="0.228" stop-color="#e50000"/><stop offset="0.265" stop-color="#ff0000"/><stop offset="0.36" stop-color="#ff3700"/><stop offset="0.392" stop-color="#ff4700"/><stop offset="0.487" stop-color="#ffbd00"/><stop offset="0.534" stop-color="#fdff02"/><stop offset="0.688" stop-color="#1cffe3"/><stop offset="0.709" stop-color="#00ffff"/><stop offset="0.783" stop-color="#00a8ff"/><stop offset="0.857" stop-color="#0068ff"/><stop offset="0.937" stop-color="#003bff"/><stop offset="1" stop-color="#0025ff"/></linearGradient><linearGradient id="c93"><stop offset="0" stop-color="#b60000"/><stop offset="0.153" stop-color="#bd0000"/><stop offset="0.212" stop-color="#db0000"/><stop offset="0.265" stop-color="#ff0100"/><stop offset="0.36" stop-color="#ff3800"/><stop offset="0.381" stop-color="#ff4300"/><stop offset="0.492" stop-color="#ffcc00"/><stop offset="0.529" stop-color="#feff01"/><stop offset="0.693" stop-color="#13ffec"/><stop offset="0.709" stop-color="#00fdff"/><stop offset="0.788" stop-color="#00a3ff"/><stop offset="0.857" stop-color="#0068ff"/><stop offset="0.942" stop-color="#0039ff"/><stop offset="1" stop-color="#0025ff"/></linearGradient><linearGradient id="c94"><stop offset="0" stop-color="#c50000"/><stop offset="0.148" stop-color="#c50000"/><stop offset="0.185" stop-color="#cd0000"/><stop offset="0.265" stop-color="#ff0200"/><stop offset="0.36" stop-color="#ff3900"/><stop offset="0.381" stop-color="#ff4900"/><stop offset="0.497" stop-color="#ffdb00"/><stop offset="0.524" stop-color="#feff01"/><stop offset="0.688" stop-color="#18ffe7"/><stop offset="0.709" stop-color="#00fcff"/><stop offset="0.783" stop-color="#00a8ff"/><stop offset="0.857" stop-color="#0069ff"/><stop offset="0.931" stop-color="#003eff"/><stop offset="1" stop-color="#0026ff"/></linearGradient><linearGradient id="c95"><stop offset="0" stop-color="#d40000"/><stop offset="0.164" stop-color="#d40000"/><stop offset="0.206" stop-color="#db0000"/><stop offset="0.259" stop-color="#ff0000"/><stop offset="0.37" stop-color="#ff4100"/><stop offset="0.492" stop-color="#ffdd00"/><stop offset="0.519" stop-color="#fdff02"/><stop offset="0.688" stop-color="#15ffea"/><stop offset="0.704" stop-color="#01fffe"/><stop offset="0.788" stop-color="#00a2ff"/><stop offset="0.862" stop-color="#0065ff"/><stop offset="0.947" stop-color="#0038ff"/><stop offset="1" stop-color="#0026ff"/></linearGradient><linearGradient id="c96"><stop offset="0" stop-color="#e00000"/><stop offset="0.196" stop-color="#e20000"/><stop offset="0.228" stop-color="#eb0000"/><stop offset="0.259" stop-color="#ff0000"/><stop offset="0.37" stop-color="#ff4200"/><stop offset="0.508" stop-color="#fffc00"/><stop offset="0.571" stop-color="#abff54"/><stop offset="0.698" stop-color="#04fffb"/><stop offset="0.72" stop-color="#00e9ff"/><stop offset="0.804" stop-color="#0092ff"/><stop offset="0.878" stop-color="#005bff"/><stop offset="0.958" stop-color="#0034ff"/><stop offset="1" stop-color="#0026ff"/></linearGradient><linearGradient id="c97"><stop offset="0" stop-color="#f30000"/><stop offset="0.233" stop-color="#ef0000"/><stop offset="0.265" stop-color="#ff0400"/><stop offset="0.37" stop-color="#ff4100"/><stop offset="0.503" stop-color="#feff01"/><stop offset="0.661" stop-color="#2bffd4"/><stop offset="0.698" stop-color="#00feff"/><stop offset="0.783" stop-color="#00a4ff"/><stop offset="0.857" stop-color="#0068ff"/><stop offset="0.937" stop-color="#003cff"/><stop offset="1" stop-color="#0026ff"/></linearGradient><linearGradient id="c98"><stop offset="0" stop-color="#ff1700"/><stop offset="0.169" stop-color="#ff0900"/><stop offset="0.238" stop-color="#fb0000"/><stop offset="0.259" stop-color="#ff0200"/><stop offset="0.365" stop-color="#ff3d00"/><stop offset="0.429" stop-color="#ff9d00"/><stop offset="0.492" stop-color="#ffff00"/><stop offset="0.614" stop-color="#5dffa2"/><stop offset="0.693" stop-color="#00fdff"/><stop offset="0.783" stop-color="#00a1ff"/><stop offset="0.857" stop-color="#0067ff"/><stop offset="0.931" stop-color="#003eff"/><stop offset="1" stop-color="#0026ff"/></linearGradient><linearGradient id="c99"><stop offset="0" stop-color="#ff4200"/><stop offset="0.143" stop-color="#ff3300"/><stop offset="0.265" stop-color="#ff0d00"/><stop offset="0.291" stop-color="#ff1700"/><stop offset="0.354" stop-color="#ff3b00"/><stop offset="0.402" stop-color="#ff8000"/><stop offset="0.476" stop-color="#fff900"/><stop offset="0.487" stop-color="#f5ff0a"/><stop offset="0.582" stop-color="#77ff88"/><stop offset="0.683" stop-color="#02fffd"/><stop offset="0.788" stop-color="#0098ff"/><stop offset="0.873" stop-color="#005bff"/><stop offset="0.963" stop-color="#0031ff"/><stop offset="1" stop-color="#0026ff"/></linearGradient><linearGradient id="c100"><stop offset="0" stop-color="#ff6c00"/><stop offset="0.132" stop-color="#ff5e00"/><stop offset="0.217" stop-color="#ff3e00"/><stop offset="0.275" stop-color="#ff2900"/><stop offset="0.312" stop-color="#ff3000"/><stop offset="0.344" stop-color="#ff4700"/><stop offset="0.392" stop-color="#ff8600"/><stop offset="0.466" stop-color="#fffe00"/><stop offset="0.54" stop-color="#9aff65"/><stop offset="0.667" stop-color="#09fff6"/><stop offset="0.677" stop-color="#00fdff"/><stop offset="0.788" stop-color="#0094ff"/><stop offset="0.873" stop-color="#0059ff"/><stop offset="0.958" stop-color="#0033ff"/><stop offset="1" stop-color="#0026ff"/></linearGradient><linearGradient id="c101"><stop offset="0" stop-color="#ff9100"/><stop offset="0.132" stop-color="#ff8600"/><stop offset="0.228" stop-color="#ff6200"/><stop offset="0.275" stop-color="#ff5200"/><stop offset="0.317" stop-color="#ff5a00"/><stop offset="0.349" stop-color="#ff7200"/><stop offset="0.392" stop-color="#ffa800"/><stop offset="0.45" stop-color="#fdff02"/><stop offset="0.513" stop-color="#a6ff59"/><stop offset="0.624" stop-color="#2affd5"/><stop offset="0.667" stop-color="#00feff"/><stop offset="0.778" stop-color="#0098ff"/><stop offset="0.868" stop-color="#005aff"/><stop offset="0.963" stop-color="#0030ff"/><stop offset="1" stop-color="#0025ff"/></linearGradient><linearGradient id="c102"><stop offset="0" stop-color="#ffb000"/><stop offset="0.143" stop-color="#ffa700"/><stop offset="0.238" stop-color="#ff8a00"/><stop offset="0.286" stop-color="#ff8200"/><stop offset="0.328" stop-color="#ff9000"/><stop offset="0.376" stop-color="#ffbc00"/><stop offset="0.429" stop-color="#fcff03"/><stop offset="0.503" stop-color="#9dff62"/><stop offset="0.614" stop-color="#28ffd7"/><stop offset="0.656" stop-color="#00feff"/><stop offset="0.767" stop-color="#009cff"/><stop offset="0.857" stop-color="#005eff"/><stop offset="0.942" stop-color="#0036ff"/><stop offset="1" stop-color="#0025ff"/></linearGradient><linearGradient id="c103"><stop offset="0" stop-color="#ffc800"/><stop offset="0.175" stop-color="#ffc300"/><stop offset="0.275" stop-color="#ffb400"/><stop offset="0.317" stop-color="#ffbe00"/><stop offset="0.36" stop-color="#ffdb00"/><stop offset="0.397" stop-color="#feff01"/><stop offset="0.519" stop-color="#77ff88"/><stop offset="0.646" stop-color="#00feff"/><stop offset="0.778" stop-color="#008fff"/><stop offset="0.873" stop-color="#0053ff"/><stop offset="0.974" stop-color="#002bff"/><stop offset="1" stop-color="#0024ff"/></linearGradient><linearGradient id="c104"><stop offset="0" stop-color="#ffdb00"/><stop offset="0.196" stop-color="#ffe300"/><stop offset="0.28" stop-color="#ffe400"/><stop offset="0.339" stop-color="#fffa00"/><stop offset="0.354" stop-color="#faff05"/><stop offset="0.434" stop-color="#b5ff4a"/><stop offset="0.582" stop-color="#2dffd2"/><stop offset="0.635" stop-color="#00feff"/><stop offset="0.778" stop-color="#008cff"/><stop offset="0.873" stop-color="#0052ff"/><stop offset="0.979" stop-color="#0029ff"/><stop offset="1" stop-color="#0024ff"/></linearGradient><linearGradient id="c105"><stop offset="0" stop-color="#fffb00"/><stop offset="0.132" stop-color="#fffe00"/><stop offset="0.275" stop-color="#f4ff0b"/><stop offset="0.349" stop-color="#d8ff27"/><stop offset="0.429" stop-color="#a1ff5e"/><stop offset="0.624" stop-color="#01fffe"/><stop offset="0.799" stop-color="#007bff"/><stop offset="0.905" stop-color="#0042ff"/><stop offset="1" stop-color="#0023ff"/></linearGradient><linearGradient id="c106"><stop offset="0" stop-color="#feff01"/><stop offset="0.116" stop-color="#fbff04"/><stop offset="0.291" stop-color="#daff25"/><stop offset="0.37" stop-color="#b6ff49"/><stop offset="0.481" stop-color="#6aff95"/><stop offset="0.619" stop-color="#00ffff"/><stop offset="0.783" stop-color="#0084ff"/><stop offset="0.889" stop-color="#0049ff"/><stop offset="0.995" stop-color="#0024ff"/><stop offset="1" stop-color="#0023ff"/></linearGradient><linearGradient id="c107"><stop offset="0" stop-color="#ffd200"/><stop offset="0.095" stop-color="#ffe000"/><stop offset="0.19" stop-color="#fdff02"/><stop offset="0.333" stop-color="#c3ff3c"/><stop offset="0.444" stop-color="#7fff80"/><stop offset="0.619" stop-color="#00fcff"/><stop offset="0.783" stop-color="#0083ff"/><stop offset="0.884" stop-color="#004bff"/><stop offset="0.984" stop-color="#0027ff"/><stop offset="1" stop-color="#0023ff"/></linearGradient><linearGradient id="c108"><stop offset="0" stop-color="#ffa400"/><stop offset="0.079" stop-color="#ffb300"/><stop offset="0.153" stop-color="#ffd800"/><stop offset="0.222" stop-color="#feff01"/><stop offset="0.381" stop-color="#a7ff58"/><stop offset="0.561" stop-color="#27ffd8"/><stop offset="0.614" stop-color="#00feff"/><stop offset="0.778" stop-color="#0086ff"/><stop offset="0.889" stop-color="#0048ff"/><stop offset="1" stop-color="#0023ff"/></linearGradient><linearGradient id="c109"><stop offset="0" stop-color="#ff9400"/><stop offset="0.079" stop-color="#ffa400"/><stop offset="0.153" stop-color="#ffcf00"/><stop offset="0.228" stop-color="#feff01"/><stop offset="0.429" stop-color="#84ff7b"/><stop offset="0.608" stop-color="#00ffff"/><stop offset="0.788" stop-color="#007fff"/><stop offset="0.894" stop-color="#0046ff"/><stop offset="1" stop-color="#0023ff"/></linearGradient><linearGradient id="c110"><stop offset="0" stop-color="#ff9a00"/><stop offset="0.074" stop-color="#ffa600"/><stop offset="0.138" stop-color="#ffc800"/><stop offset="0.217" stop-color="#ffff00"/><stop offset="0.45" stop-color="#6fff90"/><stop offset="0.608" stop-color="#00fdff"/><stop offset="0.783" stop-color="#0082ff"/><stop offset="0.894" stop-color="#0046ff"/><stop offset="1" stop-color="#0023ff"/></linearGradient><linearGradient id="c111"><stop offset="0" stop-color="#ff9700"/><stop offset="0.074" stop-color="#ffa500"/><stop offset="0.143" stop-color="#ffcc00"/><stop offset="0.212" stop-color="#ffff00"/><stop offset="0.492" stop-color="#4dffb2"/><stop offset="0.603" stop-color="#00feff"/><stop offset="0.799" stop-color="#0078ff"/><stop offset="0.905" stop-color="#0042ff"/><stop offset="1" stop-color="#0023ff"/></linearGradient><linearGradient id="c112"><stop offset="0" stop-color="#ff9000"/><stop offset="0.069" stop-color="#ff9e00"/><stop offset="0.127" stop-color="#ffbf00"/><stop offset="0.212" stop-color="#feff01"/><stop offset="0.524" stop-color="#35ffca"/><stop offset="0.603" stop-color="#00fdff"/><stop offset="0.799" stop-color="#0079ff"/><stop offset="0.905" stop-color="#0042ff"/><stop offset="1" stop-color="#0023ff"/></linearGradient><linearGradient id="c113"><stop offset="0" stop-color="#ff9400"/><stop offset="0.074" stop-color="#ffa200"/><stop offset="0.132" stop-color="#ffc300"/><stop offset="0.212" stop-color="#ffff00"/><stop offset="0.545" stop-color="#27ffd8"/><stop offset="0.603" stop-color="#00feff"/><stop offset="0.804" stop-color="#0077ff"/><stop offset="0.91" stop-color="#0041ff"/><stop offset="1" stop-color="#0023ff"/></linearGradient><linearGradient id="c114"><stop offset="0" stop-color="#ff9200"/><stop offset="0.074" stop-color="#ffa000"/><stop offset="0.143" stop-color="#ffc700"/><stop offset="0.217" stop-color="#fffe00"/><stop offset="0.577" stop-color="#13ffec"/><stop offset="0.608" stop-color="#00fcff"/><stop offset="0.81" stop-color="#0076ff"/><stop offset="0.915" stop-color="#0040ff"/><stop offset="1" stop-color="#0024ff"/></linearGradient><linearGradient id="c115"><stop offset="0" stop-color="#ff8c00"/><stop offset="0.069" stop-color="#ff9a00"/><stop offset="0.143" stop-color="#ffc400"/><stop offset="0.228" stop-color="#fcff03"/><stop offset="0.608" stop-color="#00ffff"/><stop offset="0.82" stop-color="#0072ff"/><stop offset="0.921" stop-color="#003fff"/><stop offset="1" stop-color="#0024ff"/></linearGradient><linearGradient id="c116"><stop offset="0" stop-color="#ff9c00"/><stop offset="0.074" stop-color="#ffaa00"/><stop offset="0.148" stop-color="#ffd000"/><stop offset="0.222" stop-color="#fdff02"/><stop offset="0.582" stop-color="#14ffeb"/><stop offset="0.614" stop-color="#00feff"/><stop offset="0.836" stop-color="#006aff"/><stop offset="0.942" stop-color="#0038ff"/><stop offset="1" stop-color="#0025ff"/></linearGradient><linearGradient id="c117"><stop offset="0" stop-color="#ffba00"/><stop offset="0.079" stop-color="#ffc400"/><stop offset="0.153" stop-color="#ffe300"/><stop offset="0.206" stop-color="#feff01"/><stop offset="0.476" stop-color="#5bffa4"/><stop offset="0.614" stop-color="#00ffff"/><stop offset="0.841" stop-color="#0069ff"/><stop offset="0.947" stop-color="#0036ff"/><stop offset="1" stop-color="#0025ff"/></linearGradient><linearGradient id="c118"><stop offset="0" stop-color="#ffc500"/><stop offset="0.079" stop-color="#ffcf00"/><stop offset="0.153" stop-color="#ffea00"/><stop offset="0.201" stop-color="#fcff03"/><stop offset="0.423" stop-color="#7cff83"/><stop offset="0.619" stop-color="#00fdff"/><stop offset="0.847" stop-color="#0067ff"/><stop offset="0.952" stop-color="#0035ff"/><stop offset="1" stop-color="#0026ff"/></linearGradient><linearGradient id="c119"><stop offset="0" stop-color="#ffc500"/><stop offset="0.085" stop-color="#ffd100"/><stop offset="0.185" stop-color="#fffc00"/><stop offset="0.238" stop-color="#e6ff19"/><stop offset="0.481" stop-color="#56ffa9"/><stop offset="0.619" stop-color="#00fcff"/><stop offset="0.847" stop-color="#0068ff"/><stop offset="0.947" stop-color="#0037ff"/><stop offset="1" stop-color="#0026ff"/></linearGradient><linearGradient id="c120"><stop offset="0" stop-color="#ffcd00"/><stop offset="0.095" stop-color="#ffdf00"/><stop offset="0.175" stop-color="#feff01"/><stop offset="0.354" stop-color="#9eff61"/><stop offset="0.614" stop-color="#00ffff"/><stop offset="0.852" stop-color="#0065ff"/><stop offset="0.958" stop-color="#0033ff"/><stop offset="1" stop-color="#0026ff"/></linearGradient><linearGradient id="c121"><stop offset="0" stop-color="#ffed00"/><stop offset="0.085" stop-color="#fff700"/><stop offset="0.127" stop-color="#fbff04"/><stop offset="0.275" stop-color="#beff41"/><stop offset="0.508" stop-color="#3effc1"/><stop offset="0.614" stop-color="#00fcff"/><stop offset="0.868" stop-color="#005cff"/><stop offset="0.968" stop-color="#002fff"/><stop offset="1" stop-color="#0026ff"/></linearGradient><linearGradient id="c122"><stop offset="0" stop-color="#f4ff0b"/><stop offset="0.095" stop-color="#ebff14"/><stop offset="0.222" stop-color="#c7ff38"/><stop offset="0.36" stop-color="#89ff76"/><stop offset="0.608" stop-color="#00feff"/><stop offset="0.868" stop-color="#005cff"/><stop offset="0.974" stop-color="#002dff"/><stop offset="1" stop-color="#0025ff"/></linearGradient><linearGradient id="c123"><stop offset="0" stop-color="#eeff11"/><stop offset="0.101" stop-color="#e2ff1d"/><stop offset="0.243" stop-color="#b8ff47"/><stop offset="0.397" stop-color="#72ff8d"/><stop offset="0.608" stop-color="#00fcff"/><stop offset="0.878" stop-color="#0056ff"/><stop offset="0.974" stop-color="#002dff"/><stop offset="1" stop-color="#0025ff"/></linearGradient><linearGradient id="c124"><stop offset="0" stop-color="#ebff14"/><stop offset="0.101" stop-color="#e2ff1d"/><stop offset="0.228" stop-color="#beff41"/><stop offset="0.36" stop-color="#85ff7a"/><stop offset="0.608" stop-color="#00fdff"/><stop offset="0.878" stop-color="#0056ff"/><stop offset="0.984" stop-color="#002aff"/><stop offset="1" stop-color="#0025ff"/></linearGradient><linearGradient id="c125"><stop offset="0" stop-color="#f6ff09"/><stop offset="0.085" stop-color="#f0ff0f"/><stop offset="0.196" stop-color="#d3ff2c"/><stop offset="0.328" stop-color="#9bff64"/><stop offset="0.614" stop-color="#00fcff"/><stop offset="0.873" stop-color="#005aff"/><stop offset="0.968" stop-color="#002fff"/><stop offset="1" stop-color="#0025ff"/></linearGradient><linearGradient id="c126"><stop offset="0" stop-color="#ffee00"/><stop offset="0.09" stop-color="#fff700"/><stop offset="0.132" stop-color="#fcff03"/><stop offset="0.259" stop-color="#c8ff37"/><stop offset="0.418" stop-color="#72ff8d"/><stop offset="0.614" stop-color="#00feff"/><stop offset="0.878" stop-color="#0057ff"/><stop offset="0.979" stop-color="#002bff"/><stop offset="1" stop-color="#0025ff"/></linearGradient><linearGradient id="c127"><stop offset="0" stop-color="#ffd400"/><stop offset="0.079" stop-color="#ffdc00"/><stop offset="0.164" stop-color="#fff900"/><stop offset="0.19" stop-color="#f9ff06"/><stop offset="0.36" stop-color="#9cff63"/><stop offset="0.614" stop-color="#00ffff"/><stop offset="0.884" stop-color="#0054ff"/><stop offset="0.984" stop-color="#0029ff"/><stop offset="1" stop-color="#0025ff"/></linearGradient><linearGradient id="c128"><stop offset="0" stop-color="#ffc100"/><stop offset="0.085" stop-color="#ffce00"/><stop offset="0.175" stop-color="#fff300"/><stop offset="0.206" stop-color="#fbff04"/><stop offset="0.381" stop-color="#92ff6d"/><stop offset="0.614" stop-color="#00ffff"/><stop offset="0.878" stop-color="#0057ff"/><stop offset="0.974" stop-color="#002dff"/><stop offset="1" stop-color="#0024ff"/></linearGradient><linearGradient id="c129"><stop offset="0" stop-color="#ffc500"/><stop offset="0.09" stop-color="#ffd200"/><stop offset="0.185" stop-color="#fff900"/><stop offset="0.206" stop-color="#faff05"/><stop offset="0.37" stop-color="#97ff68"/><stop offset="0.608" stop-color="#02fffd"/><stop offset="0.804" stop-color="#0083ff"/><stop offset="0.921" stop-color="#0041ff"/><stop offset="1" stop-color="#0024ff"/></linearGradient><linearGradient id="c130"><stop offset="0" stop-color="#ffcf00"/><stop offset="0.085" stop-color="#ffdb00"/><stop offset="0.185" stop-color="#fdff02"/><stop offset="0.333" stop-color="#a9ff56"/><stop offset="0.545" stop-color="#25ffda"/><stop offset="0.608" stop-color="#00feff"/><stop offset="0.878" stop-color="#0055ff"/><stop offset="0.974" stop-color="#002bff"/><stop offset="1" stop-color="#0023ff"/></linearGradient><linearGradient id="c131"><stop offset="0" stop-color="#ffdf00"/><stop offset="0.085" stop-color="#ffeb00"/><stop offset="0.159" stop-color="#fcff03"/><stop offset="0.259" stop-color="#cdff32"/><stop offset="0.603" stop-color="#00feff"/><stop offset="0.884" stop-color="#0052ff"/><stop offset="0.979" stop-color="#0029ff"/><stop offset="1" stop-color="#0023ff"/></linearGradient><linearGradient id="c132"><stop offset="0" stop-color="#fff100"/><stop offset="0.079" stop-color="#fff700"/><stop offset="0.132" stop-color="#fbff04"/><stop offset="0.233" stop-color="#d6ff29"/><stop offset="0.386" stop-color="#7dff82"/><stop offset="0.598" stop-color="#00ffff"/><stop offset="0.884" stop-color="#0051ff"/><stop offset="0.979" stop-color="#0028ff"/><stop offset="1" stop-color="#0022ff"/></linearGradient><linearGradient id="c133"><stop offset="0" stop-color="#ffed00"/><stop offset="0.101" stop-color="#fff800"/><stop offset="0.153" stop-color="#f9ff06"/><stop offset="0.249" stop-color="#d1ff2e"/><stop offset="0.593" stop-color="#02fffd"/><stop offset="0.725" stop-color="#00b1ff"/><stop offset="0.878" stop-color="#0053ff"/><stop offset="0.974" stop-color="#0029ff"/><stop offset="1" stop-color="#0022ff"/></linearGradient><linearGradient id="c134"><stop offset="0" stop-color="#ffdf00"/><stop offset="0.095" stop-color="#ffe800"/><stop offset="0.18" stop-color="#fdff02"/><stop offset="0.28" stop-color="#c8ff37"/><stop offset="0.513" stop-color="#32ffcd"/><stop offset="0.598" stop-color="#00feff"/><stop offset="0.884" stop-color="#004fff"/><stop offset="0.979" stop-color="#0027ff"/><stop offset="1" stop-color="#0021ff"/></linearGradient><linearGradient id="c135"><stop offset="0" stop-color="#ffc900"/><stop offset="0.085" stop-color="#ffcf00"/><stop offset="0.175" stop-color="#ffec00"/><stop offset="0.217" stop-color="#fcff03"/><stop offset="0.386" stop-color="#89ff76"/><stop offset="0.593" stop-color="#02fffd"/><stop offset="0.762" stop-color="#0097ff"/><stop offset="0.894" stop-color="#0048ff"/><stop offset="1" stop-color="#0020ff"/></linearGradient><linearGradient id="c136"><stop offset="0" stop-color="#ffad00"/><stop offset="0.085" stop-color="#ffb500"/><stop offset="0.164" stop-color="#ffd300"/><stop offset="0.238" stop-color="#fdff02"/><stop offset="0.497" stop-color="#3effc1"/><stop offset="0.598" stop-color="#00fcff"/><stop offset="0.878" stop-color="#004eff"/><stop offset="0.984" stop-color="#0023ff"/><stop offset="1" stop-color="#001fff"/></linearGradient><linearGradient id="c137"><stop offset="0" stop-color="#ff9600"/><stop offset="0.074" stop-color="#ff9f00"/><stop offset="0.148" stop-color="#ffbd00"/><stop offset="0.233" stop-color="#fff700"/><stop offset="0.249" stop-color="#fbff04"/><stop offset="0.476" stop-color="#4affb5"/><stop offset="0.587" stop-color="#00ffff"/><stop offset="0.873" stop-color="#004eff"/><stop offset="0.979" stop-color="#0023ff"/><stop offset="1" stop-color="#001eff"/></linearGradient><linearGradient id="c138"><stop offset="0" stop-color="#ff9200"/><stop offset="0.085" stop-color="#ffa200"/><stop offset="0.153" stop-color="#ffc400"/><stop offset="0.233" stop-color="#ffff00"/><stop offset="0.444" stop-color="#57ffa8"/><stop offset="0.571" stop-color="#01fffe"/><stop offset="0.862" stop-color="#0050ff"/><stop offset="0.963" stop-color="#0026ff"/><stop offset="1" stop-color="#001cff"/></linearGradient><linearGradient id="c139"><stop offset="0" stop-color="#ffa700"/><stop offset="0.074" stop-color="#ffb600"/><stop offset="0.148" stop-color="#ffda00"/><stop offset="0.201" stop-color="#feff01"/><stop offset="0.418" stop-color="#58ffa7"/><stop offset="0.55" stop-color="#01fffe"/><stop offset="0.873" stop-color="#0046ff"/><stop offset="0.979" stop-color="#001fff"/><stop offset="1" stop-color="#001aff"/></linearGradient><linearGradient id="c140"><stop offset="0" stop-color="#ffd100"/><stop offset="0.085" stop-color="#ffe900"/><stop offset="0.132" stop-color="#fdff02"/><stop offset="0.259" stop-color="#a8ff57"/><stop offset="0.434" stop-color="#34ffcb"/><stop offset="0.524" stop-color="#00ffff"/><stop offset="0.862" stop-color="#0046ff"/><stop offset="0.968" stop-color="#0020ff"/><stop offset="1" stop-color="#0018ff"/></linearGradient><linearGradient id="c141"><stop offset="0" stop-color="#e6ff19"/><stop offset="0.101" stop-color="#c9ff36"/><stop offset="0.228" stop-color="#89ff76"/><stop offset="0.407" stop-color="#26ffd9"/><stop offset="0.487" stop-color="#00fdff"/><stop offset="0.772" stop-color="#006dff"/><stop offset="0.894" stop-color="#0035ff"/><stop offset="1" stop-color="#0017ff"/></linearGradient><linearGradient id="c142"><stop offset="0" stop-color="#9bff64"/><stop offset="0.101" stop-color="#84ff7b"/><stop offset="0.259" stop-color="#47ffb8"/><stop offset="0.434" stop-color="#00feff"/><stop offset="0.667" stop-color="#009aff"/><stop offset="0.862" stop-color="#003dff"/><stop offset="0.974" stop-color="#001aff"/><stop offset="1" stop-color="#0015ff"/></linearGradient><linearGradient id="c143"><stop offset="0" stop-color="#61ff9e"/><stop offset="0.127" stop-color="#46ffb9"/><stop offset="0.365" stop-color="#00fdff"/><stop offset="0.577" stop-color="#00b7ff"/><stop offset="0.873" stop-color="#0035ff"/><stop offset="0.989" stop-color="#0015ff"/><stop offset="1" stop-color="#0013ff"/></linearGradient><linearGradient id="c144"><stop offset="0" stop-color="#33ffcc"/><stop offset="0.138" stop-color="#1bffe4"/><stop offset="0.275" stop-color="#00fdff"/><stop offset="0.497" stop-color="#00c7ff"/><stop offset="0.646" stop-color="#0091ff"/><stop offset="0.873" stop-color="#0032ff"/><stop offset="0.984" stop-color="#0015ff"/><stop offset="1" stop-color="#0012ff"/></linearGradient><linearGradient id="c145"><stop offset="0" stop-color="#14ffeb"/><stop offset="0.153" stop-color="#00fcff"/><stop offset="0.466" stop-color="#00c5ff"/><stop offset="0.603" stop-color="#009bff"/><stop offset="0.878" stop-color="#002dff"/><stop offset="1" stop-color="#0011ff"/></linearGradient><linearGradient id="c146"><stop offset="0" stop-color="#00feff"/><stop offset="0.132" stop-color="#00ecff"/><stop offset="0.46" stop-color="#00bdff"/><stop offset="0.593" stop-color="#009aff"/><stop offset="0.889" stop-color="#0028ff"/><stop offset="1" stop-color="#0010ff"/></linearGradient><linearGradient id="c147"><stop offset="0" stop-color="#00eeff"/><stop offset="0.28" stop-color="#00cbff"/><stop offset="0.46" stop-color="#00b7ff"/><stop offset="0.587" stop-color="#0098ff"/><stop offset="0.889" stop-color="#0027ff"/><stop offset="1" stop-color="#0010ff"/></linearGradient><linearGradient id="c148"><stop offset="0" stop-color="#00dfff"/><stop offset="0.238" stop-color="#00c5ff"/><stop offset="0.45" stop-color="#00b7ff"/><stop offset="0.577" stop-color="#009aff"/><stop offset="0.884" stop-color="#0028ff"/><stop offset="1" stop-color="#0010ff"/></linearGradient><linearGradient id="c149"><stop offset="0" stop-color="#00d2ff"/><stop offset="0.228" stop-color="#00c4ff"/><stop offset="0.423" stop-color="#00beff"/><stop offset="0.566" stop-color="#009fff"/><stop offset="0.794" stop-color="#0048ff"/><stop offset="0.921" stop-color="#001eff"/><stop offset="1" stop-color="#000fff"/></linearGradient><linearGradient id="c150"><stop offset="0" stop-color="#00cdff"/><stop offset="0.28" stop-color="#00d0ff"/><stop offset="0.434" stop-color="#00c3ff"/><stop offset="0.571" stop-color="#00a0ff"/><stop offset="0.889" stop-color="#0026ff"/><stop offset="1" stop-color="#000fff"/></linearGradient><linearGradient id="c151"><stop offset="0" stop-color="#00e5ff"/><stop offset="0.127" stop-color="#00ecff"/><stop offset="0.344" stop-color="#00dbff"/><stop offset="0.471" stop-color="#00c2ff"/><stop offset="0.63" stop-color="#008eff"/><stop offset="0.873" stop-color="#002bff"/><stop offset="1" stop-color="#000fff"/></linearGradient><linearGradient id="c152"><stop offset="0" stop-color="#09fff6"/><stop offset="0.095" stop-color="#0efff1"/><stop offset="0.228" stop-color="#00fcff"/><stop offset="0.434" stop-color="#00d2ff"/><stop offset="0.614" stop-color="#0097ff"/><stop offset="0.862" stop-color="#002fff"/><stop offset="0.984" stop-color="#0011ff"/><stop offset="1" stop-color="#000fff"/></linearGradient><linearGradient id="c153"><stop offset="0" stop-color="#28ffd7"/><stop offset="0.095" stop-color="#25ffda"/><stop offset="0.28" stop-color="#00fdff"/><stop offset="0.487" stop-color="#00c8ff"/><stop offset="0.672" stop-color="#0082ff"/><stop offset="0.862" stop-color="#0030ff"/><stop offset="0.979" stop-color="#0012ff"/><stop offset="1" stop-color="#000fff"/></linearGradient><linearGradient id="c154"><stop offset="0" stop-color="#35ffca"/><stop offset="0.159" stop-color="#1cffe3"/><stop offset="0.328" stop-color="#00fdff"/><stop offset="0.513" stop-color="#00c7ff"/><stop offset="0.693" stop-color="#007cff"/><stop offset="0.857" stop-color="#0033ff"/><stop offset="0.968" stop-color="#0014ff"/><stop offset="1" stop-color="#000fff"/></linearGradient><linearGradient id="c155"><stop offset="0" stop-color="#2affd5"/><stop offset="0.222" stop-color="#25ffda"/><stop offset="0.344" stop-color="#0dfff2"/><stop offset="0.397" stop-color="#00fcff"/><stop offset="0.593" stop-color="#00afff"/><stop offset="0.857" stop-color="#0033ff"/><stop offset="0.968" stop-color="#0014ff"/><stop offset="1" stop-color="#000fff"/></linearGradient><linearGradient id="c156"><stop offset="0" stop-color="#37ffc8"/><stop offset="0.122" stop-color="#4cffb3"/><stop offset="0.222" stop-color="#49ffb6"/><stop offset="0.339" stop-color="#28ffd7"/><stop offset="0.439" stop-color="#00fdff"/><stop offset="0.709" stop-color="#007aff"/><stop offset="0.857" stop-color="#0033ff"/><stop offset="0.963" stop-color="#0015ff"/><stop offset="1" stop-color="#000fff"/></linearGradient><linearGradient id="c157"><stop offset="0" stop-color="#69ff96"/><stop offset="0.106" stop-color="#7dff82"/><stop offset="0.19" stop-color="#77ff88"/><stop offset="0.28" stop-color="#5affa5"/><stop offset="0.46" stop-color="#00ffff"/><stop offset="0.825" stop-color="#0040ff"/><stop offset="0.931" stop-color="#001bff"/><stop offset="1" stop-color="#000eff"/></linearGradient><linearGradient id="c158"><stop offset="0" stop-color="#9eff61"/><stop offset="0.069" stop-color="#abff54"/><stop offset="0.153" stop-color="#a3ff5c"/><stop offset="0.254" stop-color="#7dff82"/><stop offset="0.476" stop-color="#00ffff"/><stop offset="0.804" stop-color="#0048ff"/><stop offset="0.91" stop-color="#001fff"/><stop offset="1" stop-color="#000dff"/></linearGradient><linearGradient id="c159"><stop offset="0" stop-color="#c9ff36"/><stop offset="0.079" stop-color="#c8ff37"/><stop offset="0.175" stop-color="#b1ff4e"/><stop offset="0.275" stop-color="#81ff7e"/><stop offset="0.487" stop-color="#00feff"/><stop offset="0.778" stop-color="#0053ff"/><stop offset="0.873" stop-color="#0029ff"/><stop offset="0.968" stop-color="#0011ff"/><stop offset="1" stop-color="#000cff"/></linearGradient><linearGradient id="c160"><stop offset="0" stop-color="#d7ff28"/><stop offset="0.106" stop-color="#d2ff2d"/><stop offset="0.19" stop-color="#bcff43"/><stop offset="0.28" stop-color="#8dff72"/><stop offset="0.487" stop-color="#01fffe"/><stop offset="0.746" stop-color="#005fff"/><stop offset="0.852" stop-color="#002dff"/><stop offset="0.947" stop-color="#0013ff"/><stop offset="1" stop-color="#000bff"/></linearGradient><linearGradient id="c161"><stop offset="0" stop-color="#e3ff1c"/><stop offset="0.101" stop-color="#e9ff16"/><stop offset="0.169" stop-color="#d9ff26"/><stop offset="0.259" stop-color="#a6ff59"/><stop offset="0.481" stop-color="#00ffff"/><stop offset="0.693" stop-color="#0077ff"/><stop offset="0.81" stop-color="#0039ff"/><stop offset="0.91" stop-color="#0018ff"/><stop offset="1" stop-color="#0009ff"/></linearGradient><linearGradient id="c162"><stop offset="0" stop-color="#feff01"/><stop offset="0.079" stop-color="#fff900"/><stop offset="0.122" stop-color="#fbff04"/><stop offset="0.18" stop-color="#dfff20"/><stop offset="0.291" stop-color="#8aff75"/><stop offset="0.45" stop-color="#0dfff2"/><stop offset="0.471" stop-color="#00fdff"/><stop offset="0.661" stop-color="#0081ff"/><stop offset="0.794" stop-color="#003aff"/><stop offset="0.899" stop-color="#0017ff"/><stop offset="1" stop-color="#0008ff"/></linearGradient><linearGradient id="c163"><stop offset="0" stop-color="#ffe600"/><stop offset="0.063" stop-color="#ffec00"/><stop offset="0.116" stop-color="#fcff03"/><stop offset="0.19" stop-color="#caff35"/><stop offset="0.386" stop-color="#2affd5"/><stop offset="0.444" stop-color="#01fffe"/><stop offset="0.677" stop-color="#006fff"/><stop offset="0.794" stop-color="#0034ff"/><stop offset="0.899" stop-color="#0014ff"/><stop offset="1" stop-color="#0007ff"/></linearGradient><linearGradient id="c164"><stop offset="0" stop-color="#ffeb00"/><stop offset="0.063" stop-color="#fdff02"/><stop offset="0.143" stop-color="#cfff30"/><stop offset="0.339" stop-color="#35ffca"/><stop offset="0.418" stop-color="#00ffff"/><stop offset="0.714" stop-color="#0052ff"/><stop offset="0.82" stop-color="#0025ff"/><stop offset="0.937" stop-color="#000bff"/><stop offset="1" stop-color="#0005ff"/></linearGradient><linearGradient id="c165"><stop offset="0" stop-color="#f4ff0b"/><stop offset="0.074" stop-color="#d3ff2c"/><stop offset="0.19" stop-color="#80ff7f"/><stop offset="0.312" stop-color="#2affd5"/><stop offset="0.386" stop-color="#00ffff"/><stop offset="0.735" stop-color="#0041ff"/><stop offset="0.836" stop-color="#001cff"/><stop offset="0.958" stop-color="#0007ff"/><stop offset="1" stop-color="#0004ff"/></linearGradient><linearGradient id="c166"><stop offset="0" stop-color="#cbff34"/><stop offset="0.101" stop-color="#91ff6e"/><stop offset="0.254" stop-color="#2effd1"/><stop offset="0.349" stop-color="#00feff"/><stop offset="0.497" stop-color="#00bbff"/><stop offset="0.72" stop-color="#0042ff"/><stop offset="0.825" stop-color="#001bff"/><stop offset="0.931" stop-color="#0008ff"/><stop offset="1" stop-color="#0003ff"/></linearGradient><linearGradient id="c167"><stop offset="0" stop-color="#98ff67"/><stop offset="0.222" stop-color="#1effe1"/><stop offset="0.307" stop-color="#00fdff"/><stop offset="0.45" stop-color="#00cbff"/><stop offset="0.72" stop-color="#003cff"/><stop offset="0.825" stop-color="#0017ff"/><stop offset="0.952" stop-color="#0004ff"/><stop offset="1" stop-color="#0002ff"/></linearGradient><linearGradient id="c168"><stop offset="0" stop-color="#68ff97"/><stop offset="0.164" stop-color="#1bffe4"/><stop offset="0.243" stop-color="#00feff"/><stop offset="0.418" stop-color="#00d1ff"/><stop offset="0.524" stop-color="#009eff"/><stop offset="0.704" stop-color="#003dff"/><stop offset="0.804" stop-color="#0018ff"/><stop offset="0.921" stop-color="#0005ff"/><stop offset="1" stop-color="#0001ff"/></linearGradient><linearGradient id="c169"><stop offset="0" stop-color="#3effc1"/><stop offset="0.18" stop-color="#00fdff"/><stop offset="0.286" stop-color="#00e4ff"/><stop offset="0.397" stop-color="#00d2ff"/><stop offset="0.476" stop-color="#00b0ff"/><stop offset="0.688" stop-color="#003eff"/><stop offset="0.794" stop-color="#0017ff"/><stop offset="0.905" stop-color="#0005ff"/><stop offset="1" stop-color="#0000ff"/></linearGradient><linearGradient id="c170"><stop offset="0" stop-color="#22ffdd"/><stop offset="0.122" stop-color="#00fcff"/><stop offset="0.228" stop-color="#00deff"/><stop offset="0.381" stop-color="#00ceff"/><stop offset="0.46" stop-color="#00b0ff"/><stop offset="0.683" stop-color="#003bff"/><stop offset="0.783" stop-color="#0016ff"/><stop offset="0.899" stop-color="#0004ff"/><stop offset="1" stop-color="#0000fe"/></linearGradient><linearGradient id="c171"><stop offset="0" stop-color="#0efff1"/><stop offset="0.063" stop-color="#00fbff"/><stop offset="0.196" stop-color="#00d3ff"/><stop offset="0.286" stop-color="#00ccff"/><stop offset="0.376" stop-color="#00c6ff"/><stop offset="0.46" stop-color="#00a6ff"/><stop offset="0.688" stop-color="#0034ff"/><stop offset="0.788" stop-color="#0012ff"/><stop offset="0.915" stop-color="#0002ff"/><stop offset="1" stop-color="#0000fe"/></linearGradient><linearGradient id="c172"><stop offset="0" stop-color="#00f9ff"/><stop offset="0.196" stop-color="#00c2ff"/><stop offset="0.28" stop-color="#00bcff"/><stop offset="0.376" stop-color="#00bbff"/><stop offset="0.444" stop-color="#00a5ff"/><stop offset="0.709" stop-color="#0028ff"/><stop offset="0.81" stop-color="#000cff"/><stop offset="0.947" stop-color="#0000ff"/><stop offset="1" stop-color="#0000fe"/></linearGradient><linearGradient id="c173"><stop offset="0" stop-color="#00e5ff"/><stop offset="0.206" stop-color="#00a9ff"/><stop offset="0.27" stop-color="#00aaff"/><stop offset="0.365" stop-color="#00b4ff"/><stop offset="0.429" stop-color="#00a5ff"/><stop offset="0.698" stop-color="#002bff"/><stop offset="0.799" stop-color="#000dff"/><stop offset="0.937" stop-color="#0000ff"/><stop offset="1" stop-color="#0000fd"/></linearGradient><linearGradient id="c174"><stop offset="0" stop-color="#00d3ff"/><stop offset="0.095" stop-color="#00b3ff"/><stop offset="0.169" stop-color="#0095ff"/><stop offset="0.217" stop-color="#0092ff"/><stop offset="0.339" stop-color="#00aeff"/><stop offset="0.397" stop-color="#00a8ff"/><stop offset="0.476" stop-color="#0088ff"/><stop offset="0.741" stop-color="#001cff"/><stop offset="0.841" stop-color="#0006ff"/><stop offset="0.989" stop-color="#0000fd"/><stop offset="1" stop-color="#0000fd"/></linearGradient><linearGradient id="c175"><stop offset="0" stop-color="#00c0ff"/><stop offset="0.063" stop-color="#00a0ff"/><stop offset="0.122" stop-color="#0084ff"/><stop offset="0.18" stop-color="#007fff"/><stop offset="0.275" stop-color="#009bff"/><stop offset="0.349" stop-color="#00a9ff"/><stop offset="0.418" stop-color="#009cff"/><stop offset="0.677" stop-color="#0035ff"/><stop offset="0.767" stop-color="#0014ff"/><stop offset="0.878" stop-color="#0002ff"/><stop offset="1" stop-color="#0000fd"/></linearGradient><linearGradient id="c176"><stop offset="0" stop-color="#009fff"/><stop offset="0.053" stop-color="#007fff"/><stop offset="0.116" stop-color="#0073ff"/><stop offset="0.196" stop-color="#007bff"/><stop offset="0.328" stop-color="#00a3ff"/><stop offset="0.392" stop-color="#00a0ff"/><stop offset="0.503" stop-color="#007cff"/><stop offset="0.635" stop-color="#004aff"/><stop offset="0.751" stop-color="#0018ff"/><stop offset="0.857" stop-color="#0003ff"/><stop offset="1" stop-color="#0000fc"/></linearGradient><linearGradient id="c177"><stop offset="0" stop-color="#0076ff"/><stop offset="0.143" stop-color="#006aff"/><stop offset="0.217" stop-color="#0078ff"/><stop offset="0.328" stop-color="#00a4ff"/><stop offset="0.392" stop-color="#00a4ff"/><stop offset="0.471" stop-color="#008bff"/><stop offset="0.624" stop-color="#0051ff"/><stop offset="0.746" stop-color="#0019ff"/><stop offset="0.841" stop-color="#0004ff"/><stop offset="1" stop-color="#0000fc"/></linearGradient><linearGradient id="c178"><stop offset="0" stop-color="#006eff"/><stop offset="0.143" stop-color="#005dff"/><stop offset="0.196" stop-color="#0068ff"/><stop offset="0.312" stop-color="#00aaff"/><stop offset="0.365" stop-color="#00b0ff"/><stop offset="0.434" stop-color="#009eff"/><stop offset="0.614" stop-color="#0057ff"/><stop offset="0.741" stop-color="#001aff"/><stop offset="0.836" stop-color="#0004ff"/><stop offset="0.984" stop-color="#0000fc"/><stop offset="1" stop-color="#0000fb"/></linearGradient><linearGradient id="c179"><stop offset="0" stop-color="#0067ff"/><stop offset="0.111" stop-color="#004eff"/><stop offset="0.159" stop-color="#0057ff"/><stop offset="0.217" stop-color="#007eff"/><stop offset="0.286" stop-color="#00afff"/><stop offset="0.328" stop-color="#00bcff"/><stop offset="0.376" stop-color="#00b7ff"/><stop offset="0.614" stop-color="#0057ff"/><stop offset="0.735" stop-color="#001bff"/><stop offset="0.82" stop-color="#0005ff"/><stop offset="0.926" stop-color="#0000fc"/><stop offset="1" stop-color="#0000fb"/></linearGradient><linearGradient id="c180"><stop offset="0" stop-color="#0057ff"/><stop offset="0.079" stop-color="#0043ff"/><stop offset="0.122" stop-color="#004dff"/><stop offset="0.185" stop-color="#007aff"/><stop offset="0.254" stop-color="#00b1ff"/><stop offset="0.307" stop-color="#00c5ff"/><stop offset="0.354" stop-color="#00c1ff"/><stop offset="0.519" stop-color="#007eff"/><stop offset="0.619" stop-color="#0053ff"/><stop offset="0.735" stop-color="#0019ff"/><stop offset="0.825" stop-color="#0003ff"/><stop offset="1" stop-color="#0000fa"/></linearGradient><linearGradient id="c181"><stop offset="0" stop-color="#0043ff"/><stop offset="0.042" stop-color="#003dff"/><stop offset="0.095" stop-color="#0051ff"/><stop offset="0.238" stop-color="#00bbff"/><stop offset="0.286" stop-color="#00cbff"/><stop offset="0.333" stop-color="#00c8ff"/><stop offset="0.497" stop-color="#0082ff"/><stop offset="0.603" stop-color="#005aff"/><stop offset="0.73" stop-color="#0019ff"/><stop offset="0.82" stop-color="#0003ff"/><stop offset="1" stop-color="#0000fa"/></linearGradient><linearGradient id="c182"><stop offset="0" stop-color="#003aff"/><stop offset="0.058" stop-color="#0055ff"/><stop offset="0.212" stop-color="#00bcff"/><stop offset="0.27" stop-color="#00cfff"/><stop offset="0.323" stop-color="#00c9ff"/><stop offset="0.471" stop-color="#0087ff"/><stop offset="0.582" stop-color="#0062ff"/><stop offset="0.73" stop-color="#0017ff"/><stop offset="0.82" stop-color="#0001ff"/><stop offset="1" stop-color="#0000f9"/></linearGradient><linearGradient id="c183"><stop offset="0" stop-color="#004eff"/><stop offset="0.159" stop-color="#00afff"/><stop offset="0.238" stop-color="#00cdff"/><stop offset="0.296" stop-color="#00ccff"/><stop offset="0.376" stop-color="#00aaff"/><stop offset="0.46" stop-color="#0086ff"/><stop offset="0.571" stop-color="#0064ff"/><stop offset="0.725" stop-color="#0017ff"/><stop offset="0.81" stop-color="#0001ff"/><stop offset="0.989" stop-color="#0000f9"/><stop offset="1" stop-color="#0000f9"/></linearGradient><linearGradient id="c184"><stop offset="0" stop-color="#006bff"/><stop offset="0.101" stop-color="#00a2ff"/><stop offset="0.206" stop-color="#00c9ff"/><stop offset="0.27" stop-color="#00ccff"/><stop offset="0.339" stop-color="#00b4ff"/><stop offset="0.439" stop-color="#0087ff"/><stop offset="0.566" stop-color="#0062ff"/><stop offset="0.725" stop-color="#0013ff"/><stop offset="0.81" stop-color="#0000fe"/><stop offset="0.984" stop-color="#0000f8"/><stop offset="1" stop-color="#0000f8"/></linearGradient><linearGradient id="c185"><stop offset="0" stop-color="#0085ff"/><stop offset="0.09" stop-color="#00abff"/><stop offset="0.206" stop-color="#00c9ff"/><stop offset="0.27" stop-color="#00c5ff"/><stop offset="0.354" stop-color="#00a3ff"/><stop offset="0.455" stop-color="#007dff"/><stop offset="0.566" stop-color="#005dff"/><stop offset="0.72" stop-color="#0012ff"/><stop offset="0.794" stop-color="#0000ff"/><stop offset="0.931" stop-color="#0000f7"/><stop offset="1" stop-color="#0000f8"/></linearGradient><linearGradient id="c186"><stop offset="0" stop-color="#0098ff"/><stop offset="0.106" stop-color="#00b5ff"/><stop offset="0.201" stop-color="#00c5ff"/><stop offset="0.265" stop-color="#00bfff"/><stop offset="0.349" stop-color="#009dff"/><stop offset="0.444" stop-color="#0079ff"/><stop offset="0.556" stop-color="#005bff"/><stop offset="0.72" stop-color="#000eff"/><stop offset="0.788" stop-color="#0000fd"/><stop offset="0.937" stop-color="#0000f7"/><stop offset="1" stop-color="#0000f7"/></linearGradient><linearGradient id="c187"><stop offset="0" stop-color="#00a4ff"/><stop offset="0.164" stop-color="#00bfff"/><stop offset="0.238" stop-color="#00beff"/><stop offset="0.312" stop-color="#00a5ff"/><stop offset="0.418" stop-color="#0078ff"/><stop offset="0.556" stop-color="#0054ff"/><stop offset="0.714" stop-color="#000dff"/><stop offset="0.783" stop-color="#0000fc"/><stop offset="0.952" stop-color="#0000f6"/><stop offset="1" stop-color="#0000f7"/></linearGradient><linearGradient id="c188"><stop offset="0" stop-color="#00aaff"/><stop offset="0.18" stop-color="#00bdff"/><stop offset="0.243" stop-color="#00b6ff"/><stop offset="0.339" stop-color="#008eff"/><stop offset="0.429" stop-color="#006cff"/><stop offset="0.556" stop-color="#004dff"/><stop offset="0.709" stop-color="#000bff"/><stop offset="0.772" stop-color="#0000fc"/><stop offset="0.931" stop-color="#0000f5"/><stop offset="1" stop-color="#0000f6"/></linearGradient><linearGradient id="c189"><stop offset="0" stop-color="#00aeff"/><stop offset="0.19" stop-color="#00b9ff"/><stop offset="0.259" stop-color="#00a7ff"/><stop offset="0.402" stop-color="#0069ff"/><stop offset="0.556" stop-color="#0045ff"/><stop offset="0.709" stop-color="#0008ff"/><stop offset="0.767" stop-color="#0000fb"/><stop offset="0.937" stop-color="#0000f4"/><stop offset="1" stop-color="#0000f5"/></linearGradient><linearGradient id="c190"><stop offset="0" stop-color="#00b0ff"/><stop offset="0.169" stop-color="#00b6ff"/><stop offset="0.243" stop-color="#00a2ff"/><stop offset="0.392" stop-color="#0062ff"/><stop offset="0.561" stop-color="#003cff"/><stop offset="0.714" stop-color="#0004ff"/><stop offset="0.799" stop-color="#0000f6"/><stop offset="1" stop-color="#0000f5"/></linearGradient><linearGradient id="c191"><stop offset="0" stop-color="#00aeff"/><stop offset="0.138" stop-color="#00b4ff"/><stop offset="0.217" stop-color="#00a1ff"/><stop offset="0.376" stop-color="#005bff"/><stop offset="0.561" stop-color="#0036ff"/><stop offset="0.709" stop-color="#0003ff"/><stop offset="0.862" stop-color="#0000f2"/><stop offset="1" stop-color="#0000f4"/></linearGradient><linearGradient id="c192"><stop offset="0" stop-color="#00aeff"/><stop offset="0.106" stop-color="#00b2ff"/><stop offset="0.19" stop-color="#009fff"/><stop offset="0.36" stop-color="#0056ff"/><stop offset="0.466" stop-color="#0042ff"/><stop offset="0.566" stop-color="#002fff"/><stop offset="0.709" stop-color="#0000ff"/><stop offset="0.815" stop-color="#0000f2"/><stop offset="1" stop-color="#0000f3"/></linearGradient><linearGradient id="c193"><stop offset="0" stop-color="#00b0ff"/><stop offset="0.079" stop-color="#00b0ff"/><stop offset="0.175" stop-color="#009aff"/><stop offset="0.339" stop-color="#0052ff"/><stop offset="0.439" stop-color="#003fff"/><stop offset="0.534" stop-color="#0033ff"/><stop offset="0.693" stop-color="#0000ff"/><stop offset="0.794" stop-color="#0000f1"/><stop offset="1" stop-color="#0000f3"/></linearGradient><linearGradient id="c194"><stop offset="0" stop-color="#00b1ff"/><stop offset="0.074" stop-color="#00abff"/><stop offset="0.159" stop-color="#0094ff"/><stop offset="0.307" stop-color="#0053ff"/><stop offset="0.392" stop-color="#003fff"/><stop offset="0.519" stop-color="#0032ff"/><stop offset="0.677" stop-color="#0000fe"/><stop offset="0.783" stop-color="#0000f0"/><stop offset="1" stop-color="#0000f2"/></linearGradient><linearGradient id="c195"><stop offset="0" stop-color="#00b0ff"/><stop offset="0.116" stop-color="#0099ff"/><stop offset="0.275" stop-color="#0054ff"/><stop offset="0.36" stop-color="#0040ff"/><stop offset="0.492" stop-color="#0032ff"/><stop offset="0.661" stop-color="#0000fd"/><stop offset="0.778" stop-color="#0000ee"/><stop offset="1" stop-color="#0000f1"/></linearGradient><linearGradient id="c196"><stop offset="0" stop-color="#00abff"/><stop offset="0.085" stop-color="#0099ff"/><stop offset="0.238" stop-color="#0058ff"/><stop offset="0.323" stop-color="#0043ff"/><stop offset="0.46" stop-color="#0034ff"/><stop offset="0.635" stop-color="#0000fe"/><stop offset="0.751" stop-color="#0000ee"/><stop offset="0.989" stop-color="#0000f0"/><stop offset="1" stop-color="#0000f1"/></linearGradient><linearGradient id="c197"><stop offset="0" stop-color="#00a6ff"/><stop offset="0.069" stop-color="#0094ff"/><stop offset="0.196" stop-color="#005dff"/><stop offset="0.28" stop-color="#0048ff"/><stop offset="0.418" stop-color="#0038ff"/><stop offset="0.614" stop-color="#0000fe"/><stop offset="0.73" stop-color="#0000ed"/><stop offset="0.979" stop-color="#0000ef"/><stop offset="1" stop-color="#0000f0"/></linearGradient><linearGradient id="c198"><stop offset="0" stop-color="#00a0ff"/><stop offset="0.074" stop-color="#0084ff"/><stop offset="0.175" stop-color="#005bff"/><stop offset="0.265" stop-color="#004bff"/><stop offset="0.354" stop-color="#0043ff"/><stop offset="0.571" stop-color="#0003ff"/><stop offset="0.73" stop-color="#0000eb"/><stop offset="1" stop-color="#0000ef"/></linearGradient><linearGradient id="c199"><stop offset="0" stop-color="#0098ff"/><stop offset="0.138" stop-color="#005fff"/><stop offset="0.217" stop-color="#0050ff"/><stop offset="0.302" stop-color="#004dff"/><stop offset="0.386" stop-color="#0033ff"/><stop offset="0.492" stop-color="#000eff"/><stop offset="0.571" stop-color="#0000fc"/><stop offset="0.704" stop-color="#0000eb"/><stop offset="0.937" stop-color="#0000ec"/><stop offset="1" stop-color="#0000ef"/></linearGradient><linearGradient id="c200"><stop offset="0" stop-color="#008bff"/><stop offset="0.132" stop-color="#0059ff"/><stop offset="0.19" stop-color="#0054ff"/><stop offset="0.275" stop-color="#0054ff"/><stop offset="0.354" stop-color="#0036ff"/><stop offset="0.439" stop-color="#0013ff"/><stop offset="0.534" stop-color="#0000fd"/><stop offset="0.677" stop-color="#0000eb"/><stop offset="0.905" stop-color="#0000ea"/><stop offset="1" stop-color="#0000ee"/></linearGradient><linearGradient id="c201"><stop offset="0" stop-color="#007fff"/><stop offset="0.111" stop-color="#0059ff"/><stop offset="0.169" stop-color="#0059ff"/><stop offset="0.233" stop-color="#005dff"/><stop offset="0.291" stop-color="#004cff"/><stop offset="0.392" stop-color="#0018ff"/><stop offset="0.492" stop-color="#0000fe"/><stop offset="0.661" stop-color="#0000ea"/><stop offset="0.905" stop-color="#0000e9"/><stop offset="1" stop-color="#0000ed"/></linearGradient><linearGradient id="c202"><stop offset="0" stop-color="#0074ff"/><stop offset="0.095" stop-color="#0058ff"/><stop offset="0.159" stop-color="#0061ff"/><stop offset="0.212" stop-color="#0064ff"/><stop offset="0.27" stop-color="#004eff"/><stop offset="0.354" stop-color="#001cff"/><stop offset="0.45" stop-color="#0001ff"/><stop offset="0.646" stop-color="#0000e9"/><stop offset="0.91" stop-color="#0000e9"/><stop offset="1" stop-color="#0000ec"/></linearGradient><linearGradient id="c203"><stop offset="0" stop-color="#006bff"/><stop offset="0.079" stop-color="#0059ff"/><stop offset="0.175" stop-color="#006bff"/><stop offset="0.217" stop-color="#0062ff"/><stop offset="0.323" stop-color="#001fff"/><stop offset="0.402" stop-color="#0004ff"/><stop offset="0.466" stop-color="#0000f7"/><stop offset="0.698" stop-color="#0000e5"/><stop offset="0.974" stop-color="#0000ea"/><stop offset="1" stop-color="#0000eb"/></linearGradient><linearGradient id="c204"><stop offset="0" stop-color="#0064ff"/><stop offset="0.058" stop-color="#005aff"/><stop offset="0.138" stop-color="#0071ff"/><stop offset="0.18" stop-color="#006dff"/><stop offset="0.222" stop-color="#0053ff"/><stop offset="0.291" stop-color="#0022ff"/><stop offset="0.376" stop-color="#0003ff"/><stop offset="0.571" stop-color="#0000ea"/><stop offset="0.794" stop-color="#0000e3"/><stop offset="1" stop-color="#0000eb"/></linearGradient><linearGradient id="c205"><stop offset="0" stop-color="#005eff"/><stop offset="0.042" stop-color="#005dff"/><stop offset="0.111" stop-color="#0075ff"/><stop offset="0.153" stop-color="#0073ff"/><stop offset="0.19" stop-color="#005dff"/><stop offset="0.254" stop-color="#002aff"/><stop offset="0.328" stop-color="#0009ff"/><stop offset="0.381" stop-color="#0000fb"/><stop offset="0.529" stop-color="#0000eb"/><stop offset="0.735" stop-color="#0000e2"/><stop offset="1" stop-color="#0000ea"/></linearGradient><linearGradient id="c206"><stop offset="0" stop-color="#005aff"/><stop offset="0.095" stop-color="#007aff"/><stop offset="0.132" stop-color="#0077ff"/><stop offset="0.18" stop-color="#0053ff"/><stop offset="0.238" stop-color="#0026ff"/><stop offset="0.317" stop-color="#0005ff"/><stop offset="0.37" stop-color="#0000f8"/><stop offset="0.608" stop-color="#0000e3"/><stop offset="0.868" stop-color="#0000e3"/><stop offset="1" stop-color="#0000e9"/></linearGradient><linearGradient id="c207"><stop offset="0" stop-color="#005fff"/><stop offset="0.058" stop-color="#007aff"/><stop offset="0.095" stop-color="#007eff"/><stop offset="0.127" stop-color="#0070ff"/><stop offset="0.201" stop-color="#002fff"/><stop offset="0.28" stop-color="#0009ff"/><stop offset="0.323" stop-color="#0000fc"/><stop offset="0.444" stop-color="#0000ed"/><stop offset="0.656" stop-color="#0000e0"/><stop offset="0.915" stop-color="#0000e4"/><stop offset="1" stop-color="#0000e8"/></linearGradient><linearGradient id="c208"><stop offset="0" stop-color="#006cff"/><stop offset="0.053" stop-color="#0080ff"/><stop offset="0.085" stop-color="#007eff"/><stop offset="0.122" stop-color="#0062ff"/><stop offset="0.175" stop-color="#0032ff"/><stop offset="0.249" stop-color="#000dff"/><stop offset="0.296" stop-color="#0000fd"/><stop offset="0.402" stop-color="#0000ef"/><stop offset="0.619" stop-color="#0000df"/><stop offset="0.894" stop-color="#0000e2"/><stop offset="1" stop-color="#0000e7"/></linearGradient><linearGradient id="c209"><stop offset="0" stop-color="#0077ff"/><stop offset="0.042" stop-color="#0083ff"/><stop offset="0.074" stop-color="#007bff"/><stop offset="0.148" stop-color="#0036ff"/><stop offset="0.212" stop-color="#0013ff"/><stop offset="0.27" stop-color="#0000fe"/><stop offset="0.365" stop-color="#0000f0"/><stop offset="0.587" stop-color="#0000de"/><stop offset="0.847" stop-color="#0000df"/><stop offset="1" stop-color="#0000e6"/></linearGradient><linearGradient id="c210"><stop offset="0" stop-color="#0080ff"/><stop offset="0.037" stop-color="#0084ff"/><stop offset="0.063" stop-color="#0073ff"/><stop offset="0.122" stop-color="#003aff"/><stop offset="0.19" stop-color="#0013ff"/><stop offset="0.249" stop-color="#0000fe"/><stop offset="0.333" stop-color="#0000f2"/><stop offset="0.556" stop-color="#0000dd"/><stop offset="0.847" stop-color="#0000de"/><stop offset="1" stop-color="#0000e5"/></linearGradient><linearGradient id="c211"><stop offset="0" stop-color="#0085ff"/><stop offset="0.026" stop-color="#0080ff"/><stop offset="0.063" stop-color="#005dff"/><stop offset="0.106" stop-color="#0036ff"/><stop offset="0.19" stop-color="#000aff"/><stop offset="0.233" stop-color="#0000fc"/><stop offset="0.508" stop-color="#0000dd"/><stop offset="0.847" stop-color="#0000dd"/><stop offset="1" stop-color="#0000e4"/></linearGradient><linearGradient id="c212"><stop offset="0" stop-color="#0084ff"/><stop offset="0.026" stop-color="#006fff"/><stop offset="0.079" stop-color="#003aff"/><stop offset="0.164" stop-color="#000cff"/><stop offset="0.212" stop-color="#0000fc"/><stop offset="0.36" stop-color="#0000eb"/><stop offset="0.481" stop-color="#0000dc"/><stop offset="0.82" stop-color="#0000db"/><stop offset="1" stop-color="#0000e3"/></linearGradient><linearGradient id="c213"><stop offset="0" stop-color="#0076ff"/><stop offset="0.058" stop-color="#003bff"/><stop offset="0.148" stop-color="#000aff"/><stop offset="0.19" stop-color="#0000fd"/><stop offset="0.265" stop-color="#0000f6"/><stop offset="0.344" stop-color="#0000eb"/><stop offset="0.444" stop-color="#0000dc"/><stop offset="0.751" stop-color="#0000d8"/><stop offset="1" stop-color="#0000e2"/></linearGradient><linearGradient id="c214"><stop offset="0" stop-color="#0061ff"/><stop offset="0.042" stop-color="#0039ff"/><stop offset="0.132" stop-color="#0009ff"/><stop offset="0.175" stop-color="#0000fc"/><stop offset="0.291" stop-color="#0000f2"/><stop offset="0.407" stop-color="#0000dc"/><stop offset="0.688" stop-color="#0000d6"/><stop offset="1" stop-color="#0000e1"/></linearGradient><linearGradient id="c215"><stop offset="0" stop-color="#004cff"/><stop offset="0.048" stop-color="#002aff"/><stop offset="0.122" stop-color="#0006ff"/><stop offset="0.164" stop-color="#0000fa"/><stop offset="0.259" stop-color="#0000f6"/><stop offset="0.376" stop-color="#0000dc"/><stop offset="0.619" stop-color="#0000d5"/><stop offset="0.968" stop-color="#0000de"/><stop offset="1" stop-color="#0000e0"/></linearGradient><linearGradient id="c216"><stop offset="0" stop-color="#003cff"/><stop offset="0.095" stop-color="#0008ff"/><stop offset="0.143" stop-color="#0000fb"/><stop offset="0.233" stop-color="#0000f9"/><stop offset="0.349" stop-color="#0000dc"/><stop offset="0.561" stop-color="#0000d4"/><stop offset="0.905" stop-color="#0000da"/><stop offset="1" stop-color="#0000de"/></linearGradient><linearGradient id="c217"><stop offset="0" stop-color="#0030ff"/><stop offset="0.079" stop-color="#0008ff"/><stop offset="0.122" stop-color="#0000fb"/><stop offset="0.212" stop-color="#0000fb"/><stop offset="0.328" stop-color="#0000db"/><stop offset="0.529" stop-color="#0000d3"/><stop offset="0.889" stop-color="#0000d8"/><stop offset="1" stop-color="#0000dd"/></linearGradient><linearGradient id="c218"><stop offset="0" stop-color="#0026ff"/><stop offset="0.063" stop-color="#0007ff"/><stop offset="0.106" stop-color="#0000fb"/><stop offset="0.19" stop-color="#0000fe"/><stop offset="0.296" stop-color="#0000dc"/><stop offset="0.46" stop-color="#0000d2"/><stop offset="0.852" stop-color="#0000d5"/><stop offset="1" stop-color="#0000dc"/></linearGradient><linearGradient id="c219"><stop offset="0" stop-color="#001dff"/><stop offset="0.053" stop-color="#0005ff"/><stop offset="0.106" stop-color="#0000fb"/><stop offset="0.175" stop-color="#0000ff"/><stop offset="0.28" stop-color="#0000db"/><stop offset="0.429" stop-color="#0000d1"/><stop offset="0.831" stop-color="#0000d3"/><stop offset="1" stop-color="#0000da"/></linearGradient><linearGradient id="c220"><stop offset="0" stop-color="#0013ff"/><stop offset="0.053" stop-color="#0000ff"/><stop offset="0.09" stop-color="#0000fc"/><stop offset="0.148" stop-color="#0003ff"/><stop offset="0.185" stop-color="#0000f6"/><stop offset="0.254" stop-color="#0000dc"/><stop offset="0.386" stop-color="#0000d0"/><stop offset="0.847" stop-color="#0000d2"/><stop offset="1" stop-color="#0000d9"/></linearGradient><linearGradient id="c221"><stop offset="0" stop-color="#000aff"/><stop offset="0.053" stop-color="#0000fb"/><stop offset="0.127" stop-color="#0005ff"/><stop offset="0.159" stop-color="#0000fb"/><stop offset="0.228" stop-color="#0000dd"/><stop offset="0.349" stop-color="#0000cf"/><stop offset="0.831" stop-color="#0000d0"/><stop offset="1" stop-color="#0000d7"/></linearGradient><linearGradient id="c222"><stop offset="0" stop-color="#0005ff"/><stop offset="0.053" stop-color="#0000fc"/><stop offset="0.106" stop-color="#0007ff"/><stop offset="0.143" stop-color="#0000fb"/><stop offset="0.206" stop-color="#0000dd"/><stop offset="0.333" stop-color="#0000cd"/><stop offset="0.847" stop-color="#0000cf"/><stop offset="1" stop-color="#0000d5"/></linearGradient><linearGradient id="c223"><stop offset="0" stop-color="#0000ff"/><stop offset="0.032" stop-color="#0000fb"/><stop offset="0.09" stop-color="#0008ff"/><stop offset="0.127" stop-color="#0000fb"/><stop offset="0.185" stop-color="#0000dd"/><stop offset="0.302" stop-color="#0000cc"/><stop offset="0.836" stop-color="#0000cd"/><stop offset="1" stop-color="#0000d3"/></linearGradient><linearGradient id="c224"><stop offset="0" stop-color="#0000fa"/><stop offset="0.037" stop-color="#0004ff"/><stop offset="0.074" stop-color="#0008ff"/><stop offset="0.111" stop-color="#0000fb"/><stop offset="0.175" stop-color="#0000da"/><stop offset="0.296" stop-color="#0000ca"/><stop offset="0.831" stop-color="#0000cb"/><stop offset="1" stop-color="#0000d2"/></linearGradient><linearGradient id="c225"><stop offset="0" stop-color="#0000fa"/><stop offset="0.037" stop-color="#0008ff"/><stop offset="0.074" stop-color="#0005ff"/><stop offset="0.095" stop-color="#0000fb"/><stop offset="0.153" stop-color="#0000db"/><stop offset="0.27" stop-color="#0000c8"/><stop offset="0.852" stop-color="#0000ca"/><stop offset="1" stop-color="#0000d0"/></linearGradient><linearGradient id="c226"><stop offset="0" stop-color="#0001ff"/><stop offset="0.042" stop-color="#0009ff"/><stop offset="0.074" stop-color="#0000fd"/><stop offset="0.132" stop-color="#0000db"/><stop offset="0.249" stop-color="#0000c7"/><stop offset="0.852" stop-color="#0000c8"/><stop offset="1" stop-color="#0000ce"/></linearGradient><linearGradient id="c227"><stop offset="0" stop-color="#0006ff"/><stop offset="0.037" stop-color="#0007ff"/><stop offset="0.063" stop-color="#0000fa"/><stop offset="0.116" stop-color="#0000da"/><stop offset="0.233" stop-color="#0000c5"/><stop offset="0.852" stop-color="#0000c6"/><stop offset="1" stop-color="#0000cb"/></linearGradient><linearGradient id="c228"><stop offset="0" stop-color="#0008ff"/><stop offset="0.042" stop-color="#0000fd"/><stop offset="0.101" stop-color="#0000d9"/><stop offset="0.217" stop-color="#0000c3"/><stop offset="0.857" stop-color="#0000c4"/><stop offset="1" stop-color="#0000c9"/></linearGradient><linearGradient id="c229"><stop offset="0" stop-color="#0007ff"/><stop offset="0.026" stop-color="#0000fd"/><stop offset="0.085" stop-color="#0000d8"/><stop offset="0.196" stop-color="#0000c1"/><stop offset="0.862" stop-color="#0000c2"/><stop offset="1" stop-color="#0000c7"/></linearGradient><linearGradient id="c230"><stop offset="0" stop-color="#0002ff"/><stop offset="0.032" stop-color="#0000ee"/><stop offset="0.074" stop-color="#0000d5"/><stop offset="0.175" stop-color="#0000bf"/><stop offset="0.873" stop-color="#0000c0"/><stop offset="1" stop-color="#0000c4"/></linearGradient><linearGradient id="c231"><stop offset="0" stop-color="#0000f8"/><stop offset="0.053" stop-color="#0000d6"/><stop offset="0.159" stop-color="#0000bc"/><stop offset="0.852" stop-color="#0000bd"/><stop offset="1" stop-color="#0000c2"/></linearGradient><linearGradient id="c232"><stop offset="0" stop-color="#0000ed"/><stop offset="0.042" stop-color="#0000d3"/><stop offset="0.143" stop-color="#0000ba"/><stop offset="0.873" stop-color="#0000bb"/><stop offset="1" stop-color="#0000bf"/></linearGradient><linearGradient id="c233"><stop offset="0" stop-color="#0000e0"/><stop offset="0.037" stop-color="#0000ce"/><stop offset="0.127" stop-color="#0000b8"/><stop offset="0.862" stop-color="#0000b8"/><stop offset="1" stop-color="#0000bc"/></linearGradient><linearGradient id="c234"><stop offset="0" stop-color="#0000d4"/><stop offset="0.111" stop-color="#0000b5"/><stop offset="0.894" stop-color="#0000b6"/><stop offset="1" stop-color="#0000b9"/></linearGradient><linearGradient id="c235"><stop offset="0" stop-color="#0000cc"/><stop offset="0.074" stop-color="#0000b7"/><stop offset="0.111" stop-color="#0000b2"/><stop offset="0.894" stop-color="#0000b3"/><stop offset="1" stop-color="#0000b6"/></linearGradient><linearGradient id="c236"><stop offset="0" stop-color="#0000c5"/><stop offset="0.053" stop-color="#0000b7"/><stop offset="0.095" stop-color="#0000af"/><stop offset="0.899" stop-color="#0000b0"/><stop offset="1" stop-color="#0000b3"/></linearGradient><linearGradient id="c237"><stop offset="0" stop-color="#0000bf"/><stop offset="0.042" stop-color="#0000b3"/><stop offset="0.079" stop-color="#0000ac"/><stop offset="0.91" stop-color="#0000ad"/><stop offset="1" stop-color="#0000af"/></linearGradient><linearGradient id="c238"><stop offset="0" stop-color="#0000b9"/><stop offset="0.053" stop-color="#0000a9"/><stop offset="0.931" stop-color="#0000aa"/><stop offset="1" stop-color="#0000ac"/></linearGradient><linearGradient id="c239"><stop offset="0" stop-color="#0000b3"/><stop offset="0.037" stop-color="#0000a5"/><stop offset="0.915" stop-color="#0000a6"/><stop offset="1" stop-color="#0000a8"/></linearGradient><linearGradient id="c240"><stop offset="0" stop-color="#0000a9"/><stop offset="0.042" stop-color="#0000a1"/><stop offset="0.963" stop-color="#0000a3"/><stop offset="1" stop-color="#0000a4"/></linearGradient><linearGradient id="c241"><stop offset="0" stop-color="#00009f"/><stop offset="0.974" stop-color="#00009f"/><stop offset="1" stop-color="#0000a0"/></linearGradient><linearGradient id="c242"><stop offset="0" stop-color="#00009a"/><stop offset="1" stop-color="#00009b"/></linearGradient><linearGradient id="c243"><stop offset="0" stop-color="#000095"/><stop offset="1" stop-color="#000097"/></linearGradient><linearGradient id="c244"><stop offset="0" stop-color="#000091"/><stop offset="1" stop-color="#000092"/></linearGradient><linearGradient id="c245"><stop offset="0" stop-color="#00008c"/><stop offset="1" stop-color="#00008d"/></linearGradient><linearGradient id="c246"><stop offset="0" stop-color="#000087"/><stop offset="1" stop-color="#000088"/></linearGradient><linearGradient id="c247"><stop offset="0" stop-color="#000082"/><stop offset="1" stop-color="#000082"/></linearGradient></defs>
<g shape-rendering="crispEdges" transform="translate(507.4,0)"><g id="crows"><rect width="380.2" y="608.35" height="1.8" fill="url(#c0)"/><rect width="380.2" y="609.85" height="1.8" fill="url(#c1)"/><rect width="380.2" y="611.35" height="1.8" fill="url(#c2)"/><rect width="380.2" y="612.85" height="1.8" fill="url(#c3)"/><rect width="380.2" y="614.35" height="1.8" fill="url(#c4)"/><rect width="380.2" y="615.84" height="1.8" fill="url(#c5)"/><rect width="380.2" y="617.34" height="1.8" fill="url(#c6)"/><rect width="380.2" y="618.84" height="1.8" fill="url(#c7)"/><rect width="380.2" y="620.34" height="1.8" fill="url(#c8)"/><rect width="380.2" y="621.84" height="1.8" fill="url(#c9)"/><rect width="380.2" y="623.34" height="1.8" fill="url(#c10)"/><rect width="380.2" y="624.84" height="1.8" fill="url(#c11)"/><rect width="380.2" y="626.34" height="1.8" fill="url(#c12)"/><rect width="380.2" y="627.83" height="1.8" fill="url(#c13)"/><rect width="380.2" y="629.33" height="1.8" fill="url(#c14)"/><rect width="380.2" y="630.83" height="1.8" fill="url(#c15)"/><rect width="380.2" y="632.33" height="1.8" fill="url(#c16)"/><rect width="380.2" y="633.83" height="1.8" fill="url(#c17)"/><rect width="380.2" y="635.33" height="1.8" fill="url(#c18)"/><rect width="380.2" y="636.83" height="1.8" fill="url(#c19)"/><rect width="380.2" y="638.33" height="1.8" fill="url(#c20)"/><rect width="380.2" y="639.82" height="1.8" fill="url(#c21)"/><rect width="380.2" y="641.32" height="1.8" fill="url(#c22)"/><rect width="380.2" y="642.82" height="1.8" fill="url(#c23)"/><rect width="380.2" y="644.32" height="1.8" fill="url(#c24)"/><rect width="380.2" y="645.82" height="1.8" fill="url(#c25)"/><rect width="380.2" y="647.32" height="1.8" fill="url(#c26)"/><rect width="380.2" y="648.82" height="1.8" fill="url(#c27)"/><rect width="380.2" y="650.32" height="1.8" fill="url(#c28)"/><rect width="380.2" y="651.81" height="1.8" fill="url(#c29)"/><rect width="380.2" y="653.31" height="1.8" fill="url(#c30)"/><rect width="380.2" y="654.81" height="1.8" fill="url(#c31)"/><rect width="380.2" y="656.31" height="1.8" fill="url(#c32)"/><rect width="380.2" y="657.81" height="1.8" fill="url(#c33)"/><rect width="380.2" y="659.31" height="1.8" fill="url(#c34)"/><rect width="380.2" y="660.81" height="1.8" fill="url(#c35)"/><rect width="380.2" y="662.31" height="1.8" fill="url(#c36)"/><rect width="380.2" y="663.81" height="1.8" fill="url(#c37)"/><rect width="380.2" y="665.3" height="1.8" fill="url(#c38)"/><rect width="380.2" y="666.8" height="1.8" fill="url(#c39)"/><rect width="380.2" y="668.3" height="1.8" fill="url(#c40)"/><rect width="380.2" y="669.8" height="1.8" fill="url(#c41)"/><rect width="380.2" y="671.3" height="1.8" fill="url(#c42)"/><rect width="380.2" y="672.8" height="1.8" fill="url(#c43)"/><rect width="380.2" y="674.3" height="1.8" fill="url(#c44)"/><rect width="380.2" y="675.8" height="1.8" fill="url(#c45)"/><rect width="380.2" y="677.29" height="1.8" fill="url(#c46)"/><rect width="380.2" y="678.79" height="1.8" fill="url(#c47)"/><rect width="380.2" y="680.29" height="1.8" fill="url(#c48)"/><rect width="380.2" y="681.79" height="1.8" fill="url(#c49)"/><rect width="380.2" y="683.29" height="1.8" fill="url(#c50)"/><rect width="380.2" y="684.79" height="1.8" fill="url(#c51)"/><rect width="380.2" y="686.29" height="1.8" fill="url(#c52)"/><rect width="380.2" y="687.79" height="1.8" fill="url(#c53)"/><rect width="380.2" y="689.28" height="1.8" fill="url(#c54)"/><rect width="380.2" y="690.78" height="1.8" fill="url(#c55)"/><rect width="380.2" y="692.28" height="1.8" fill="url(#c56)"/><rect width="380.2" y="693.78" height="1.8" fill="url(#c57)"/><rect width="380.2" y="695.28" height="1.8" fill="url(#c58)"/><rect width="380.2" y="696.78" height="1.8" fill="url(#c59)"/><rect width="380.2" y="698.28" height="1.8" fill="url(#c60)"/><rect width="380.2" y="699.78" height="1.8" fill="url(#c61)"/><rect width="380.2" y="701.27" height="1.8" fill="url(#c62)"/><rect width="380.2" y="702.77" height="1.8" fill="url(#c63)"/><rect width="380.2" y="704.27" height="1.8" fill="url(#c64)"/><rect width="380.2" y="705.77" height="1.8" fill="url(#c65)"/><rect width="380.2" y="707.27" height="1.8" fill="url(#c66)"/><rect width="380.2" y="708.77" height="1.8" fill="url(#c67)"/><rect width="380.2" y="710.27" height="1.8" fill="url(#c68)"/><rect width="380.2" y="711.77" height="1.8" fill="url(#c69)"/><rect width="380.2" y="713.27" height="1.8" fill="url(#c70)"/><rect width="380.2" y="714.76" height="1.8" fill="url(#c71)"/><rect width="380.2" y="716.26" height="1.8" fill="url(#c72)"/><rect width="380.2" y="717.76" height="1.8" fill="url(#c73)"/><rect width="380.2" y="719.26" height="1.8" fill="url(#c74)"/><rect width="380.2" y="720.76" height="1.8" fill="url(#c75)"/><rect width="380.2" y="722.26" height="1.8" fill="url(#c76)"/><rect width="380.2" y="723.76" height="1.8" fill="url(#c77)"/><rect width="380.2" y="725.26" height="1.8" fill="url(#c78)"/><rect width="380.2" y="726.75" height="1.8" fill="url(#c79)"/><rect width="380.2" y="728.25" height="1.8" fill="url(#c80)"/><rect width="380.2" y="729.75" height="1.8" fill="url(#c81)"/><rect width="380.2" y="731.25" height="1.8" fill="url(#c82)"/><rect width="380.2" y="732.75" height="1.8" fill="url(#c83)"/><rect width="380.2" y="734.25" height="1.8" fill="url(#c84)"/><rect width="380.2" y="735.75" height="1.8" fill="url(#c85)"/><rect width="380.2" y="737.25" height="1.8" fill="url(#c86)"/><rect width="380.2" y="738.74" height="1.8" fill="url(#c87)"/><rect width="380.2" y="740.24" height="1.8" fill="url(#c88)"/><rect width="380.2" y="741.74" height="1.8" fill="url(#c89)"/><rect width="380.2" y="743.24" height="1.8" fill="url(#c90)"/><rect width="380.2" y="744.74" height="1.8" fill="url(#c91)"/><rect width="380.2" y="746.24" height="1.8" fill="url(#c92)"/><rect width="380.2" y="747.74" height="1.8" fill="url(#c93)"/><rect width="380.2" y="749.24" height="1.8" fill="url(#c94)"/><rect width="380.2" y="750.74" height="1.8" fill="url(#c95)"/><rect width="380.2" y="752.23" height="1.8" fill="url(#c96)"/><rect width="380.2" y="753.73" height="1.8" fill="url(#c97)"/><rect width="380.2" y="755.23" height="1.8" fill="url(#c98)"/><rect width="380.2" y="756.73" height="1.8" fill="url(#c99)"/><rect width="380.2" y="758.23" height="1.8" fill="url(#c100)"/><rect width="380.2" y="759.73" height="1.8" fill="url(#c101)"/><rect width="380.2" y="761.23" height="1.8" fill="url(#c102)"/><rect width="380.2" y="762.73" height="1.8" fill="url(#c103)"/><rect width="380.2" y="764.22" height="1.8" fill="url(#c104)"/><rect width="380.2" y="765.72" height="1.8" fill="url(#c105)"/><rect width="380.2" y="767.22" height="1.8" fill="url(#c106)"/><rect width="380.2" y="768.72" height="1.8" fill="url(#c107)"/><rect width="380.2" y="770.22" height="1.8" fill="url(#c108)"/><rect width="380.2" y="771.72" height="1.8" fill="url(#c109)"/><rect width="380.2" y="773.22" height="1.8" fill="url(#c110)"/><rect width="380.2" y="774.72" height="1.8" fill="url(#c111)"/><rect width="380.2" y="776.21" height="1.8" fill="url(#c112)"/><rect width="380.2" y="777.71" height="1.8" fill="url(#c113)"/><rect width="380.2" y="779.21" height="1.8" fill="url(#c114)"/><rect width="380.2" y="780.71" height="1.8" fill="url(#c115)"/><rect width="380.2" y="782.21" height="1.8" fill="url(#c116)"/><rect width="380.2" y="783.71" height="1.8" fill="url(#c117)"/><rect width="380.2" y="785.21" height="1.8" fill="url(#c118)"/><rect width="380.2" y="786.71" height="1.8" fill="url(#c119)"/><rect width="380.2" y="788.2" height="1.8" fill="url(#c120)"/><rect width="380.2" y="789.7" height="1.8" fill="url(#c121)"/><rect width="380.2" y="791.2" height="1.8" fill="url(#c122)"/><rect width="380.2" y="792.7" height="1.8" fill="url(#c123)"/><rect width="380.2" y="794.2" height="1.8" fill="url(#c124)"/><rect width="380.2" y="795.7" height="1.8" fill="url(#c125)"/><rect width="380.2" y="797.2" height="1.8" fill="url(#c126)"/><rect width="380.2" y="798.7" height="1.8" fill="url(#c127)"/><rect width="380.2" y="800.2" height="1.8" fill="url(#c128)"/><rect width="380.2" y="801.69" height="1.8" fill="url(#c129)"/><rect width="380.2" y="803.19" height="1.8" fill="url(#c130)"/><rect width="380.2" y="804.69" height="1.8" fill="url(#c131)"/><rect width="380.2" y="806.19" height="1.8" fill="url(#c132)"/><rect width="380.2" y="807.69" height="1.8" fill="url(#c133)"/><rect width="380.2" y="809.19" height="1.8" fill="url(#c134)"/><rect width="380.2" y="810.69" height="1.8" fill="url(#c135)"/><rect width="380.2" y="812.19" height="1.8" fill="url(#c136)"/><rect width="380.2" y="813.68" height="1.8" fill="url(#c137)"/><rect width="380.2" y="815.18" height="1.8" fill="url(#c138)"/><rect width="380.2" y="816.68" height="1.8" fill="url(#c139)"/><rect width="380.2" y="818.18" height="1.8" fill="url(#c140)"/><rect width="380.2" y="819.68" height="1.8" fill="url(#c141)"/><rect width="380.2" y="821.18" height="1.8" fill="url(#c142)"/><rect width="380.2" y="822.68" height="1.8" fill="url(#c143)"/><rect width="380.2" y="824.18" height="1.8" fill="url(#c144)"/><rect width="380.2" y="825.67" height="1.8" fill="url(#c145)"/><rect width="380.2" y="827.17" height="1.8" fill="url(#c146)"/><rect width="380.2" y="828.67" height="1.8" fill="url(#c147)"/><rect width="380.2" y="830.17" height="1.8" fill="url(#c148)"/><rect width="380.2" y="831.67" height="1.8" fill="url(#c149)"/><rect width="380.2" y="833.17" height="1.8" fill="url(#c150)"/><rect width="380.2" y="834.67" height="1.8" fill="url(#c151)"/><rect width="380.2" y="836.17" height="1.8" fill="url(#c152)"/><rect width="380.2" y="837.66" height="1.8" fill="url(#c153)"/><rect width="380.2" y="839.16" height="1.8" fill="url(#c154)"/><rect width="380.2" y="840.66" height="1.8" fill="url(#c155)"/><rect width="380.2" y="842.16" height="1.8" fill="url(#c156)"/><rect width="380.2" y="843.66" height="1.8" fill="url(#c157)"/><rect width="380.2" y="845.16" height="1.8" fill="url(#c158)"/><rect width="380.2" y="846.66" height="1.8" fill="url(#c159)"/><rect width="380.2" y="848.16" height="1.8" fill="url(#c160)"/><rect width="380.2" y="849.66" height="1.8" fill="url(#c161)"/><rect width="380.2" y="851.15" height="1.8" fill="url(#c162)"/><rect width="380.2" y="852.65" height="1.8" fill="url(#c163)"/><rect width="380.2" y="854.15" height="1.8" fill="url(#c164)"/><rect width="380.2" y="855.65" height="1.8" fill="url(#c165)"/><rect width="380.2" y="857.15" height="1.8" fill="url(#c166)"/><rect width="380.2" y="858.65" height="1.8" fill="url(#c167)"/><rect width="380.2" y="860.15" height="1.8" fill="url(#c168)"/><rect width="380.2" y="861.65" height="1.8" fill="url(#c169)"/><rect width="380.2" y="863.14" height="1.8" fill="url(#c170)"/><rect width="380.2" y="864.64" height="1.8" fill="url(#c171)"/><rect width="380.2" y="866.14" height="1.8" fill="url(#c172)"/><rect width="380.2" y="867.64" height="1.8" fill="url(#c173)"/><rect width="380.2" y="869.14" height="1.8" fill="url(#c174)"/><rect width="380.2" y="870.64" height="1.8" fill="url(#c175)"/><rect width="380.2" y="872.14" height="1.8" fill="url(#c176)"/><rect width="380.2" y="873.64" height="1.8" fill="url(#c177)"/><rect width="380.2" y="875.13" height="1.8" fill="url(#c178)"/><rect width="380.2" y="876.63" height="1.8" fill="url(#c179)"/><rect width="380.2" y="878.13" height="1.8" fill="url(#c180)"/><rect width="380.2" y="879.63" height="1.8" fill="url(#c181)"/><rect width="380.2" y="881.13" height="1.8" fill="url(#c182)"/><rect width="380.2" y="882.63" height="1.8" fill="url(#c183)"/><rect width="380.2" y="884.13" height="1.8" fill="url(#c184)"/><rect width="380.2" y="885.63" height="1.8" fill="url(#c185)"/><rect width="380.2" y="887.13" height="1.8" fill="url(#c186)"/><rect width="380.2" y="888.62" height="1.8" fill="url(#c187)"/><rect width="380.2" y="890.12" height="1.8" fill="url(#c188)"/><rect width="380.2" y="891.62" height="1.8" fill="url(#c189)"/><rect width="380.2" y="893.12" height="1.8" fill="url(#c190)"/><rect width="380.2" y="894.62" height="1.8" fill="url(#c191)"/><rect width="380.2" y="896.12" height="1.8" fill="url(#c192)"/><rect width="380.2" y="897.62" height="1.8" fill="url(#c193)"/><rect width="380.2" y="899.12" height="1.8" fill="url(#c194)"/><rect width="380.2" y="900.61" height="1.8" fill="url(#c195)"/><rect width="380.2" y="902.11" height="1.8" fill="url(#c196)"/><rect width="380.2" y="903.61" height="1.8" fill="url(#c197)"/><rect width="380.2" y="905.11" height="1.8" fill="url(#c198)"/><rect width="380.2" y="906.61" height="1.8" fill="url(#c199)"/><rect width="380.2" y="908.11" height="1.8" fill="url(#c200)"/><rect width="380.2" y="909.61" height="1.8" fill="url(#c201)"/><rect width="380.2" y="911.11" height="1.8" fill="url(#c202)"/><rect width="380.2" y="912.6" height="1.8" fill="url(#c203)"/><rect width="380.2" y="914.1" height="1.8" fill="url(#c204)"/><rect width="380.2" y="915.6" height="1.8" fill="url(#c205)"/><rect width="380.2" y="917.1" height="1.8" fill="url(#c206)"/><rect width="380.2" y="918.6" height="1.8" fill="url(#c207)"/><rect width="380.2" y="920.1" height="1.8" fill="url(#c208)"/><rect width="380.2" y="921.6" height="1.8" fill="url(#c209)"/><rect width="380.2" y="923.1" height="1.8" fill="url(#c210)"/><rect width="380.2" y="924.59" height="1.8" fill="url(#c211)"/><rect width="380.2" y="926.09" height="1.8" fill="url(#c212)"/><rect width="380.2" y="927.59" height="1.8" fill="url(#c213)"/><rect width="380.2" y="929.09" height="1.8" fill="url(#c214)"/><rect width="380.2" y="930.59" height="1.8" fill="url(#c215)"/><rect width="380.2" y="932.09" height="1.8" fill="url(#c216)"/><rect width="380.2" y="933.59" height="1.8" fill="url(#c217)"/><rect width="380.2" y="935.09" height="1.8" fill="url(#c218)"/><rect width="380.2" y="936.59" height="1.8" fill="url(#c219)"/><rect width="380.2" y="938.08" height="1.8" fill="url(#c220)"/><rect width="380.2" y="939.58" height="1.8" fill="url(#c221)"/><rect width="380.2" y="941.08" height="1.8" fill="url(#c222)"/><rect width="380.2" y="942.58" height="1.8" fill="url(#c223)"/><rect width="380.2" y="944.08" height="1.8" fill="url(#c224)"/><rect width="380.2" y="945.58" height="1.8" fill="url(#c225)"/><rect width="380.2" y="947.08" height="1.8" fill="url(#c226)"/><rect width="380.2" y="948.58" height="1.8" fill="url(#c227)"/><rect width="380.2" y="950.07" height="1.8" fill="url(#c228)"/><rect width="380.2" y="951.57" height="1.8" fill="url(#c229)"/><rect width="380.2" y="953.07" height="1.8" fill="url(#c230)"/><rect width="380.2" y="954.57" height="1.8" fill="url(#c231)"/><rect width="380.2" y="956.07" height="1.8" fill="url(#c232)"/><rect width="380.2" y="957.57" height="1.8" fill="url(#c233)"/><rect width="380.2" y="959.07" height="1.8" fill="url(#c234)"/><rect width="380.2" y="960.57" height="1.8" fill="url(#c235)"/><rect width="380.2" y="962.06" height="1.8" fill="url(#c236)"/><rect width="380.2" y="963.56" height="1.8" fill="url(#c237)"/><rect width="380.2" y="965.06" height="1.8" fill="url(#c238)"/><rect width="380.2" y="966.56" height="1.8" fill="url(#c239)"/><rect width="380.2" y="968.06" height="1.8" fill="url(#c240)"/><rect width="380.2" y="969.56" height="1.8" fill="url(#c241)"/><rect width="380.2" y="971.06" height="1.8" fill="url(#c242)"/><rect width="380.2" y="972.56" height="1.8" fill="url(#c243)"/><rect width="380.2" y="974.05" height="1.8" fill="url(#c244)"/><rect width="380.2" y="975.55" height="1.8" fill="url(#c245)"/><rect width="380.2" y="977.05" height="1.8" fill="url(#c246)"/><rect width="380.2" y="978.55" height="1.8" fill="url(#c247)"/></g></g>
<rect x="507.4" y="608.5" width="380.20000000000005" height="371.70000000000005" fill="none" stroke="#222" stroke-width="1.2"/>
</g>
<g font-family='"Liberation Sans", Arial, Helvetica, sans-serif' font-size="28" fill="#000">
<text x="84.5" y="1012.8" text-anchor="middle">0</text>
<text x="144.6" y="1012.8" text-anchor="middle">0.3</text>
<text x="204.7" y="1012.8" text-anchor="middle">0.6</text>
<text x="264.8" y="1012.8" text-anchor="middle">0.9</text>
<text x="324.9" y="1012.8" text-anchor="middle">1.2</text>
<text x="385" y="1012.8" text-anchor="middle">1.5</text>
<text x="445" y="1012.8" text-anchor="middle">1.8</text>
<text x="78.1" y="990.5" text-anchor="end">0</text>
<text x="78.1" y="937.4" text-anchor="end">10</text>
<path d="M463.6 927.1h2.5" stroke="#000" stroke-width="1"/>
<text x="78.1" y="884.3" text-anchor="end">20</text>
<path d="M463.6 874h2.5" stroke="#000" stroke-width="1"/>
<text x="78.1" y="831.2" text-anchor="end">30</text>
<path d="M463.6 820.9h2.5" stroke="#000" stroke-width="1"/>
<text x="78.1" y="778.1" text-anchor="end">40</text>
<path d="M463.6 767.8h2.5" stroke="#000" stroke-width="1"/>
<text x="78.1" y="725" text-anchor="end">50</text>
<path d="M463.6 714.7h2.5" stroke="#000" stroke-width="1"/>
<text x="78.1" y="671.9" text-anchor="end">60</text>
<path d="M463.6 661.6h2.5" stroke="#000" stroke-width="1"/>
<text x="78.1" y="618.8" text-anchor="end">70</text>
<text x="214.6" y="1044" textLength="117.5" lengthAdjust="spacingAndGlyphs">k (1/bohr)</text>
<text x="506.8" y="1012.8" text-anchor="middle">0</text>
<text x="566.9" y="1012.8" text-anchor="middle">0.3</text>
<text x="627" y="1012.8" text-anchor="middle">0.6</text>
<text x="687.1" y="1012.8" text-anchor="middle">0.9</text>
<text x="747.2" y="1012.8" text-anchor="middle">1.2</text>
<text x="807.2" y="1012.8" text-anchor="middle">1.5</text>
<text x="867.3" y="1012.8" text-anchor="middle">1.8</text>
<text x="500.4" y="990.5" text-anchor="end">0</text>
<text x="500.4" y="937.4" text-anchor="end">10</text>
<text x="500.4" y="884.3" text-anchor="end">20</text>
<text x="500.4" y="831.2" text-anchor="end">30</text>
<text x="500.4" y="778.1" text-anchor="end">40</text>
<text x="500.4" y="725" text-anchor="end">50</text>
<text x="500.4" y="671.9" text-anchor="end">60</text>
<text x="500.4" y="618.8" text-anchor="end">70</text>
<text x="636.9" y="1044" textLength="117.5" lengthAdjust="spacingAndGlyphs">k (1/bohr)</text>
<text transform="translate(31.5,833.5) rotate(-90)" font-size="22.5">ω</text><text transform="translate(30.5,806) rotate(-90)" textLength="52.5" lengthAdjust="spacingAndGlyphs">(eV)</text>
</g>
<g font-family='"Liberation Sans", Arial, Helvetica, sans-serif' font-size="30.6" fill="#fff">
<text x="212" y="959.8" textLength="233.5" lengthAdjust="spacingAndGlyphs">(b) ELF with LFE</text>
<text x="592.2" y="959.8" textLength="275.5" lengthAdjust="spacingAndGlyphs">(c) ELF without LFE</text>
</g>
</svg>
</body></html>
